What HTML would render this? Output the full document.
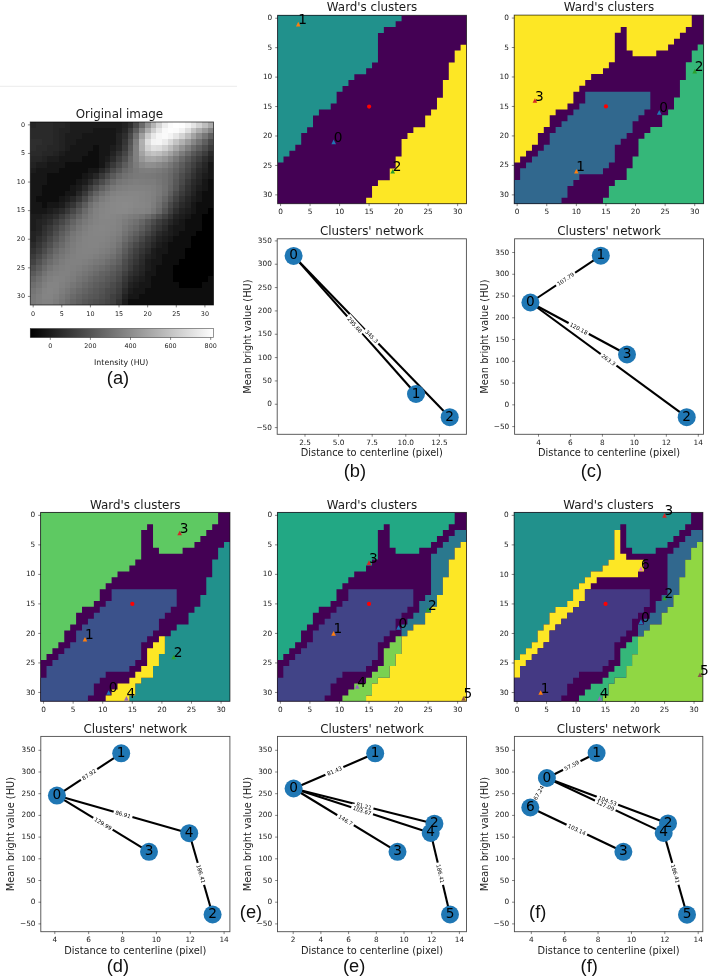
<!DOCTYPE html><html><head><meta charset="utf-8"><title>Figure</title><style>html,body{margin:0;padding:0;background:#fff}svg{display:block}</style></head><body>
<svg width="709" height="976" viewBox="0 0 709 976">
<rect width="709" height="976" fill="#fff"/>
<line x1="0" y1="86.3" x2="237" y2="86.3" stroke="#ececec" stroke-width="1"/>
<defs><clipPath id="ca"><rect x="30.30" y="122.00" width="183.20" height="183.00"/></clipPath><filter id="bl" x="-5%" y="-5%" width="110%" height="110%"><feGaussianBlur stdDeviation="0.55"/></filter></defs>
<g clip-path="url(#ca)"><g filter="url(#bl)" shape-rendering="crispEdges">
<rect x="24.3" y="116.0" width="195.20" height="195.00" fill="#222"/>
<rect x="24.58" y="116.28" width="6.32" height="6.32" fill="rgb(40,40,40)"/>
<rect x="30.30" y="116.28" width="6.32" height="6.32" fill="rgb(40,40,40)"/>
<rect x="36.02" y="116.28" width="6.32" height="6.32" fill="rgb(41,41,41)"/>
<rect x="41.75" y="116.28" width="6.32" height="6.32" fill="rgb(41,41,41)"/>
<rect x="47.47" y="116.28" width="6.32" height="6.32" fill="rgb(41,41,41)"/>
<rect x="53.20" y="116.28" width="6.32" height="6.32" fill="rgb(40,40,40)"/>
<rect x="58.92" y="116.28" width="6.32" height="6.32" fill="rgb(37,37,37)"/>
<rect x="64.65" y="116.28" width="6.32" height="6.32" fill="rgb(33,33,33)"/>
<rect x="70.38" y="116.28" width="6.32" height="6.32" fill="rgb(31,31,31)"/>
<rect x="76.10" y="116.28" width="6.32" height="6.32" fill="rgb(30,30,30)"/>
<rect x="81.83" y="116.28" width="6.32" height="6.32" fill="rgb(29,29,29)"/>
<rect x="87.55" y="116.28" width="6.32" height="6.32" fill="rgb(28,28,28)"/>
<rect x="93.27" y="116.28" width="6.32" height="6.32" fill="rgb(27,27,27)"/>
<rect x="99.00" y="116.28" width="6.32" height="6.32" fill="rgb(26,26,26)"/>
<rect x="104.72" y="116.28" width="6.32" height="6.32" fill="rgb(26,26,26)"/>
<rect x="110.45" y="116.28" width="6.32" height="6.32" fill="rgb(26,26,26)"/>
<rect x="116.17" y="116.28" width="6.32" height="6.32" fill="rgb(28,28,28)"/>
<rect x="121.90" y="116.28" width="6.32" height="6.32" fill="rgb(33,33,33)"/>
<rect x="127.62" y="116.28" width="6.32" height="6.32" fill="rgb(47,47,47)"/>
<rect x="133.35" y="116.28" width="6.32" height="6.32" fill="rgb(73,73,73)"/>
<rect x="139.07" y="116.28" width="6.32" height="6.32" fill="rgb(107,107,107)"/>
<rect x="144.80" y="116.28" width="6.32" height="6.32" fill="rgb(144,144,144)"/>
<rect x="150.53" y="116.28" width="6.32" height="6.32" fill="rgb(180,180,180)"/>
<rect x="156.25" y="116.28" width="6.32" height="6.32" fill="rgb(212,212,212)"/>
<rect x="161.97" y="116.28" width="6.32" height="6.32" fill="rgb(238,238,238)"/>
<rect x="167.70" y="116.28" width="6.32" height="6.32" fill="rgb(251,251,251)"/>
<rect x="173.43" y="116.28" width="6.32" height="6.32" fill="rgb(255,255,255)"/>
<rect x="179.15" y="116.28" width="6.32" height="6.32" fill="rgb(253,253,253)"/>
<rect x="184.88" y="116.28" width="6.32" height="6.32" fill="rgb(244,244,244)"/>
<rect x="190.60" y="116.28" width="6.32" height="6.32" fill="rgb(229,229,229)"/>
<rect x="196.32" y="116.28" width="6.32" height="6.32" fill="rgb(211,211,211)"/>
<rect x="202.05" y="116.28" width="6.32" height="6.32" fill="rgb(190,190,190)"/>
<rect x="207.78" y="116.28" width="6.32" height="6.32" fill="rgb(168,168,168)"/>
<rect x="213.50" y="116.28" width="6.32" height="6.32" fill="rgb(168,168,168)"/>
<rect x="24.58" y="122.00" width="6.32" height="6.32" fill="rgb(40,40,40)"/>
<rect x="30.30" y="122.00" width="6.32" height="6.32" fill="rgb(40,40,40)"/>
<rect x="36.02" y="122.00" width="6.32" height="6.32" fill="rgb(41,41,41)"/>
<rect x="41.75" y="122.00" width="6.32" height="6.32" fill="rgb(41,41,41)"/>
<rect x="47.47" y="122.00" width="6.32" height="6.32" fill="rgb(41,41,41)"/>
<rect x="53.20" y="122.00" width="6.32" height="6.32" fill="rgb(40,40,40)"/>
<rect x="58.92" y="122.00" width="6.32" height="6.32" fill="rgb(37,37,37)"/>
<rect x="64.65" y="122.00" width="6.32" height="6.32" fill="rgb(33,33,33)"/>
<rect x="70.38" y="122.00" width="6.32" height="6.32" fill="rgb(31,31,31)"/>
<rect x="76.10" y="122.00" width="6.32" height="6.32" fill="rgb(30,30,30)"/>
<rect x="81.83" y="122.00" width="6.32" height="6.32" fill="rgb(29,29,29)"/>
<rect x="87.55" y="122.00" width="6.32" height="6.32" fill="rgb(28,28,28)"/>
<rect x="93.27" y="122.00" width="6.32" height="6.32" fill="rgb(27,27,27)"/>
<rect x="99.00" y="122.00" width="6.32" height="6.32" fill="rgb(26,26,26)"/>
<rect x="104.72" y="122.00" width="6.32" height="6.32" fill="rgb(26,26,26)"/>
<rect x="110.45" y="122.00" width="6.32" height="6.32" fill="rgb(26,26,26)"/>
<rect x="116.17" y="122.00" width="6.32" height="6.32" fill="rgb(28,28,28)"/>
<rect x="121.90" y="122.00" width="6.32" height="6.32" fill="rgb(33,33,33)"/>
<rect x="127.62" y="122.00" width="6.32" height="6.32" fill="rgb(47,47,47)"/>
<rect x="133.35" y="122.00" width="6.32" height="6.32" fill="rgb(73,73,73)"/>
<rect x="139.07" y="122.00" width="6.32" height="6.32" fill="rgb(107,107,107)"/>
<rect x="144.80" y="122.00" width="6.32" height="6.32" fill="rgb(144,144,144)"/>
<rect x="150.53" y="122.00" width="6.32" height="6.32" fill="rgb(180,180,180)"/>
<rect x="156.25" y="122.00" width="6.32" height="6.32" fill="rgb(212,212,212)"/>
<rect x="161.97" y="122.00" width="6.32" height="6.32" fill="rgb(238,238,238)"/>
<rect x="167.70" y="122.00" width="6.32" height="6.32" fill="rgb(251,251,251)"/>
<rect x="173.43" y="122.00" width="6.32" height="6.32" fill="rgb(255,255,255)"/>
<rect x="179.15" y="122.00" width="6.32" height="6.32" fill="rgb(253,253,253)"/>
<rect x="184.88" y="122.00" width="6.32" height="6.32" fill="rgb(244,244,244)"/>
<rect x="190.60" y="122.00" width="6.32" height="6.32" fill="rgb(229,229,229)"/>
<rect x="196.32" y="122.00" width="6.32" height="6.32" fill="rgb(211,211,211)"/>
<rect x="202.05" y="122.00" width="6.32" height="6.32" fill="rgb(190,190,190)"/>
<rect x="207.78" y="122.00" width="6.32" height="6.32" fill="rgb(168,168,168)"/>
<rect x="213.50" y="122.00" width="6.32" height="6.32" fill="rgb(168,168,168)"/>
<rect x="24.58" y="127.72" width="6.32" height="6.32" fill="rgb(42,42,42)"/>
<rect x="30.30" y="127.72" width="6.32" height="6.32" fill="rgb(42,42,42)"/>
<rect x="36.02" y="127.72" width="6.32" height="6.32" fill="rgb(42,42,42)"/>
<rect x="41.75" y="127.72" width="6.32" height="6.32" fill="rgb(42,42,42)"/>
<rect x="47.47" y="127.72" width="6.32" height="6.32" fill="rgb(42,42,42)"/>
<rect x="53.20" y="127.72" width="6.32" height="6.32" fill="rgb(40,40,40)"/>
<rect x="58.92" y="127.72" width="6.32" height="6.32" fill="rgb(36,36,36)"/>
<rect x="64.65" y="127.72" width="6.32" height="6.32" fill="rgb(32,32,32)"/>
<rect x="70.38" y="127.72" width="6.32" height="6.32" fill="rgb(29,29,29)"/>
<rect x="76.10" y="127.72" width="6.32" height="6.32" fill="rgb(28,28,28)"/>
<rect x="81.83" y="127.72" width="6.32" height="6.32" fill="rgb(27,27,27)"/>
<rect x="87.55" y="127.72" width="6.32" height="6.32" fill="rgb(26,26,26)"/>
<rect x="93.27" y="127.72" width="6.32" height="6.32" fill="rgb(25,25,25)"/>
<rect x="99.00" y="127.72" width="6.32" height="6.32" fill="rgb(24,24,24)"/>
<rect x="104.72" y="127.72" width="6.32" height="6.32" fill="rgb(24,24,24)"/>
<rect x="110.45" y="127.72" width="6.32" height="6.32" fill="rgb(25,25,25)"/>
<rect x="116.17" y="127.72" width="6.32" height="6.32" fill="rgb(30,30,30)"/>
<rect x="121.90" y="127.72" width="6.32" height="6.32" fill="rgb(40,40,40)"/>
<rect x="127.62" y="127.72" width="6.32" height="6.32" fill="rgb(60,60,60)"/>
<rect x="133.35" y="127.72" width="6.32" height="6.32" fill="rgb(92,92,92)"/>
<rect x="139.07" y="127.72" width="6.32" height="6.32" fill="rgb(132,132,132)"/>
<rect x="144.80" y="127.72" width="6.32" height="6.32" fill="rgb(172,172,172)"/>
<rect x="150.53" y="127.72" width="6.32" height="6.32" fill="rgb(206,206,206)"/>
<rect x="156.25" y="127.72" width="6.32" height="6.32" fill="rgb(231,231,231)"/>
<rect x="161.97" y="127.72" width="6.32" height="6.32" fill="rgb(249,249,249)"/>
<rect x="167.70" y="127.72" width="6.32" height="6.32" fill="rgb(253,253,253)"/>
<rect x="173.43" y="127.72" width="6.32" height="6.32" fill="rgb(251,251,251)"/>
<rect x="179.15" y="127.72" width="6.32" height="6.32" fill="rgb(242,242,242)"/>
<rect x="184.88" y="127.72" width="6.32" height="6.32" fill="rgb(222,222,222)"/>
<rect x="190.60" y="127.72" width="6.32" height="6.32" fill="rgb(195,195,195)"/>
<rect x="196.32" y="127.72" width="6.32" height="6.32" fill="rgb(173,173,173)"/>
<rect x="202.05" y="127.72" width="6.32" height="6.32" fill="rgb(154,154,154)"/>
<rect x="207.78" y="127.72" width="6.32" height="6.32" fill="rgb(132,132,132)"/>
<rect x="213.50" y="127.72" width="6.32" height="6.32" fill="rgb(132,132,132)"/>
<rect x="24.58" y="133.44" width="6.32" height="6.32" fill="rgb(44,44,44)"/>
<rect x="30.30" y="133.44" width="6.32" height="6.32" fill="rgb(44,44,44)"/>
<rect x="36.02" y="133.44" width="6.32" height="6.32" fill="rgb(44,44,44)"/>
<rect x="41.75" y="133.44" width="6.32" height="6.32" fill="rgb(44,44,44)"/>
<rect x="47.47" y="133.44" width="6.32" height="6.32" fill="rgb(42,42,42)"/>
<rect x="53.20" y="133.44" width="6.32" height="6.32" fill="rgb(40,40,40)"/>
<rect x="58.92" y="133.44" width="6.32" height="6.32" fill="rgb(35,35,35)"/>
<rect x="64.65" y="133.44" width="6.32" height="6.32" fill="rgb(31,31,31)"/>
<rect x="70.38" y="133.44" width="6.32" height="6.32" fill="rgb(28,28,28)"/>
<rect x="76.10" y="133.44" width="6.32" height="6.32" fill="rgb(26,26,26)"/>
<rect x="81.83" y="133.44" width="6.32" height="6.32" fill="rgb(25,25,25)"/>
<rect x="87.55" y="133.44" width="6.32" height="6.32" fill="rgb(24,24,24)"/>
<rect x="93.27" y="133.44" width="6.32" height="6.32" fill="rgb(23,23,23)"/>
<rect x="99.00" y="133.44" width="6.32" height="6.32" fill="rgb(22,22,22)"/>
<rect x="104.72" y="133.44" width="6.32" height="6.32" fill="rgb(22,22,22)"/>
<rect x="110.45" y="133.44" width="6.32" height="6.32" fill="rgb(25,25,25)"/>
<rect x="116.17" y="133.44" width="6.32" height="6.32" fill="rgb(32,32,32)"/>
<rect x="121.90" y="133.44" width="6.32" height="6.32" fill="rgb(46,46,46)"/>
<rect x="127.62" y="133.44" width="6.32" height="6.32" fill="rgb(73,73,73)"/>
<rect x="133.35" y="133.44" width="6.32" height="6.32" fill="rgb(112,112,112)"/>
<rect x="139.07" y="133.44" width="6.32" height="6.32" fill="rgb(159,159,159)"/>
<rect x="144.80" y="133.44" width="6.32" height="6.32" fill="rgb(203,203,203)"/>
<rect x="150.53" y="133.44" width="6.32" height="6.32" fill="rgb(232,232,232)"/>
<rect x="156.25" y="133.44" width="6.32" height="6.32" fill="rgb(246,246,246)"/>
<rect x="161.97" y="133.44" width="6.32" height="6.32" fill="rgb(250,250,250)"/>
<rect x="167.70" y="133.44" width="6.32" height="6.32" fill="rgb(244,244,244)"/>
<rect x="173.43" y="133.44" width="6.32" height="6.32" fill="rgb(230,230,230)"/>
<rect x="179.15" y="133.44" width="6.32" height="6.32" fill="rgb(212,212,212)"/>
<rect x="184.88" y="133.44" width="6.32" height="6.32" fill="rgb(189,189,189)"/>
<rect x="190.60" y="133.44" width="6.32" height="6.32" fill="rgb(163,163,163)"/>
<rect x="196.32" y="133.44" width="6.32" height="6.32" fill="rgb(140,140,140)"/>
<rect x="202.05" y="133.44" width="6.32" height="6.32" fill="rgb(119,119,119)"/>
<rect x="207.78" y="133.44" width="6.32" height="6.32" fill="rgb(97,97,97)"/>
<rect x="213.50" y="133.44" width="6.32" height="6.32" fill="rgb(97,97,97)"/>
<rect x="24.58" y="139.16" width="6.32" height="6.32" fill="rgb(45,45,45)"/>
<rect x="30.30" y="139.16" width="6.32" height="6.32" fill="rgb(45,45,45)"/>
<rect x="36.02" y="139.16" width="6.32" height="6.32" fill="rgb(45,45,45)"/>
<rect x="41.75" y="139.16" width="6.32" height="6.32" fill="rgb(44,44,44)"/>
<rect x="47.47" y="139.16" width="6.32" height="6.32" fill="rgb(42,42,42)"/>
<rect x="53.20" y="139.16" width="6.32" height="6.32" fill="rgb(39,39,39)"/>
<rect x="58.92" y="139.16" width="6.32" height="6.32" fill="rgb(34,34,34)"/>
<rect x="64.65" y="139.16" width="6.32" height="6.32" fill="rgb(30,30,30)"/>
<rect x="70.38" y="139.16" width="6.32" height="6.32" fill="rgb(26,26,26)"/>
<rect x="76.10" y="139.16" width="6.32" height="6.32" fill="rgb(24,24,24)"/>
<rect x="81.83" y="139.16" width="6.32" height="6.32" fill="rgb(22,22,22)"/>
<rect x="87.55" y="139.16" width="6.32" height="6.32" fill="rgb(21,21,21)"/>
<rect x="93.27" y="139.16" width="6.32" height="6.32" fill="rgb(20,20,20)"/>
<rect x="99.00" y="139.16" width="6.32" height="6.32" fill="rgb(20,20,20)"/>
<rect x="104.72" y="139.16" width="6.32" height="6.32" fill="rgb(21,21,21)"/>
<rect x="110.45" y="139.16" width="6.32" height="6.32" fill="rgb(25,25,25)"/>
<rect x="116.17" y="139.16" width="6.32" height="6.32" fill="rgb(34,34,34)"/>
<rect x="121.90" y="139.16" width="6.32" height="6.32" fill="rgb(52,52,52)"/>
<rect x="127.62" y="139.16" width="6.32" height="6.32" fill="rgb(82,82,82)"/>
<rect x="133.35" y="139.16" width="6.32" height="6.32" fill="rgb(125,125,125)"/>
<rect x="139.07" y="139.16" width="6.32" height="6.32" fill="rgb(176,176,176)"/>
<rect x="144.80" y="139.16" width="6.32" height="6.32" fill="rgb(222,222,222)"/>
<rect x="150.53" y="139.16" width="6.32" height="6.32" fill="rgb(243,243,243)"/>
<rect x="156.25" y="139.16" width="6.32" height="6.32" fill="rgb(245,245,245)"/>
<rect x="161.97" y="139.16" width="6.32" height="6.32" fill="rgb(235,235,235)"/>
<rect x="167.70" y="139.16" width="6.32" height="6.32" fill="rgb(216,216,216)"/>
<rect x="173.43" y="139.16" width="6.32" height="6.32" fill="rgb(195,195,195)"/>
<rect x="179.15" y="139.16" width="6.32" height="6.32" fill="rgb(177,177,177)"/>
<rect x="184.88" y="139.16" width="6.32" height="6.32" fill="rgb(156,156,156)"/>
<rect x="190.60" y="139.16" width="6.32" height="6.32" fill="rgb(134,134,134)"/>
<rect x="196.32" y="139.16" width="6.32" height="6.32" fill="rgb(115,115,115)"/>
<rect x="202.05" y="139.16" width="6.32" height="6.32" fill="rgb(95,95,95)"/>
<rect x="207.78" y="139.16" width="6.32" height="6.32" fill="rgb(74,74,74)"/>
<rect x="213.50" y="139.16" width="6.32" height="6.32" fill="rgb(74,74,74)"/>
<rect x="24.58" y="144.88" width="6.32" height="6.32" fill="rgb(45,45,45)"/>
<rect x="30.30" y="144.88" width="6.32" height="6.32" fill="rgb(45,45,45)"/>
<rect x="36.02" y="144.88" width="6.32" height="6.32" fill="rgb(44,44,44)"/>
<rect x="41.75" y="144.88" width="6.32" height="6.32" fill="rgb(42,42,42)"/>
<rect x="47.47" y="144.88" width="6.32" height="6.32" fill="rgb(40,40,40)"/>
<rect x="53.20" y="144.88" width="6.32" height="6.32" fill="rgb(37,37,37)"/>
<rect x="58.92" y="144.88" width="6.32" height="6.32" fill="rgb(33,33,33)"/>
<rect x="64.65" y="144.88" width="6.32" height="6.32" fill="rgb(28,28,28)"/>
<rect x="70.38" y="144.88" width="6.32" height="6.32" fill="rgb(25,25,25)"/>
<rect x="76.10" y="144.88" width="6.32" height="6.32" fill="rgb(22,22,22)"/>
<rect x="81.83" y="144.88" width="6.32" height="6.32" fill="rgb(20,20,20)"/>
<rect x="87.55" y="144.88" width="6.32" height="6.32" fill="rgb(18,18,18)"/>
<rect x="93.27" y="144.88" width="6.32" height="6.32" fill="rgb(17,17,17)"/>
<rect x="99.00" y="144.88" width="6.32" height="6.32" fill="rgb(18,18,18)"/>
<rect x="104.72" y="144.88" width="6.32" height="6.32" fill="rgb(21,21,21)"/>
<rect x="110.45" y="144.88" width="6.32" height="6.32" fill="rgb(28,28,28)"/>
<rect x="116.17" y="144.88" width="6.32" height="6.32" fill="rgb(39,39,39)"/>
<rect x="121.90" y="144.88" width="6.32" height="6.32" fill="rgb(59,59,59)"/>
<rect x="127.62" y="144.88" width="6.32" height="6.32" fill="rgb(90,90,90)"/>
<rect x="133.35" y="144.88" width="6.32" height="6.32" fill="rgb(129,129,129)"/>
<rect x="139.07" y="144.88" width="6.32" height="6.32" fill="rgb(174,174,174)"/>
<rect x="144.80" y="144.88" width="6.32" height="6.32" fill="rgb(210,210,210)"/>
<rect x="150.53" y="144.88" width="6.32" height="6.32" fill="rgb(224,224,224)"/>
<rect x="156.25" y="144.88" width="6.32" height="6.32" fill="rgb(221,221,221)"/>
<rect x="161.97" y="144.88" width="6.32" height="6.32" fill="rgb(208,208,208)"/>
<rect x="167.70" y="144.88" width="6.32" height="6.32" fill="rgb(189,189,189)"/>
<rect x="173.43" y="144.88" width="6.32" height="6.32" fill="rgb(168,168,168)"/>
<rect x="179.15" y="144.88" width="6.32" height="6.32" fill="rgb(148,148,148)"/>
<rect x="184.88" y="144.88" width="6.32" height="6.32" fill="rgb(128,128,128)"/>
<rect x="190.60" y="144.88" width="6.32" height="6.32" fill="rgb(108,108,108)"/>
<rect x="196.32" y="144.88" width="6.32" height="6.32" fill="rgb(93,93,93)"/>
<rect x="202.05" y="144.88" width="6.32" height="6.32" fill="rgb(77,77,77)"/>
<rect x="207.78" y="144.88" width="6.32" height="6.32" fill="rgb(58,58,58)"/>
<rect x="213.50" y="144.88" width="6.32" height="6.32" fill="rgb(58,58,58)"/>
<rect x="24.58" y="150.59" width="6.32" height="6.32" fill="rgb(43,43,43)"/>
<rect x="30.30" y="150.59" width="6.32" height="6.32" fill="rgb(43,43,43)"/>
<rect x="36.02" y="150.59" width="6.32" height="6.32" fill="rgb(41,41,41)"/>
<rect x="41.75" y="150.59" width="6.32" height="6.32" fill="rgb(39,39,39)"/>
<rect x="47.47" y="150.59" width="6.32" height="6.32" fill="rgb(37,37,37)"/>
<rect x="53.20" y="150.59" width="6.32" height="6.32" fill="rgb(33,33,33)"/>
<rect x="58.92" y="150.59" width="6.32" height="6.32" fill="rgb(29,29,29)"/>
<rect x="64.65" y="150.59" width="6.32" height="6.32" fill="rgb(25,25,25)"/>
<rect x="70.38" y="150.59" width="6.32" height="6.32" fill="rgb(22,22,22)"/>
<rect x="76.10" y="150.59" width="6.32" height="6.32" fill="rgb(20,20,20)"/>
<rect x="81.83" y="150.59" width="6.32" height="6.32" fill="rgb(18,18,18)"/>
<rect x="87.55" y="150.59" width="6.32" height="6.32" fill="rgb(16,16,16)"/>
<rect x="93.27" y="150.59" width="6.32" height="6.32" fill="rgb(16,16,16)"/>
<rect x="99.00" y="150.59" width="6.32" height="6.32" fill="rgb(18,18,18)"/>
<rect x="104.72" y="150.59" width="6.32" height="6.32" fill="rgb(24,24,24)"/>
<rect x="110.45" y="150.59" width="6.32" height="6.32" fill="rgb(33,33,33)"/>
<rect x="116.17" y="150.59" width="6.32" height="6.32" fill="rgb(48,48,48)"/>
<rect x="121.90" y="150.59" width="6.32" height="6.32" fill="rgb(69,69,69)"/>
<rect x="127.62" y="150.59" width="6.32" height="6.32" fill="rgb(97,97,97)"/>
<rect x="133.35" y="150.59" width="6.32" height="6.32" fill="rgb(129,129,129)"/>
<rect x="139.07" y="150.59" width="6.32" height="6.32" fill="rgb(163,163,163)"/>
<rect x="144.80" y="150.59" width="6.32" height="6.32" fill="rgb(188,188,188)"/>
<rect x="150.53" y="150.59" width="6.32" height="6.32" fill="rgb(195,195,195)"/>
<rect x="156.25" y="150.59" width="6.32" height="6.32" fill="rgb(190,190,190)"/>
<rect x="161.97" y="150.59" width="6.32" height="6.32" fill="rgb(178,178,178)"/>
<rect x="167.70" y="150.59" width="6.32" height="6.32" fill="rgb(162,162,162)"/>
<rect x="173.43" y="150.59" width="6.32" height="6.32" fill="rgb(143,143,143)"/>
<rect x="179.15" y="150.59" width="6.32" height="6.32" fill="rgb(124,124,124)"/>
<rect x="184.88" y="150.59" width="6.32" height="6.32" fill="rgb(106,106,106)"/>
<rect x="190.60" y="150.59" width="6.32" height="6.32" fill="rgb(88,88,88)"/>
<rect x="196.32" y="150.59" width="6.32" height="6.32" fill="rgb(75,75,75)"/>
<rect x="202.05" y="150.59" width="6.32" height="6.32" fill="rgb(61,61,61)"/>
<rect x="207.78" y="150.59" width="6.32" height="6.32" fill="rgb(44,44,44)"/>
<rect x="213.50" y="150.59" width="6.32" height="6.32" fill="rgb(44,44,44)"/>
<rect x="24.58" y="156.31" width="6.32" height="6.32" fill="rgb(39,39,39)"/>
<rect x="30.30" y="156.31" width="6.32" height="6.32" fill="rgb(39,39,39)"/>
<rect x="36.02" y="156.31" width="6.32" height="6.32" fill="rgb(37,37,37)"/>
<rect x="41.75" y="156.31" width="6.32" height="6.32" fill="rgb(34,34,34)"/>
<rect x="47.47" y="156.31" width="6.32" height="6.32" fill="rgb(31,31,31)"/>
<rect x="53.20" y="156.31" width="6.32" height="6.32" fill="rgb(28,28,28)"/>
<rect x="58.92" y="156.31" width="6.32" height="6.32" fill="rgb(24,24,24)"/>
<rect x="64.65" y="156.31" width="6.32" height="6.32" fill="rgb(21,21,21)"/>
<rect x="70.38" y="156.31" width="6.32" height="6.32" fill="rgb(19,19,19)"/>
<rect x="76.10" y="156.31" width="6.32" height="6.32" fill="rgb(18,18,18)"/>
<rect x="81.83" y="156.31" width="6.32" height="6.32" fill="rgb(16,16,16)"/>
<rect x="87.55" y="156.31" width="6.32" height="6.32" fill="rgb(15,15,15)"/>
<rect x="93.27" y="156.31" width="6.32" height="6.32" fill="rgb(15,15,15)"/>
<rect x="99.00" y="156.31" width="6.32" height="6.32" fill="rgb(20,20,20)"/>
<rect x="104.72" y="156.31" width="6.32" height="6.32" fill="rgb(29,29,29)"/>
<rect x="110.45" y="156.31" width="6.32" height="6.32" fill="rgb(43,43,43)"/>
<rect x="116.17" y="156.31" width="6.32" height="6.32" fill="rgb(60,60,60)"/>
<rect x="121.90" y="156.31" width="6.32" height="6.32" fill="rgb(80,80,80)"/>
<rect x="127.62" y="156.31" width="6.32" height="6.32" fill="rgb(104,104,104)"/>
<rect x="133.35" y="156.31" width="6.32" height="6.32" fill="rgb(128,128,128)"/>
<rect x="139.07" y="156.31" width="6.32" height="6.32" fill="rgb(151,151,151)"/>
<rect x="144.80" y="156.31" width="6.32" height="6.32" fill="rgb(165,165,165)"/>
<rect x="150.53" y="156.31" width="6.32" height="6.32" fill="rgb(167,167,167)"/>
<rect x="156.25" y="156.31" width="6.32" height="6.32" fill="rgb(161,161,161)"/>
<rect x="161.97" y="156.31" width="6.32" height="6.32" fill="rgb(152,152,152)"/>
<rect x="167.70" y="156.31" width="6.32" height="6.32" fill="rgb(137,137,137)"/>
<rect x="173.43" y="156.31" width="6.32" height="6.32" fill="rgb(121,121,121)"/>
<rect x="179.15" y="156.31" width="6.32" height="6.32" fill="rgb(104,104,104)"/>
<rect x="184.88" y="156.31" width="6.32" height="6.32" fill="rgb(88,88,88)"/>
<rect x="190.60" y="156.31" width="6.32" height="6.32" fill="rgb(73,73,73)"/>
<rect x="196.32" y="156.31" width="6.32" height="6.32" fill="rgb(61,61,61)"/>
<rect x="202.05" y="156.31" width="6.32" height="6.32" fill="rgb(47,47,47)"/>
<rect x="207.78" y="156.31" width="6.32" height="6.32" fill="rgb(32,32,32)"/>
<rect x="213.50" y="156.31" width="6.32" height="6.32" fill="rgb(32,32,32)"/>
<rect x="24.58" y="162.03" width="6.32" height="6.32" fill="rgb(33,33,33)"/>
<rect x="30.30" y="162.03" width="6.32" height="6.32" fill="rgb(33,33,33)"/>
<rect x="36.02" y="162.03" width="6.32" height="6.32" fill="rgb(31,31,31)"/>
<rect x="41.75" y="162.03" width="6.32" height="6.32" fill="rgb(28,28,28)"/>
<rect x="47.47" y="162.03" width="6.32" height="6.32" fill="rgb(25,25,25)"/>
<rect x="53.20" y="162.03" width="6.32" height="6.32" fill="rgb(23,23,23)"/>
<rect x="58.92" y="162.03" width="6.32" height="6.32" fill="rgb(20,20,20)"/>
<rect x="64.65" y="162.03" width="6.32" height="6.32" fill="rgb(17,17,17)"/>
<rect x="70.38" y="162.03" width="6.32" height="6.32" fill="rgb(16,16,16)"/>
<rect x="76.10" y="162.03" width="6.32" height="6.32" fill="rgb(15,15,15)"/>
<rect x="81.83" y="162.03" width="6.32" height="6.32" fill="rgb(14,14,14)"/>
<rect x="87.55" y="162.03" width="6.32" height="6.32" fill="rgb(15,15,15)"/>
<rect x="93.27" y="162.03" width="6.32" height="6.32" fill="rgb(17,17,17)"/>
<rect x="99.00" y="162.03" width="6.32" height="6.32" fill="rgb(25,25,25)"/>
<rect x="104.72" y="162.03" width="6.32" height="6.32" fill="rgb(39,39,39)"/>
<rect x="110.45" y="162.03" width="6.32" height="6.32" fill="rgb(56,56,56)"/>
<rect x="116.17" y="162.03" width="6.32" height="6.32" fill="rgb(74,74,74)"/>
<rect x="121.90" y="162.03" width="6.32" height="6.32" fill="rgb(92,92,92)"/>
<rect x="127.62" y="162.03" width="6.32" height="6.32" fill="rgb(108,108,108)"/>
<rect x="133.35" y="162.03" width="6.32" height="6.32" fill="rgb(124,124,124)"/>
<rect x="139.07" y="162.03" width="6.32" height="6.32" fill="rgb(137,137,137)"/>
<rect x="144.80" y="162.03" width="6.32" height="6.32" fill="rgb(143,143,143)"/>
<rect x="150.53" y="162.03" width="6.32" height="6.32" fill="rgb(142,142,142)"/>
<rect x="156.25" y="162.03" width="6.32" height="6.32" fill="rgb(137,137,137)"/>
<rect x="161.97" y="162.03" width="6.32" height="6.32" fill="rgb(130,130,130)"/>
<rect x="167.70" y="162.03" width="6.32" height="6.32" fill="rgb(119,119,119)"/>
<rect x="173.43" y="162.03" width="6.32" height="6.32" fill="rgb(106,106,106)"/>
<rect x="179.15" y="162.03" width="6.32" height="6.32" fill="rgb(92,92,92)"/>
<rect x="184.88" y="162.03" width="6.32" height="6.32" fill="rgb(78,78,78)"/>
<rect x="190.60" y="162.03" width="6.32" height="6.32" fill="rgb(64,64,64)"/>
<rect x="196.32" y="162.03" width="6.32" height="6.32" fill="rgb(51,51,51)"/>
<rect x="202.05" y="162.03" width="6.32" height="6.32" fill="rgb(38,38,38)"/>
<rect x="207.78" y="162.03" width="6.32" height="6.32" fill="rgb(24,24,24)"/>
<rect x="213.50" y="162.03" width="6.32" height="6.32" fill="rgb(24,24,24)"/>
<rect x="24.58" y="167.75" width="6.32" height="6.32" fill="rgb(28,28,28)"/>
<rect x="30.30" y="167.75" width="6.32" height="6.32" fill="rgb(28,28,28)"/>
<rect x="36.02" y="167.75" width="6.32" height="6.32" fill="rgb(25,25,25)"/>
<rect x="41.75" y="167.75" width="6.32" height="6.32" fill="rgb(23,23,23)"/>
<rect x="47.47" y="167.75" width="6.32" height="6.32" fill="rgb(20,20,20)"/>
<rect x="53.20" y="167.75" width="6.32" height="6.32" fill="rgb(18,18,18)"/>
<rect x="58.92" y="167.75" width="6.32" height="6.32" fill="rgb(17,17,17)"/>
<rect x="64.65" y="167.75" width="6.32" height="6.32" fill="rgb(15,15,15)"/>
<rect x="70.38" y="167.75" width="6.32" height="6.32" fill="rgb(15,15,15)"/>
<rect x="76.10" y="167.75" width="6.32" height="6.32" fill="rgb(15,15,15)"/>
<rect x="81.83" y="167.75" width="6.32" height="6.32" fill="rgb(16,16,16)"/>
<rect x="87.55" y="167.75" width="6.32" height="6.32" fill="rgb(19,19,19)"/>
<rect x="93.27" y="167.75" width="6.32" height="6.32" fill="rgb(25,25,25)"/>
<rect x="99.00" y="167.75" width="6.32" height="6.32" fill="rgb(37,37,37)"/>
<rect x="104.72" y="167.75" width="6.32" height="6.32" fill="rgb(53,53,53)"/>
<rect x="110.45" y="167.75" width="6.32" height="6.32" fill="rgb(72,72,72)"/>
<rect x="116.17" y="167.75" width="6.32" height="6.32" fill="rgb(89,89,89)"/>
<rect x="121.90" y="167.75" width="6.32" height="6.32" fill="rgb(103,103,103)"/>
<rect x="127.62" y="167.75" width="6.32" height="6.32" fill="rgb(112,112,112)"/>
<rect x="133.35" y="167.75" width="6.32" height="6.32" fill="rgb(120,120,120)"/>
<rect x="139.07" y="167.75" width="6.32" height="6.32" fill="rgb(125,125,125)"/>
<rect x="144.80" y="167.75" width="6.32" height="6.32" fill="rgb(126,126,126)"/>
<rect x="150.53" y="167.75" width="6.32" height="6.32" fill="rgb(125,125,125)"/>
<rect x="156.25" y="167.75" width="6.32" height="6.32" fill="rgb(122,122,122)"/>
<rect x="161.97" y="167.75" width="6.32" height="6.32" fill="rgb(117,117,117)"/>
<rect x="167.70" y="167.75" width="6.32" height="6.32" fill="rgb(109,109,109)"/>
<rect x="173.43" y="167.75" width="6.32" height="6.32" fill="rgb(98,98,98)"/>
<rect x="179.15" y="167.75" width="6.32" height="6.32" fill="rgb(85,85,85)"/>
<rect x="184.88" y="167.75" width="6.32" height="6.32" fill="rgb(70,70,70)"/>
<rect x="190.60" y="167.75" width="6.32" height="6.32" fill="rgb(56,56,56)"/>
<rect x="196.32" y="167.75" width="6.32" height="6.32" fill="rgb(44,44,44)"/>
<rect x="202.05" y="167.75" width="6.32" height="6.32" fill="rgb(32,32,32)"/>
<rect x="207.78" y="167.75" width="6.32" height="6.32" fill="rgb(20,20,20)"/>
<rect x="213.50" y="167.75" width="6.32" height="6.32" fill="rgb(20,20,20)"/>
<rect x="24.58" y="173.47" width="6.32" height="6.32" fill="rgb(25,25,25)"/>
<rect x="30.30" y="173.47" width="6.32" height="6.32" fill="rgb(25,25,25)"/>
<rect x="36.02" y="173.47" width="6.32" height="6.32" fill="rgb(22,22,22)"/>
<rect x="41.75" y="173.47" width="6.32" height="6.32" fill="rgb(20,20,20)"/>
<rect x="47.47" y="173.47" width="6.32" height="6.32" fill="rgb(17,17,17)"/>
<rect x="53.20" y="173.47" width="6.32" height="6.32" fill="rgb(16,16,16)"/>
<rect x="58.92" y="173.47" width="6.32" height="6.32" fill="rgb(15,15,15)"/>
<rect x="64.65" y="173.47" width="6.32" height="6.32" fill="rgb(14,14,14)"/>
<rect x="70.38" y="173.47" width="6.32" height="6.32" fill="rgb(15,15,15)"/>
<rect x="76.10" y="173.47" width="6.32" height="6.32" fill="rgb(17,17,17)"/>
<rect x="81.83" y="173.47" width="6.32" height="6.32" fill="rgb(21,21,21)"/>
<rect x="87.55" y="173.47" width="6.32" height="6.32" fill="rgb(29,29,29)"/>
<rect x="93.27" y="173.47" width="6.32" height="6.32" fill="rgb(40,40,40)"/>
<rect x="99.00" y="173.47" width="6.32" height="6.32" fill="rgb(55,55,55)"/>
<rect x="104.72" y="173.47" width="6.32" height="6.32" fill="rgb(72,72,72)"/>
<rect x="110.45" y="173.47" width="6.32" height="6.32" fill="rgb(90,90,90)"/>
<rect x="116.17" y="173.47" width="6.32" height="6.32" fill="rgb(104,104,104)"/>
<rect x="121.90" y="173.47" width="6.32" height="6.32" fill="rgb(113,113,113)"/>
<rect x="127.62" y="173.47" width="6.32" height="6.32" fill="rgb(118,118,118)"/>
<rect x="133.35" y="173.47" width="6.32" height="6.32" fill="rgb(121,121,121)"/>
<rect x="139.07" y="173.47" width="6.32" height="6.32" fill="rgb(122,122,122)"/>
<rect x="144.80" y="173.47" width="6.32" height="6.32" fill="rgb(121,121,121)"/>
<rect x="150.53" y="173.47" width="6.32" height="6.32" fill="rgb(120,120,120)"/>
<rect x="156.25" y="173.47" width="6.32" height="6.32" fill="rgb(117,117,117)"/>
<rect x="161.97" y="173.47" width="6.32" height="6.32" fill="rgb(113,113,113)"/>
<rect x="167.70" y="173.47" width="6.32" height="6.32" fill="rgb(105,105,105)"/>
<rect x="173.43" y="173.47" width="6.32" height="6.32" fill="rgb(92,92,92)"/>
<rect x="179.15" y="173.47" width="6.32" height="6.32" fill="rgb(78,78,78)"/>
<rect x="184.88" y="173.47" width="6.32" height="6.32" fill="rgb(63,63,63)"/>
<rect x="190.60" y="173.47" width="6.32" height="6.32" fill="rgb(49,49,49)"/>
<rect x="196.32" y="173.47" width="6.32" height="6.32" fill="rgb(38,38,38)"/>
<rect x="202.05" y="173.47" width="6.32" height="6.32" fill="rgb(28,28,28)"/>
<rect x="207.78" y="173.47" width="6.32" height="6.32" fill="rgb(19,19,19)"/>
<rect x="213.50" y="173.47" width="6.32" height="6.32" fill="rgb(19,19,19)"/>
<rect x="24.58" y="179.19" width="6.32" height="6.32" fill="rgb(24,24,24)"/>
<rect x="30.30" y="179.19" width="6.32" height="6.32" fill="rgb(24,24,24)"/>
<rect x="36.02" y="179.19" width="6.32" height="6.32" fill="rgb(21,21,21)"/>
<rect x="41.75" y="179.19" width="6.32" height="6.32" fill="rgb(18,18,18)"/>
<rect x="47.47" y="179.19" width="6.32" height="6.32" fill="rgb(16,16,16)"/>
<rect x="53.20" y="179.19" width="6.32" height="6.32" fill="rgb(14,14,14)"/>
<rect x="58.92" y="179.19" width="6.32" height="6.32" fill="rgb(14,14,14)"/>
<rect x="64.65" y="179.19" width="6.32" height="6.32" fill="rgb(14,14,14)"/>
<rect x="70.38" y="179.19" width="6.32" height="6.32" fill="rgb(16,16,16)"/>
<rect x="76.10" y="179.19" width="6.32" height="6.32" fill="rgb(21,21,21)"/>
<rect x="81.83" y="179.19" width="6.32" height="6.32" fill="rgb(30,30,30)"/>
<rect x="87.55" y="179.19" width="6.32" height="6.32" fill="rgb(43,43,43)"/>
<rect x="93.27" y="179.19" width="6.32" height="6.32" fill="rgb(59,59,59)"/>
<rect x="99.00" y="179.19" width="6.32" height="6.32" fill="rgb(76,76,76)"/>
<rect x="104.72" y="179.19" width="6.32" height="6.32" fill="rgb(92,92,92)"/>
<rect x="110.45" y="179.19" width="6.32" height="6.32" fill="rgb(106,106,106)"/>
<rect x="116.17" y="179.19" width="6.32" height="6.32" fill="rgb(116,116,116)"/>
<rect x="121.90" y="179.19" width="6.32" height="6.32" fill="rgb(121,121,121)"/>
<rect x="127.62" y="179.19" width="6.32" height="6.32" fill="rgb(124,124,124)"/>
<rect x="133.35" y="179.19" width="6.32" height="6.32" fill="rgb(126,126,126)"/>
<rect x="139.07" y="179.19" width="6.32" height="6.32" fill="rgb(125,125,125)"/>
<rect x="144.80" y="179.19" width="6.32" height="6.32" fill="rgb(124,124,124)"/>
<rect x="150.53" y="179.19" width="6.32" height="6.32" fill="rgb(123,123,123)"/>
<rect x="156.25" y="179.19" width="6.32" height="6.32" fill="rgb(119,119,119)"/>
<rect x="161.97" y="179.19" width="6.32" height="6.32" fill="rgb(113,113,113)"/>
<rect x="167.70" y="179.19" width="6.32" height="6.32" fill="rgb(104,104,104)"/>
<rect x="173.43" y="179.19" width="6.32" height="6.32" fill="rgb(89,89,89)"/>
<rect x="179.15" y="179.19" width="6.32" height="6.32" fill="rgb(72,72,72)"/>
<rect x="184.88" y="179.19" width="6.32" height="6.32" fill="rgb(56,56,56)"/>
<rect x="190.60" y="179.19" width="6.32" height="6.32" fill="rgb(43,43,43)"/>
<rect x="196.32" y="179.19" width="6.32" height="6.32" fill="rgb(33,33,33)"/>
<rect x="202.05" y="179.19" width="6.32" height="6.32" fill="rgb(24,24,24)"/>
<rect x="207.78" y="179.19" width="6.32" height="6.32" fill="rgb(17,17,17)"/>
<rect x="213.50" y="179.19" width="6.32" height="6.32" fill="rgb(17,17,17)"/>
<rect x="24.58" y="184.91" width="6.32" height="6.32" fill="rgb(23,23,23)"/>
<rect x="30.30" y="184.91" width="6.32" height="6.32" fill="rgb(23,23,23)"/>
<rect x="36.02" y="184.91" width="6.32" height="6.32" fill="rgb(20,20,20)"/>
<rect x="41.75" y="184.91" width="6.32" height="6.32" fill="rgb(17,17,17)"/>
<rect x="47.47" y="184.91" width="6.32" height="6.32" fill="rgb(15,15,15)"/>
<rect x="53.20" y="184.91" width="6.32" height="6.32" fill="rgb(14,14,14)"/>
<rect x="58.92" y="184.91" width="6.32" height="6.32" fill="rgb(14,14,14)"/>
<rect x="64.65" y="184.91" width="6.32" height="6.32" fill="rgb(15,15,15)"/>
<rect x="70.38" y="184.91" width="6.32" height="6.32" fill="rgb(18,18,18)"/>
<rect x="76.10" y="184.91" width="6.32" height="6.32" fill="rgb(27,27,27)"/>
<rect x="81.83" y="184.91" width="6.32" height="6.32" fill="rgb(41,41,41)"/>
<rect x="87.55" y="184.91" width="6.32" height="6.32" fill="rgb(60,60,60)"/>
<rect x="93.27" y="184.91" width="6.32" height="6.32" fill="rgb(79,79,79)"/>
<rect x="99.00" y="184.91" width="6.32" height="6.32" fill="rgb(96,96,96)"/>
<rect x="104.72" y="184.91" width="6.32" height="6.32" fill="rgb(109,109,109)"/>
<rect x="110.45" y="184.91" width="6.32" height="6.32" fill="rgb(120,120,120)"/>
<rect x="116.17" y="184.91" width="6.32" height="6.32" fill="rgb(126,126,126)"/>
<rect x="121.90" y="184.91" width="6.32" height="6.32" fill="rgb(128,128,128)"/>
<rect x="127.62" y="184.91" width="6.32" height="6.32" fill="rgb(130,130,130)"/>
<rect x="133.35" y="184.91" width="6.32" height="6.32" fill="rgb(130,130,130)"/>
<rect x="139.07" y="184.91" width="6.32" height="6.32" fill="rgb(130,130,130)"/>
<rect x="144.80" y="184.91" width="6.32" height="6.32" fill="rgb(129,129,129)"/>
<rect x="150.53" y="184.91" width="6.32" height="6.32" fill="rgb(127,127,127)"/>
<rect x="156.25" y="184.91" width="6.32" height="6.32" fill="rgb(122,122,122)"/>
<rect x="161.97" y="184.91" width="6.32" height="6.32" fill="rgb(114,114,114)"/>
<rect x="167.70" y="184.91" width="6.32" height="6.32" fill="rgb(101,101,101)"/>
<rect x="173.43" y="184.91" width="6.32" height="6.32" fill="rgb(84,84,84)"/>
<rect x="179.15" y="184.91" width="6.32" height="6.32" fill="rgb(66,66,66)"/>
<rect x="184.88" y="184.91" width="6.32" height="6.32" fill="rgb(51,51,51)"/>
<rect x="190.60" y="184.91" width="6.32" height="6.32" fill="rgb(39,39,39)"/>
<rect x="196.32" y="184.91" width="6.32" height="6.32" fill="rgb(29,29,29)"/>
<rect x="202.05" y="184.91" width="6.32" height="6.32" fill="rgb(21,21,21)"/>
<rect x="207.78" y="184.91" width="6.32" height="6.32" fill="rgb(14,14,14)"/>
<rect x="213.50" y="184.91" width="6.32" height="6.32" fill="rgb(14,14,14)"/>
<rect x="24.58" y="190.62" width="6.32" height="6.32" fill="rgb(21,21,21)"/>
<rect x="30.30" y="190.62" width="6.32" height="6.32" fill="rgb(21,21,21)"/>
<rect x="36.02" y="190.62" width="6.32" height="6.32" fill="rgb(19,19,19)"/>
<rect x="41.75" y="190.62" width="6.32" height="6.32" fill="rgb(16,16,16)"/>
<rect x="47.47" y="190.62" width="6.32" height="6.32" fill="rgb(15,15,15)"/>
<rect x="53.20" y="190.62" width="6.32" height="6.32" fill="rgb(15,15,15)"/>
<rect x="58.92" y="190.62" width="6.32" height="6.32" fill="rgb(16,16,16)"/>
<rect x="64.65" y="190.62" width="6.32" height="6.32" fill="rgb(19,19,19)"/>
<rect x="70.38" y="190.62" width="6.32" height="6.32" fill="rgb(25,25,25)"/>
<rect x="76.10" y="190.62" width="6.32" height="6.32" fill="rgb(37,37,37)"/>
<rect x="81.83" y="190.62" width="6.32" height="6.32" fill="rgb(57,57,57)"/>
<rect x="87.55" y="190.62" width="6.32" height="6.32" fill="rgb(79,79,79)"/>
<rect x="93.27" y="190.62" width="6.32" height="6.32" fill="rgb(98,98,98)"/>
<rect x="99.00" y="190.62" width="6.32" height="6.32" fill="rgb(112,112,112)"/>
<rect x="104.72" y="190.62" width="6.32" height="6.32" fill="rgb(122,122,122)"/>
<rect x="110.45" y="190.62" width="6.32" height="6.32" fill="rgb(129,129,129)"/>
<rect x="116.17" y="190.62" width="6.32" height="6.32" fill="rgb(132,132,132)"/>
<rect x="121.90" y="190.62" width="6.32" height="6.32" fill="rgb(133,133,133)"/>
<rect x="127.62" y="190.62" width="6.32" height="6.32" fill="rgb(134,134,134)"/>
<rect x="133.35" y="190.62" width="6.32" height="6.32" fill="rgb(134,134,134)"/>
<rect x="139.07" y="190.62" width="6.32" height="6.32" fill="rgb(133,133,133)"/>
<rect x="144.80" y="190.62" width="6.32" height="6.32" fill="rgb(131,131,131)"/>
<rect x="150.53" y="190.62" width="6.32" height="6.32" fill="rgb(128,128,128)"/>
<rect x="156.25" y="190.62" width="6.32" height="6.32" fill="rgb(122,122,122)"/>
<rect x="161.97" y="190.62" width="6.32" height="6.32" fill="rgb(111,111,111)"/>
<rect x="167.70" y="190.62" width="6.32" height="6.32" fill="rgb(95,95,95)"/>
<rect x="173.43" y="190.62" width="6.32" height="6.32" fill="rgb(76,76,76)"/>
<rect x="179.15" y="190.62" width="6.32" height="6.32" fill="rgb(59,59,59)"/>
<rect x="184.88" y="190.62" width="6.32" height="6.32" fill="rgb(45,45,45)"/>
<rect x="190.60" y="190.62" width="6.32" height="6.32" fill="rgb(34,34,34)"/>
<rect x="196.32" y="190.62" width="6.32" height="6.32" fill="rgb(25,25,25)"/>
<rect x="202.05" y="190.62" width="6.32" height="6.32" fill="rgb(17,17,17)"/>
<rect x="207.78" y="190.62" width="6.32" height="6.32" fill="rgb(11,11,11)"/>
<rect x="213.50" y="190.62" width="6.32" height="6.32" fill="rgb(11,11,11)"/>
<rect x="24.58" y="196.34" width="6.32" height="6.32" fill="rgb(19,19,19)"/>
<rect x="30.30" y="196.34" width="6.32" height="6.32" fill="rgb(19,19,19)"/>
<rect x="36.02" y="196.34" width="6.32" height="6.32" fill="rgb(17,17,17)"/>
<rect x="41.75" y="196.34" width="6.32" height="6.32" fill="rgb(16,16,16)"/>
<rect x="47.47" y="196.34" width="6.32" height="6.32" fill="rgb(15,15,15)"/>
<rect x="53.20" y="196.34" width="6.32" height="6.32" fill="rgb(17,17,17)"/>
<rect x="58.92" y="196.34" width="6.32" height="6.32" fill="rgb(22,22,22)"/>
<rect x="64.65" y="196.34" width="6.32" height="6.32" fill="rgb(28,28,28)"/>
<rect x="70.38" y="196.34" width="6.32" height="6.32" fill="rgb(38,38,38)"/>
<rect x="76.10" y="196.34" width="6.32" height="6.32" fill="rgb(53,53,53)"/>
<rect x="81.83" y="196.34" width="6.32" height="6.32" fill="rgb(74,74,74)"/>
<rect x="87.55" y="196.34" width="6.32" height="6.32" fill="rgb(96,96,96)"/>
<rect x="93.27" y="196.34" width="6.32" height="6.32" fill="rgb(112,112,112)"/>
<rect x="99.00" y="196.34" width="6.32" height="6.32" fill="rgb(124,124,124)"/>
<rect x="104.72" y="196.34" width="6.32" height="6.32" fill="rgb(130,130,130)"/>
<rect x="110.45" y="196.34" width="6.32" height="6.32" fill="rgb(134,134,134)"/>
<rect x="116.17" y="196.34" width="6.32" height="6.32" fill="rgb(136,136,136)"/>
<rect x="121.90" y="196.34" width="6.32" height="6.32" fill="rgb(136,136,136)"/>
<rect x="127.62" y="196.34" width="6.32" height="6.32" fill="rgb(136,136,136)"/>
<rect x="133.35" y="196.34" width="6.32" height="6.32" fill="rgb(135,135,135)"/>
<rect x="139.07" y="196.34" width="6.32" height="6.32" fill="rgb(133,133,133)"/>
<rect x="144.80" y="196.34" width="6.32" height="6.32" fill="rgb(131,131,131)"/>
<rect x="150.53" y="196.34" width="6.32" height="6.32" fill="rgb(127,127,127)"/>
<rect x="156.25" y="196.34" width="6.32" height="6.32" fill="rgb(118,118,118)"/>
<rect x="161.97" y="196.34" width="6.32" height="6.32" fill="rgb(104,104,104)"/>
<rect x="167.70" y="196.34" width="6.32" height="6.32" fill="rgb(85,85,85)"/>
<rect x="173.43" y="196.34" width="6.32" height="6.32" fill="rgb(67,67,67)"/>
<rect x="179.15" y="196.34" width="6.32" height="6.32" fill="rgb(51,51,51)"/>
<rect x="184.88" y="196.34" width="6.32" height="6.32" fill="rgb(38,38,38)"/>
<rect x="190.60" y="196.34" width="6.32" height="6.32" fill="rgb(28,28,28)"/>
<rect x="196.32" y="196.34" width="6.32" height="6.32" fill="rgb(20,20,20)"/>
<rect x="202.05" y="196.34" width="6.32" height="6.32" fill="rgb(14,14,14)"/>
<rect x="207.78" y="196.34" width="6.32" height="6.32" fill="rgb(9,9,9)"/>
<rect x="213.50" y="196.34" width="6.32" height="6.32" fill="rgb(9,9,9)"/>
<rect x="24.58" y="202.06" width="6.32" height="6.32" fill="rgb(18,18,18)"/>
<rect x="30.30" y="202.06" width="6.32" height="6.32" fill="rgb(18,18,18)"/>
<rect x="36.02" y="202.06" width="6.32" height="6.32" fill="rgb(18,18,18)"/>
<rect x="41.75" y="202.06" width="6.32" height="6.32" fill="rgb(17,17,17)"/>
<rect x="47.47" y="202.06" width="6.32" height="6.32" fill="rgb(19,19,19)"/>
<rect x="53.20" y="202.06" width="6.32" height="6.32" fill="rgb(24,24,24)"/>
<rect x="58.92" y="202.06" width="6.32" height="6.32" fill="rgb(31,31,31)"/>
<rect x="64.65" y="202.06" width="6.32" height="6.32" fill="rgb(41,41,41)"/>
<rect x="70.38" y="202.06" width="6.32" height="6.32" fill="rgb(54,54,54)"/>
<rect x="76.10" y="202.06" width="6.32" height="6.32" fill="rgb(72,72,72)"/>
<rect x="81.83" y="202.06" width="6.32" height="6.32" fill="rgb(92,92,92)"/>
<rect x="87.55" y="202.06" width="6.32" height="6.32" fill="rgb(111,111,111)"/>
<rect x="93.27" y="202.06" width="6.32" height="6.32" fill="rgb(124,124,124)"/>
<rect x="99.00" y="202.06" width="6.32" height="6.32" fill="rgb(131,131,131)"/>
<rect x="104.72" y="202.06" width="6.32" height="6.32" fill="rgb(134,134,134)"/>
<rect x="110.45" y="202.06" width="6.32" height="6.32" fill="rgb(136,136,136)"/>
<rect x="116.17" y="202.06" width="6.32" height="6.32" fill="rgb(137,137,137)"/>
<rect x="121.90" y="202.06" width="6.32" height="6.32" fill="rgb(138,138,138)"/>
<rect x="127.62" y="202.06" width="6.32" height="6.32" fill="rgb(137,137,137)"/>
<rect x="133.35" y="202.06" width="6.32" height="6.32" fill="rgb(135,135,135)"/>
<rect x="139.07" y="202.06" width="6.32" height="6.32" fill="rgb(134,134,134)"/>
<rect x="144.80" y="202.06" width="6.32" height="6.32" fill="rgb(132,132,132)"/>
<rect x="150.53" y="202.06" width="6.32" height="6.32" fill="rgb(125,125,125)"/>
<rect x="156.25" y="202.06" width="6.32" height="6.32" fill="rgb(113,113,113)"/>
<rect x="161.97" y="202.06" width="6.32" height="6.32" fill="rgb(95,95,95)"/>
<rect x="167.70" y="202.06" width="6.32" height="6.32" fill="rgb(74,74,74)"/>
<rect x="173.43" y="202.06" width="6.32" height="6.32" fill="rgb(56,56,56)"/>
<rect x="179.15" y="202.06" width="6.32" height="6.32" fill="rgb(43,43,43)"/>
<rect x="184.88" y="202.06" width="6.32" height="6.32" fill="rgb(32,32,32)"/>
<rect x="190.60" y="202.06" width="6.32" height="6.32" fill="rgb(23,23,23)"/>
<rect x="196.32" y="202.06" width="6.32" height="6.32" fill="rgb(16,16,16)"/>
<rect x="202.05" y="202.06" width="6.32" height="6.32" fill="rgb(10,10,10)"/>
<rect x="207.78" y="202.06" width="6.32" height="6.32" fill="rgb(7,7,7)"/>
<rect x="213.50" y="202.06" width="6.32" height="6.32" fill="rgb(7,7,7)"/>
<rect x="24.58" y="207.78" width="6.32" height="6.32" fill="rgb(20,20,20)"/>
<rect x="30.30" y="207.78" width="6.32" height="6.32" fill="rgb(20,20,20)"/>
<rect x="36.02" y="207.78" width="6.32" height="6.32" fill="rgb(22,22,22)"/>
<rect x="41.75" y="207.78" width="6.32" height="6.32" fill="rgb(24,24,24)"/>
<rect x="47.47" y="207.78" width="6.32" height="6.32" fill="rgb(28,28,28)"/>
<rect x="53.20" y="207.78" width="6.32" height="6.32" fill="rgb(34,34,34)"/>
<rect x="58.92" y="207.78" width="6.32" height="6.32" fill="rgb(44,44,44)"/>
<rect x="64.65" y="207.78" width="6.32" height="6.32" fill="rgb(56,56,56)"/>
<rect x="70.38" y="207.78" width="6.32" height="6.32" fill="rgb(71,71,71)"/>
<rect x="76.10" y="207.78" width="6.32" height="6.32" fill="rgb(88,88,88)"/>
<rect x="81.83" y="207.78" width="6.32" height="6.32" fill="rgb(106,106,106)"/>
<rect x="87.55" y="207.78" width="6.32" height="6.32" fill="rgb(120,120,120)"/>
<rect x="93.27" y="207.78" width="6.32" height="6.32" fill="rgb(129,129,129)"/>
<rect x="99.00" y="207.78" width="6.32" height="6.32" fill="rgb(133,133,133)"/>
<rect x="104.72" y="207.78" width="6.32" height="6.32" fill="rgb(135,135,135)"/>
<rect x="110.45" y="207.78" width="6.32" height="6.32" fill="rgb(136,136,136)"/>
<rect x="116.17" y="207.78" width="6.32" height="6.32" fill="rgb(137,137,137)"/>
<rect x="121.90" y="207.78" width="6.32" height="6.32" fill="rgb(137,137,137)"/>
<rect x="127.62" y="207.78" width="6.32" height="6.32" fill="rgb(135,135,135)"/>
<rect x="133.35" y="207.78" width="6.32" height="6.32" fill="rgb(132,132,132)"/>
<rect x="139.07" y="207.78" width="6.32" height="6.32" fill="rgb(132,132,132)"/>
<rect x="144.80" y="207.78" width="6.32" height="6.32" fill="rgb(129,129,129)"/>
<rect x="150.53" y="207.78" width="6.32" height="6.32" fill="rgb(120,120,120)"/>
<rect x="156.25" y="207.78" width="6.32" height="6.32" fill="rgb(106,106,106)"/>
<rect x="161.97" y="207.78" width="6.32" height="6.32" fill="rgb(85,85,85)"/>
<rect x="167.70" y="207.78" width="6.32" height="6.32" fill="rgb(63,63,63)"/>
<rect x="173.43" y="207.78" width="6.32" height="6.32" fill="rgb(47,47,47)"/>
<rect x="179.15" y="207.78" width="6.32" height="6.32" fill="rgb(36,36,36)"/>
<rect x="184.88" y="207.78" width="6.32" height="6.32" fill="rgb(26,26,26)"/>
<rect x="190.60" y="207.78" width="6.32" height="6.32" fill="rgb(18,18,18)"/>
<rect x="196.32" y="207.78" width="6.32" height="6.32" fill="rgb(12,12,12)"/>
<rect x="202.05" y="207.78" width="6.32" height="6.32" fill="rgb(8,8,8)"/>
<rect x="207.78" y="207.78" width="6.32" height="6.32" fill="rgb(5,5,5)"/>
<rect x="213.50" y="207.78" width="6.32" height="6.32" fill="rgb(5,5,5)"/>
<rect x="24.58" y="213.50" width="6.32" height="6.32" fill="rgb(26,26,26)"/>
<rect x="30.30" y="213.50" width="6.32" height="6.32" fill="rgb(26,26,26)"/>
<rect x="36.02" y="213.50" width="6.32" height="6.32" fill="rgb(29,29,29)"/>
<rect x="41.75" y="213.50" width="6.32" height="6.32" fill="rgb(33,33,33)"/>
<rect x="47.47" y="213.50" width="6.32" height="6.32" fill="rgb(39,39,39)"/>
<rect x="53.20" y="213.50" width="6.32" height="6.32" fill="rgb(46,46,46)"/>
<rect x="58.92" y="213.50" width="6.32" height="6.32" fill="rgb(58,58,58)"/>
<rect x="64.65" y="213.50" width="6.32" height="6.32" fill="rgb(72,72,72)"/>
<rect x="70.38" y="213.50" width="6.32" height="6.32" fill="rgb(86,86,86)"/>
<rect x="76.10" y="213.50" width="6.32" height="6.32" fill="rgb(101,101,101)"/>
<rect x="81.83" y="213.50" width="6.32" height="6.32" fill="rgb(114,114,114)"/>
<rect x="87.55" y="213.50" width="6.32" height="6.32" fill="rgb(124,124,124)"/>
<rect x="93.27" y="213.50" width="6.32" height="6.32" fill="rgb(130,130,130)"/>
<rect x="99.00" y="213.50" width="6.32" height="6.32" fill="rgb(134,134,134)"/>
<rect x="104.72" y="213.50" width="6.32" height="6.32" fill="rgb(135,135,135)"/>
<rect x="110.45" y="213.50" width="6.32" height="6.32" fill="rgb(134,134,134)"/>
<rect x="116.17" y="213.50" width="6.32" height="6.32" fill="rgb(132,132,132)"/>
<rect x="121.90" y="213.50" width="6.32" height="6.32" fill="rgb(129,129,129)"/>
<rect x="127.62" y="213.50" width="6.32" height="6.32" fill="rgb(125,125,125)"/>
<rect x="133.35" y="213.50" width="6.32" height="6.32" fill="rgb(122,122,122)"/>
<rect x="139.07" y="213.50" width="6.32" height="6.32" fill="rgb(117,117,117)"/>
<rect x="144.80" y="213.50" width="6.32" height="6.32" fill="rgb(108,108,108)"/>
<rect x="150.53" y="213.50" width="6.32" height="6.32" fill="rgb(96,96,96)"/>
<rect x="156.25" y="213.50" width="6.32" height="6.32" fill="rgb(81,81,81)"/>
<rect x="161.97" y="213.50" width="6.32" height="6.32" fill="rgb(66,66,66)"/>
<rect x="167.70" y="213.50" width="6.32" height="6.32" fill="rgb(49,49,49)"/>
<rect x="173.43" y="213.50" width="6.32" height="6.32" fill="rgb(36,36,36)"/>
<rect x="179.15" y="213.50" width="6.32" height="6.32" fill="rgb(27,27,27)"/>
<rect x="184.88" y="213.50" width="6.32" height="6.32" fill="rgb(20,20,20)"/>
<rect x="190.60" y="213.50" width="6.32" height="6.32" fill="rgb(14,14,14)"/>
<rect x="196.32" y="213.50" width="6.32" height="6.32" fill="rgb(10,10,10)"/>
<rect x="202.05" y="213.50" width="6.32" height="6.32" fill="rgb(6,6,6)"/>
<rect x="207.78" y="213.50" width="6.32" height="6.32" fill="rgb(4,4,4)"/>
<rect x="213.50" y="213.50" width="6.32" height="6.32" fill="rgb(4,4,4)"/>
<rect x="24.58" y="219.22" width="6.32" height="6.32" fill="rgb(29,29,29)"/>
<rect x="30.30" y="219.22" width="6.32" height="6.32" fill="rgb(29,29,29)"/>
<rect x="36.02" y="219.22" width="6.32" height="6.32" fill="rgb(34,34,34)"/>
<rect x="41.75" y="219.22" width="6.32" height="6.32" fill="rgb(40,40,40)"/>
<rect x="47.47" y="219.22" width="6.32" height="6.32" fill="rgb(47,47,47)"/>
<rect x="53.20" y="219.22" width="6.32" height="6.32" fill="rgb(58,58,58)"/>
<rect x="58.92" y="219.22" width="6.32" height="6.32" fill="rgb(70,70,70)"/>
<rect x="64.65" y="219.22" width="6.32" height="6.32" fill="rgb(85,85,85)"/>
<rect x="70.38" y="219.22" width="6.32" height="6.32" fill="rgb(99,99,99)"/>
<rect x="76.10" y="219.22" width="6.32" height="6.32" fill="rgb(111,111,111)"/>
<rect x="81.83" y="219.22" width="6.32" height="6.32" fill="rgb(121,121,121)"/>
<rect x="87.55" y="219.22" width="6.32" height="6.32" fill="rgb(127,127,127)"/>
<rect x="93.27" y="219.22" width="6.32" height="6.32" fill="rgb(131,131,131)"/>
<rect x="99.00" y="219.22" width="6.32" height="6.32" fill="rgb(133,133,133)"/>
<rect x="104.72" y="219.22" width="6.32" height="6.32" fill="rgb(133,133,133)"/>
<rect x="110.45" y="219.22" width="6.32" height="6.32" fill="rgb(133,133,133)"/>
<rect x="116.17" y="219.22" width="6.32" height="6.32" fill="rgb(130,130,130)"/>
<rect x="121.90" y="219.22" width="6.32" height="6.32" fill="rgb(123,123,123)"/>
<rect x="127.62" y="219.22" width="6.32" height="6.32" fill="rgb(118,118,118)"/>
<rect x="133.35" y="219.22" width="6.32" height="6.32" fill="rgb(112,112,112)"/>
<rect x="139.07" y="219.22" width="6.32" height="6.32" fill="rgb(102,102,102)"/>
<rect x="144.80" y="219.22" width="6.32" height="6.32" fill="rgb(89,89,89)"/>
<rect x="150.53" y="219.22" width="6.32" height="6.32" fill="rgb(75,75,75)"/>
<rect x="156.25" y="219.22" width="6.32" height="6.32" fill="rgb(61,61,61)"/>
<rect x="161.97" y="219.22" width="6.32" height="6.32" fill="rgb(50,50,50)"/>
<rect x="167.70" y="219.22" width="6.32" height="6.32" fill="rgb(38,38,38)"/>
<rect x="173.43" y="219.22" width="6.32" height="6.32" fill="rgb(28,28,28)"/>
<rect x="179.15" y="219.22" width="6.32" height="6.32" fill="rgb(21,21,21)"/>
<rect x="184.88" y="219.22" width="6.32" height="6.32" fill="rgb(16,16,16)"/>
<rect x="190.60" y="219.22" width="6.32" height="6.32" fill="rgb(12,12,12)"/>
<rect x="196.32" y="219.22" width="6.32" height="6.32" fill="rgb(8,8,8)"/>
<rect x="202.05" y="219.22" width="6.32" height="6.32" fill="rgb(5,5,5)"/>
<rect x="207.78" y="219.22" width="6.32" height="6.32" fill="rgb(4,4,4)"/>
<rect x="213.50" y="219.22" width="6.32" height="6.32" fill="rgb(4,4,4)"/>
<rect x="24.58" y="224.94" width="6.32" height="6.32" fill="rgb(30,30,30)"/>
<rect x="30.30" y="224.94" width="6.32" height="6.32" fill="rgb(30,30,30)"/>
<rect x="36.02" y="224.94" width="6.32" height="6.32" fill="rgb(36,36,36)"/>
<rect x="41.75" y="224.94" width="6.32" height="6.32" fill="rgb(45,45,45)"/>
<rect x="47.47" y="224.94" width="6.32" height="6.32" fill="rgb(55,55,55)"/>
<rect x="53.20" y="224.94" width="6.32" height="6.32" fill="rgb(68,68,68)"/>
<rect x="58.92" y="224.94" width="6.32" height="6.32" fill="rgb(82,82,82)"/>
<rect x="64.65" y="224.94" width="6.32" height="6.32" fill="rgb(96,96,96)"/>
<rect x="70.38" y="224.94" width="6.32" height="6.32" fill="rgb(108,108,108)"/>
<rect x="76.10" y="224.94" width="6.32" height="6.32" fill="rgb(119,119,119)"/>
<rect x="81.83" y="224.94" width="6.32" height="6.32" fill="rgb(126,126,126)"/>
<rect x="87.55" y="224.94" width="6.32" height="6.32" fill="rgb(131,131,131)"/>
<rect x="93.27" y="224.94" width="6.32" height="6.32" fill="rgb(133,133,133)"/>
<rect x="99.00" y="224.94" width="6.32" height="6.32" fill="rgb(134,134,134)"/>
<rect x="104.72" y="224.94" width="6.32" height="6.32" fill="rgb(133,133,133)"/>
<rect x="110.45" y="224.94" width="6.32" height="6.32" fill="rgb(132,132,132)"/>
<rect x="116.17" y="224.94" width="6.32" height="6.32" fill="rgb(129,129,129)"/>
<rect x="121.90" y="224.94" width="6.32" height="6.32" fill="rgb(120,120,120)"/>
<rect x="127.62" y="224.94" width="6.32" height="6.32" fill="rgb(112,112,112)"/>
<rect x="133.35" y="224.94" width="6.32" height="6.32" fill="rgb(105,105,105)"/>
<rect x="139.07" y="224.94" width="6.32" height="6.32" fill="rgb(93,93,93)"/>
<rect x="144.80" y="224.94" width="6.32" height="6.32" fill="rgb(79,79,79)"/>
<rect x="150.53" y="224.94" width="6.32" height="6.32" fill="rgb(65,65,65)"/>
<rect x="156.25" y="224.94" width="6.32" height="6.32" fill="rgb(52,52,52)"/>
<rect x="161.97" y="224.94" width="6.32" height="6.32" fill="rgb(41,41,41)"/>
<rect x="167.70" y="224.94" width="6.32" height="6.32" fill="rgb(31,31,31)"/>
<rect x="173.43" y="224.94" width="6.32" height="6.32" fill="rgb(23,23,23)"/>
<rect x="179.15" y="224.94" width="6.32" height="6.32" fill="rgb(18,18,18)"/>
<rect x="184.88" y="224.94" width="6.32" height="6.32" fill="rgb(14,14,14)"/>
<rect x="190.60" y="224.94" width="6.32" height="6.32" fill="rgb(10,10,10)"/>
<rect x="196.32" y="224.94" width="6.32" height="6.32" fill="rgb(7,7,7)"/>
<rect x="202.05" y="224.94" width="6.32" height="6.32" fill="rgb(4,4,4)"/>
<rect x="207.78" y="224.94" width="6.32" height="6.32" fill="rgb(3,3,3)"/>
<rect x="213.50" y="224.94" width="6.32" height="6.32" fill="rgb(3,3,3)"/>
<rect x="24.58" y="230.66" width="6.32" height="6.32" fill="rgb(32,32,32)"/>
<rect x="30.30" y="230.66" width="6.32" height="6.32" fill="rgb(32,32,32)"/>
<rect x="36.02" y="230.66" width="6.32" height="6.32" fill="rgb(39,39,39)"/>
<rect x="41.75" y="230.66" width="6.32" height="6.32" fill="rgb(50,50,50)"/>
<rect x="47.47" y="230.66" width="6.32" height="6.32" fill="rgb(62,62,62)"/>
<rect x="53.20" y="230.66" width="6.32" height="6.32" fill="rgb(77,77,77)"/>
<rect x="58.92" y="230.66" width="6.32" height="6.32" fill="rgb(91,91,91)"/>
<rect x="64.65" y="230.66" width="6.32" height="6.32" fill="rgb(104,104,104)"/>
<rect x="70.38" y="230.66" width="6.32" height="6.32" fill="rgb(116,116,116)"/>
<rect x="76.10" y="230.66" width="6.32" height="6.32" fill="rgb(124,124,124)"/>
<rect x="81.83" y="230.66" width="6.32" height="6.32" fill="rgb(129,129,129)"/>
<rect x="87.55" y="230.66" width="6.32" height="6.32" fill="rgb(132,132,132)"/>
<rect x="93.27" y="230.66" width="6.32" height="6.32" fill="rgb(133,133,133)"/>
<rect x="99.00" y="230.66" width="6.32" height="6.32" fill="rgb(133,133,133)"/>
<rect x="104.72" y="230.66" width="6.32" height="6.32" fill="rgb(132,132,132)"/>
<rect x="110.45" y="230.66" width="6.32" height="6.32" fill="rgb(130,130,130)"/>
<rect x="116.17" y="230.66" width="6.32" height="6.32" fill="rgb(126,126,126)"/>
<rect x="121.90" y="230.66" width="6.32" height="6.32" fill="rgb(115,115,115)"/>
<rect x="127.62" y="230.66" width="6.32" height="6.32" fill="rgb(105,105,105)"/>
<rect x="133.35" y="230.66" width="6.32" height="6.32" fill="rgb(95,95,95)"/>
<rect x="139.07" y="230.66" width="6.32" height="6.32" fill="rgb(82,82,82)"/>
<rect x="144.80" y="230.66" width="6.32" height="6.32" fill="rgb(69,69,69)"/>
<rect x="150.53" y="230.66" width="6.32" height="6.32" fill="rgb(55,55,55)"/>
<rect x="156.25" y="230.66" width="6.32" height="6.32" fill="rgb(44,44,44)"/>
<rect x="161.97" y="230.66" width="6.32" height="6.32" fill="rgb(34,34,34)"/>
<rect x="167.70" y="230.66" width="6.32" height="6.32" fill="rgb(26,26,26)"/>
<rect x="173.43" y="230.66" width="6.32" height="6.32" fill="rgb(19,19,19)"/>
<rect x="179.15" y="230.66" width="6.32" height="6.32" fill="rgb(15,15,15)"/>
<rect x="184.88" y="230.66" width="6.32" height="6.32" fill="rgb(11,11,11)"/>
<rect x="190.60" y="230.66" width="6.32" height="6.32" fill="rgb(8,8,8)"/>
<rect x="196.32" y="230.66" width="6.32" height="6.32" fill="rgb(6,6,6)"/>
<rect x="202.05" y="230.66" width="6.32" height="6.32" fill="rgb(4,4,4)"/>
<rect x="207.78" y="230.66" width="6.32" height="6.32" fill="rgb(3,3,3)"/>
<rect x="213.50" y="230.66" width="6.32" height="6.32" fill="rgb(3,3,3)"/>
<rect x="24.58" y="236.38" width="6.32" height="6.32" fill="rgb(36,36,36)"/>
<rect x="30.30" y="236.38" width="6.32" height="6.32" fill="rgb(36,36,36)"/>
<rect x="36.02" y="236.38" width="6.32" height="6.32" fill="rgb(45,45,45)"/>
<rect x="41.75" y="236.38" width="6.32" height="6.32" fill="rgb(57,57,57)"/>
<rect x="47.47" y="236.38" width="6.32" height="6.32" fill="rgb(70,70,70)"/>
<rect x="53.20" y="236.38" width="6.32" height="6.32" fill="rgb(85,85,85)"/>
<rect x="58.92" y="236.38" width="6.32" height="6.32" fill="rgb(99,99,99)"/>
<rect x="64.65" y="236.38" width="6.32" height="6.32" fill="rgb(111,111,111)"/>
<rect x="70.38" y="236.38" width="6.32" height="6.32" fill="rgb(121,121,121)"/>
<rect x="76.10" y="236.38" width="6.32" height="6.32" fill="rgb(127,127,127)"/>
<rect x="81.83" y="236.38" width="6.32" height="6.32" fill="rgb(131,131,131)"/>
<rect x="87.55" y="236.38" width="6.32" height="6.32" fill="rgb(132,132,132)"/>
<rect x="93.27" y="236.38" width="6.32" height="6.32" fill="rgb(132,132,132)"/>
<rect x="99.00" y="236.38" width="6.32" height="6.32" fill="rgb(132,132,132)"/>
<rect x="104.72" y="236.38" width="6.32" height="6.32" fill="rgb(130,130,130)"/>
<rect x="110.45" y="236.38" width="6.32" height="6.32" fill="rgb(127,127,127)"/>
<rect x="116.17" y="236.38" width="6.32" height="6.32" fill="rgb(121,121,121)"/>
<rect x="121.90" y="236.38" width="6.32" height="6.32" fill="rgb(108,108,108)"/>
<rect x="127.62" y="236.38" width="6.32" height="6.32" fill="rgb(96,96,96)"/>
<rect x="133.35" y="236.38" width="6.32" height="6.32" fill="rgb(84,84,84)"/>
<rect x="139.07" y="236.38" width="6.32" height="6.32" fill="rgb(70,70,70)"/>
<rect x="144.80" y="236.38" width="6.32" height="6.32" fill="rgb(57,57,57)"/>
<rect x="150.53" y="236.38" width="6.32" height="6.32" fill="rgb(45,45,45)"/>
<rect x="156.25" y="236.38" width="6.32" height="6.32" fill="rgb(35,35,35)"/>
<rect x="161.97" y="236.38" width="6.32" height="6.32" fill="rgb(27,27,27)"/>
<rect x="167.70" y="236.38" width="6.32" height="6.32" fill="rgb(21,21,21)"/>
<rect x="173.43" y="236.38" width="6.32" height="6.32" fill="rgb(16,16,16)"/>
<rect x="179.15" y="236.38" width="6.32" height="6.32" fill="rgb(12,12,12)"/>
<rect x="184.88" y="236.38" width="6.32" height="6.32" fill="rgb(9,9,9)"/>
<rect x="190.60" y="236.38" width="6.32" height="6.32" fill="rgb(6,6,6)"/>
<rect x="196.32" y="236.38" width="6.32" height="6.32" fill="rgb(4,4,4)"/>
<rect x="202.05" y="236.38" width="6.32" height="6.32" fill="rgb(3,3,3)"/>
<rect x="207.78" y="236.38" width="6.32" height="6.32" fill="rgb(3,3,3)"/>
<rect x="213.50" y="236.38" width="6.32" height="6.32" fill="rgb(3,3,3)"/>
<rect x="24.58" y="242.09" width="6.32" height="6.32" fill="rgb(43,43,43)"/>
<rect x="30.30" y="242.09" width="6.32" height="6.32" fill="rgb(43,43,43)"/>
<rect x="36.02" y="242.09" width="6.32" height="6.32" fill="rgb(53,53,53)"/>
<rect x="41.75" y="242.09" width="6.32" height="6.32" fill="rgb(66,66,66)"/>
<rect x="47.47" y="242.09" width="6.32" height="6.32" fill="rgb(80,80,80)"/>
<rect x="53.20" y="242.09" width="6.32" height="6.32" fill="rgb(94,94,94)"/>
<rect x="58.92" y="242.09" width="6.32" height="6.32" fill="rgb(107,107,107)"/>
<rect x="64.65" y="242.09" width="6.32" height="6.32" fill="rgb(117,117,117)"/>
<rect x="70.38" y="242.09" width="6.32" height="6.32" fill="rgb(124,124,124)"/>
<rect x="76.10" y="242.09" width="6.32" height="6.32" fill="rgb(129,129,129)"/>
<rect x="81.83" y="242.09" width="6.32" height="6.32" fill="rgb(131,131,131)"/>
<rect x="87.55" y="242.09" width="6.32" height="6.32" fill="rgb(132,132,132)"/>
<rect x="93.27" y="242.09" width="6.32" height="6.32" fill="rgb(132,132,132)"/>
<rect x="99.00" y="242.09" width="6.32" height="6.32" fill="rgb(130,130,130)"/>
<rect x="104.72" y="242.09" width="6.32" height="6.32" fill="rgb(128,128,128)"/>
<rect x="110.45" y="242.09" width="6.32" height="6.32" fill="rgb(123,123,123)"/>
<rect x="116.17" y="242.09" width="6.32" height="6.32" fill="rgb(115,115,115)"/>
<rect x="121.90" y="242.09" width="6.32" height="6.32" fill="rgb(100,100,100)"/>
<rect x="127.62" y="242.09" width="6.32" height="6.32" fill="rgb(86,86,86)"/>
<rect x="133.35" y="242.09" width="6.32" height="6.32" fill="rgb(73,73,73)"/>
<rect x="139.07" y="242.09" width="6.32" height="6.32" fill="rgb(60,60,60)"/>
<rect x="144.80" y="242.09" width="6.32" height="6.32" fill="rgb(48,48,48)"/>
<rect x="150.53" y="242.09" width="6.32" height="6.32" fill="rgb(37,37,37)"/>
<rect x="156.25" y="242.09" width="6.32" height="6.32" fill="rgb(29,29,29)"/>
<rect x="161.97" y="242.09" width="6.32" height="6.32" fill="rgb(22,22,22)"/>
<rect x="167.70" y="242.09" width="6.32" height="6.32" fill="rgb(17,17,17)"/>
<rect x="173.43" y="242.09" width="6.32" height="6.32" fill="rgb(13,13,13)"/>
<rect x="179.15" y="242.09" width="6.32" height="6.32" fill="rgb(10,10,10)"/>
<rect x="184.88" y="242.09" width="6.32" height="6.32" fill="rgb(7,7,7)"/>
<rect x="190.60" y="242.09" width="6.32" height="6.32" fill="rgb(5,5,5)"/>
<rect x="196.32" y="242.09" width="6.32" height="6.32" fill="rgb(3,3,3)"/>
<rect x="202.05" y="242.09" width="6.32" height="6.32" fill="rgb(3,3,3)"/>
<rect x="207.78" y="242.09" width="6.32" height="6.32" fill="rgb(3,3,3)"/>
<rect x="213.50" y="242.09" width="6.32" height="6.32" fill="rgb(3,3,3)"/>
<rect x="24.58" y="247.81" width="6.32" height="6.32" fill="rgb(50,50,50)"/>
<rect x="30.30" y="247.81" width="6.32" height="6.32" fill="rgb(50,50,50)"/>
<rect x="36.02" y="247.81" width="6.32" height="6.32" fill="rgb(62,62,62)"/>
<rect x="41.75" y="247.81" width="6.32" height="6.32" fill="rgb(76,76,76)"/>
<rect x="47.47" y="247.81" width="6.32" height="6.32" fill="rgb(90,90,90)"/>
<rect x="53.20" y="247.81" width="6.32" height="6.32" fill="rgb(103,103,103)"/>
<rect x="58.92" y="247.81" width="6.32" height="6.32" fill="rgb(114,114,114)"/>
<rect x="64.65" y="247.81" width="6.32" height="6.32" fill="rgb(121,121,121)"/>
<rect x="70.38" y="247.81" width="6.32" height="6.32" fill="rgb(126,126,126)"/>
<rect x="76.10" y="247.81" width="6.32" height="6.32" fill="rgb(130,130,130)"/>
<rect x="81.83" y="247.81" width="6.32" height="6.32" fill="rgb(131,131,131)"/>
<rect x="87.55" y="247.81" width="6.32" height="6.32" fill="rgb(131,131,131)"/>
<rect x="93.27" y="247.81" width="6.32" height="6.32" fill="rgb(130,130,130)"/>
<rect x="99.00" y="247.81" width="6.32" height="6.32" fill="rgb(127,127,127)"/>
<rect x="104.72" y="247.81" width="6.32" height="6.32" fill="rgb(124,124,124)"/>
<rect x="110.45" y="247.81" width="6.32" height="6.32" fill="rgb(119,119,119)"/>
<rect x="116.17" y="247.81" width="6.32" height="6.32" fill="rgb(108,108,108)"/>
<rect x="121.90" y="247.81" width="6.32" height="6.32" fill="rgb(92,92,92)"/>
<rect x="127.62" y="247.81" width="6.32" height="6.32" fill="rgb(77,77,77)"/>
<rect x="133.35" y="247.81" width="6.32" height="6.32" fill="rgb(64,64,64)"/>
<rect x="139.07" y="247.81" width="6.32" height="6.32" fill="rgb(52,52,52)"/>
<rect x="144.80" y="247.81" width="6.32" height="6.32" fill="rgb(41,41,41)"/>
<rect x="150.53" y="247.81" width="6.32" height="6.32" fill="rgb(31,31,31)"/>
<rect x="156.25" y="247.81" width="6.32" height="6.32" fill="rgb(24,24,24)"/>
<rect x="161.97" y="247.81" width="6.32" height="6.32" fill="rgb(19,19,19)"/>
<rect x="167.70" y="247.81" width="6.32" height="6.32" fill="rgb(14,14,14)"/>
<rect x="173.43" y="247.81" width="6.32" height="6.32" fill="rgb(11,11,11)"/>
<rect x="179.15" y="247.81" width="6.32" height="6.32" fill="rgb(8,8,8)"/>
<rect x="184.88" y="247.81" width="6.32" height="6.32" fill="rgb(6,6,6)"/>
<rect x="190.60" y="247.81" width="6.32" height="6.32" fill="rgb(4,4,4)"/>
<rect x="196.32" y="247.81" width="6.32" height="6.32" fill="rgb(3,3,3)"/>
<rect x="202.05" y="247.81" width="6.32" height="6.32" fill="rgb(2,2,2)"/>
<rect x="207.78" y="247.81" width="6.32" height="6.32" fill="rgb(3,3,3)"/>
<rect x="213.50" y="247.81" width="6.32" height="6.32" fill="rgb(3,3,3)"/>
<rect x="24.58" y="253.53" width="6.32" height="6.32" fill="rgb(58,58,58)"/>
<rect x="30.30" y="253.53" width="6.32" height="6.32" fill="rgb(58,58,58)"/>
<rect x="36.02" y="253.53" width="6.32" height="6.32" fill="rgb(71,71,71)"/>
<rect x="41.75" y="253.53" width="6.32" height="6.32" fill="rgb(86,86,86)"/>
<rect x="47.47" y="253.53" width="6.32" height="6.32" fill="rgb(99,99,99)"/>
<rect x="53.20" y="253.53" width="6.32" height="6.32" fill="rgb(111,111,111)"/>
<rect x="58.92" y="253.53" width="6.32" height="6.32" fill="rgb(119,119,119)"/>
<rect x="64.65" y="253.53" width="6.32" height="6.32" fill="rgb(125,125,125)"/>
<rect x="70.38" y="253.53" width="6.32" height="6.32" fill="rgb(128,128,128)"/>
<rect x="76.10" y="253.53" width="6.32" height="6.32" fill="rgb(130,130,130)"/>
<rect x="81.83" y="253.53" width="6.32" height="6.32" fill="rgb(130,130,130)"/>
<rect x="87.55" y="253.53" width="6.32" height="6.32" fill="rgb(129,129,129)"/>
<rect x="93.27" y="253.53" width="6.32" height="6.32" fill="rgb(126,126,126)"/>
<rect x="99.00" y="253.53" width="6.32" height="6.32" fill="rgb(122,122,122)"/>
<rect x="104.72" y="253.53" width="6.32" height="6.32" fill="rgb(118,118,118)"/>
<rect x="110.45" y="253.53" width="6.32" height="6.32" fill="rgb(112,112,112)"/>
<rect x="116.17" y="253.53" width="6.32" height="6.32" fill="rgb(101,101,101)"/>
<rect x="121.90" y="253.53" width="6.32" height="6.32" fill="rgb(85,85,85)"/>
<rect x="127.62" y="253.53" width="6.32" height="6.32" fill="rgb(70,70,70)"/>
<rect x="133.35" y="253.53" width="6.32" height="6.32" fill="rgb(58,58,58)"/>
<rect x="139.07" y="253.53" width="6.32" height="6.32" fill="rgb(46,46,46)"/>
<rect x="144.80" y="253.53" width="6.32" height="6.32" fill="rgb(35,35,35)"/>
<rect x="150.53" y="253.53" width="6.32" height="6.32" fill="rgb(27,27,27)"/>
<rect x="156.25" y="253.53" width="6.32" height="6.32" fill="rgb(21,21,21)"/>
<rect x="161.97" y="253.53" width="6.32" height="6.32" fill="rgb(16,16,16)"/>
<rect x="167.70" y="253.53" width="6.32" height="6.32" fill="rgb(12,12,12)"/>
<rect x="173.43" y="253.53" width="6.32" height="6.32" fill="rgb(9,9,9)"/>
<rect x="179.15" y="253.53" width="6.32" height="6.32" fill="rgb(7,7,7)"/>
<rect x="184.88" y="253.53" width="6.32" height="6.32" fill="rgb(4,4,4)"/>
<rect x="190.60" y="253.53" width="6.32" height="6.32" fill="rgb(3,3,3)"/>
<rect x="196.32" y="253.53" width="6.32" height="6.32" fill="rgb(2,2,2)"/>
<rect x="202.05" y="253.53" width="6.32" height="6.32" fill="rgb(2,2,2)"/>
<rect x="207.78" y="253.53" width="6.32" height="6.32" fill="rgb(4,4,4)"/>
<rect x="213.50" y="253.53" width="6.32" height="6.32" fill="rgb(4,4,4)"/>
<rect x="24.58" y="259.25" width="6.32" height="6.32" fill="rgb(67,67,67)"/>
<rect x="30.30" y="259.25" width="6.32" height="6.32" fill="rgb(67,67,67)"/>
<rect x="36.02" y="259.25" width="6.32" height="6.32" fill="rgb(81,81,81)"/>
<rect x="41.75" y="259.25" width="6.32" height="6.32" fill="rgb(96,96,96)"/>
<rect x="47.47" y="259.25" width="6.32" height="6.32" fill="rgb(108,108,108)"/>
<rect x="53.20" y="259.25" width="6.32" height="6.32" fill="rgb(117,117,117)"/>
<rect x="58.92" y="259.25" width="6.32" height="6.32" fill="rgb(124,124,124)"/>
<rect x="64.65" y="259.25" width="6.32" height="6.32" fill="rgb(128,128,128)"/>
<rect x="70.38" y="259.25" width="6.32" height="6.32" fill="rgb(129,129,129)"/>
<rect x="76.10" y="259.25" width="6.32" height="6.32" fill="rgb(129,129,129)"/>
<rect x="81.83" y="259.25" width="6.32" height="6.32" fill="rgb(127,127,127)"/>
<rect x="87.55" y="259.25" width="6.32" height="6.32" fill="rgb(124,124,124)"/>
<rect x="93.27" y="259.25" width="6.32" height="6.32" fill="rgb(120,120,120)"/>
<rect x="99.00" y="259.25" width="6.32" height="6.32" fill="rgb(116,116,116)"/>
<rect x="104.72" y="259.25" width="6.32" height="6.32" fill="rgb(110,110,110)"/>
<rect x="110.45" y="259.25" width="6.32" height="6.32" fill="rgb(104,104,104)"/>
<rect x="116.17" y="259.25" width="6.32" height="6.32" fill="rgb(94,94,94)"/>
<rect x="121.90" y="259.25" width="6.32" height="6.32" fill="rgb(78,78,78)"/>
<rect x="127.62" y="259.25" width="6.32" height="6.32" fill="rgb(64,64,64)"/>
<rect x="133.35" y="259.25" width="6.32" height="6.32" fill="rgb(52,52,52)"/>
<rect x="139.07" y="259.25" width="6.32" height="6.32" fill="rgb(41,41,41)"/>
<rect x="144.80" y="259.25" width="6.32" height="6.32" fill="rgb(31,31,31)"/>
<rect x="150.53" y="259.25" width="6.32" height="6.32" fill="rgb(23,23,23)"/>
<rect x="156.25" y="259.25" width="6.32" height="6.32" fill="rgb(18,18,18)"/>
<rect x="161.97" y="259.25" width="6.32" height="6.32" fill="rgb(14,14,14)"/>
<rect x="167.70" y="259.25" width="6.32" height="6.32" fill="rgb(10,10,10)"/>
<rect x="173.43" y="259.25" width="6.32" height="6.32" fill="rgb(7,7,7)"/>
<rect x="179.15" y="259.25" width="6.32" height="6.32" fill="rgb(5,5,5)"/>
<rect x="184.88" y="259.25" width="6.32" height="6.32" fill="rgb(3,3,3)"/>
<rect x="190.60" y="259.25" width="6.32" height="6.32" fill="rgb(1,1,1)"/>
<rect x="196.32" y="259.25" width="6.32" height="6.32" fill="rgb(1,1,1)"/>
<rect x="202.05" y="259.25" width="6.32" height="6.32" fill="rgb(2,2,2)"/>
<rect x="207.78" y="259.25" width="6.32" height="6.32" fill="rgb(4,4,4)"/>
<rect x="213.50" y="259.25" width="6.32" height="6.32" fill="rgb(4,4,4)"/>
<rect x="24.58" y="264.97" width="6.32" height="6.32" fill="rgb(79,79,79)"/>
<rect x="30.30" y="264.97" width="6.32" height="6.32" fill="rgb(79,79,79)"/>
<rect x="36.02" y="264.97" width="6.32" height="6.32" fill="rgb(92,92,92)"/>
<rect x="41.75" y="264.97" width="6.32" height="6.32" fill="rgb(106,106,106)"/>
<rect x="47.47" y="264.97" width="6.32" height="6.32" fill="rgb(116,116,116)"/>
<rect x="53.20" y="264.97" width="6.32" height="6.32" fill="rgb(123,123,123)"/>
<rect x="58.92" y="264.97" width="6.32" height="6.32" fill="rgb(127,127,127)"/>
<rect x="64.65" y="264.97" width="6.32" height="6.32" fill="rgb(129,129,129)"/>
<rect x="70.38" y="264.97" width="6.32" height="6.32" fill="rgb(128,128,128)"/>
<rect x="76.10" y="264.97" width="6.32" height="6.32" fill="rgb(126,126,126)"/>
<rect x="81.83" y="264.97" width="6.32" height="6.32" fill="rgb(122,122,122)"/>
<rect x="87.55" y="264.97" width="6.32" height="6.32" fill="rgb(118,118,118)"/>
<rect x="93.27" y="264.97" width="6.32" height="6.32" fill="rgb(113,113,113)"/>
<rect x="99.00" y="264.97" width="6.32" height="6.32" fill="rgb(108,108,108)"/>
<rect x="104.72" y="264.97" width="6.32" height="6.32" fill="rgb(102,102,102)"/>
<rect x="110.45" y="264.97" width="6.32" height="6.32" fill="rgb(95,95,95)"/>
<rect x="116.17" y="264.97" width="6.32" height="6.32" fill="rgb(86,86,86)"/>
<rect x="121.90" y="264.97" width="6.32" height="6.32" fill="rgb(72,72,72)"/>
<rect x="127.62" y="264.97" width="6.32" height="6.32" fill="rgb(58,58,58)"/>
<rect x="133.35" y="264.97" width="6.32" height="6.32" fill="rgb(47,47,47)"/>
<rect x="139.07" y="264.97" width="6.32" height="6.32" fill="rgb(37,37,37)"/>
<rect x="144.80" y="264.97" width="6.32" height="6.32" fill="rgb(27,27,27)"/>
<rect x="150.53" y="264.97" width="6.32" height="6.32" fill="rgb(21,21,21)"/>
<rect x="156.25" y="264.97" width="6.32" height="6.32" fill="rgb(16,16,16)"/>
<rect x="161.97" y="264.97" width="6.32" height="6.32" fill="rgb(12,12,12)"/>
<rect x="167.70" y="264.97" width="6.32" height="6.32" fill="rgb(9,9,9)"/>
<rect x="173.43" y="264.97" width="6.32" height="6.32" fill="rgb(6,6,6)"/>
<rect x="179.15" y="264.97" width="6.32" height="6.32" fill="rgb(4,4,4)"/>
<rect x="184.88" y="264.97" width="6.32" height="6.32" fill="rgb(2,2,2)"/>
<rect x="190.60" y="264.97" width="6.32" height="6.32" fill="rgb(0,0,0)"/>
<rect x="196.32" y="264.97" width="6.32" height="6.32" fill="rgb(0,0,0)"/>
<rect x="202.05" y="264.97" width="6.32" height="6.32" fill="rgb(1,1,1)"/>
<rect x="207.78" y="264.97" width="6.32" height="6.32" fill="rgb(5,5,5)"/>
<rect x="213.50" y="264.97" width="6.32" height="6.32" fill="rgb(5,5,5)"/>
<rect x="24.58" y="270.69" width="6.32" height="6.32" fill="rgb(90,90,90)"/>
<rect x="30.30" y="270.69" width="6.32" height="6.32" fill="rgb(90,90,90)"/>
<rect x="36.02" y="270.69" width="6.32" height="6.32" fill="rgb(102,102,102)"/>
<rect x="41.75" y="270.69" width="6.32" height="6.32" fill="rgb(115,115,115)"/>
<rect x="47.47" y="270.69" width="6.32" height="6.32" fill="rgb(123,123,123)"/>
<rect x="53.20" y="270.69" width="6.32" height="6.32" fill="rgb(127,127,127)"/>
<rect x="58.92" y="270.69" width="6.32" height="6.32" fill="rgb(129,129,129)"/>
<rect x="64.65" y="270.69" width="6.32" height="6.32" fill="rgb(129,129,129)"/>
<rect x="70.38" y="270.69" width="6.32" height="6.32" fill="rgb(126,126,126)"/>
<rect x="76.10" y="270.69" width="6.32" height="6.32" fill="rgb(122,122,122)"/>
<rect x="81.83" y="270.69" width="6.32" height="6.32" fill="rgb(117,117,117)"/>
<rect x="87.55" y="270.69" width="6.32" height="6.32" fill="rgb(112,112,112)"/>
<rect x="93.27" y="270.69" width="6.32" height="6.32" fill="rgb(106,106,106)"/>
<rect x="99.00" y="270.69" width="6.32" height="6.32" fill="rgb(100,100,100)"/>
<rect x="104.72" y="270.69" width="6.32" height="6.32" fill="rgb(94,94,94)"/>
<rect x="110.45" y="270.69" width="6.32" height="6.32" fill="rgb(88,88,88)"/>
<rect x="116.17" y="270.69" width="6.32" height="6.32" fill="rgb(79,79,79)"/>
<rect x="121.90" y="270.69" width="6.32" height="6.32" fill="rgb(65,65,65)"/>
<rect x="127.62" y="270.69" width="6.32" height="6.32" fill="rgb(51,51,51)"/>
<rect x="133.35" y="270.69" width="6.32" height="6.32" fill="rgb(42,42,42)"/>
<rect x="139.07" y="270.69" width="6.32" height="6.32" fill="rgb(33,33,33)"/>
<rect x="144.80" y="270.69" width="6.32" height="6.32" fill="rgb(24,24,24)"/>
<rect x="150.53" y="270.69" width="6.32" height="6.32" fill="rgb(19,19,19)"/>
<rect x="156.25" y="270.69" width="6.32" height="6.32" fill="rgb(14,14,14)"/>
<rect x="161.97" y="270.69" width="6.32" height="6.32" fill="rgb(11,11,11)"/>
<rect x="167.70" y="270.69" width="6.32" height="6.32" fill="rgb(8,8,8)"/>
<rect x="173.43" y="270.69" width="6.32" height="6.32" fill="rgb(6,6,6)"/>
<rect x="179.15" y="270.69" width="6.32" height="6.32" fill="rgb(3,3,3)"/>
<rect x="184.88" y="270.69" width="6.32" height="6.32" fill="rgb(2,2,2)"/>
<rect x="190.60" y="270.69" width="6.32" height="6.32" fill="rgb(1,1,1)"/>
<rect x="196.32" y="270.69" width="6.32" height="6.32" fill="rgb(1,1,1)"/>
<rect x="202.05" y="270.69" width="6.32" height="6.32" fill="rgb(2,2,2)"/>
<rect x="207.78" y="270.69" width="6.32" height="6.32" fill="rgb(6,6,6)"/>
<rect x="213.50" y="270.69" width="6.32" height="6.32" fill="rgb(6,6,6)"/>
<rect x="24.58" y="276.41" width="6.32" height="6.32" fill="rgb(101,101,101)"/>
<rect x="30.30" y="276.41" width="6.32" height="6.32" fill="rgb(101,101,101)"/>
<rect x="36.02" y="276.41" width="6.32" height="6.32" fill="rgb(111,111,111)"/>
<rect x="41.75" y="276.41" width="6.32" height="6.32" fill="rgb(122,122,122)"/>
<rect x="47.47" y="276.41" width="6.32" height="6.32" fill="rgb(128,128,128)"/>
<rect x="53.20" y="276.41" width="6.32" height="6.32" fill="rgb(131,131,131)"/>
<rect x="58.92" y="276.41" width="6.32" height="6.32" fill="rgb(130,130,130)"/>
<rect x="64.65" y="276.41" width="6.32" height="6.32" fill="rgb(127,127,127)"/>
<rect x="70.38" y="276.41" width="6.32" height="6.32" fill="rgb(123,123,123)"/>
<rect x="76.10" y="276.41" width="6.32" height="6.32" fill="rgb(117,117,117)"/>
<rect x="81.83" y="276.41" width="6.32" height="6.32" fill="rgb(111,111,111)"/>
<rect x="87.55" y="276.41" width="6.32" height="6.32" fill="rgb(105,105,105)"/>
<rect x="93.27" y="276.41" width="6.32" height="6.32" fill="rgb(99,99,99)"/>
<rect x="99.00" y="276.41" width="6.32" height="6.32" fill="rgb(94,94,94)"/>
<rect x="104.72" y="276.41" width="6.32" height="6.32" fill="rgb(88,88,88)"/>
<rect x="110.45" y="276.41" width="6.32" height="6.32" fill="rgb(82,82,82)"/>
<rect x="116.17" y="276.41" width="6.32" height="6.32" fill="rgb(73,73,73)"/>
<rect x="121.90" y="276.41" width="6.32" height="6.32" fill="rgb(57,57,57)"/>
<rect x="127.62" y="276.41" width="6.32" height="6.32" fill="rgb(44,44,44)"/>
<rect x="133.35" y="276.41" width="6.32" height="6.32" fill="rgb(36,36,36)"/>
<rect x="139.07" y="276.41" width="6.32" height="6.32" fill="rgb(29,29,29)"/>
<rect x="144.80" y="276.41" width="6.32" height="6.32" fill="rgb(22,22,22)"/>
<rect x="150.53" y="276.41" width="6.32" height="6.32" fill="rgb(17,17,17)"/>
<rect x="156.25" y="276.41" width="6.32" height="6.32" fill="rgb(13,13,13)"/>
<rect x="161.97" y="276.41" width="6.32" height="6.32" fill="rgb(10,10,10)"/>
<rect x="167.70" y="276.41" width="6.32" height="6.32" fill="rgb(8,8,8)"/>
<rect x="173.43" y="276.41" width="6.32" height="6.32" fill="rgb(6,6,6)"/>
<rect x="179.15" y="276.41" width="6.32" height="6.32" fill="rgb(4,4,4)"/>
<rect x="184.88" y="276.41" width="6.32" height="6.32" fill="rgb(3,3,3)"/>
<rect x="190.60" y="276.41" width="6.32" height="6.32" fill="rgb(3,3,3)"/>
<rect x="196.32" y="276.41" width="6.32" height="6.32" fill="rgb(3,3,3)"/>
<rect x="202.05" y="276.41" width="6.32" height="6.32" fill="rgb(4,4,4)"/>
<rect x="207.78" y="276.41" width="6.32" height="6.32" fill="rgb(7,7,7)"/>
<rect x="213.50" y="276.41" width="6.32" height="6.32" fill="rgb(7,7,7)"/>
<rect x="24.58" y="282.12" width="6.32" height="6.32" fill="rgb(110,110,110)"/>
<rect x="30.30" y="282.12" width="6.32" height="6.32" fill="rgb(110,110,110)"/>
<rect x="36.02" y="282.12" width="6.32" height="6.32" fill="rgb(118,118,118)"/>
<rect x="41.75" y="282.12" width="6.32" height="6.32" fill="rgb(127,127,127)"/>
<rect x="47.47" y="282.12" width="6.32" height="6.32" fill="rgb(132,132,132)"/>
<rect x="53.20" y="282.12" width="6.32" height="6.32" fill="rgb(132,132,132)"/>
<rect x="58.92" y="282.12" width="6.32" height="6.32" fill="rgb(128,128,128)"/>
<rect x="64.65" y="282.12" width="6.32" height="6.32" fill="rgb(124,124,124)"/>
<rect x="70.38" y="282.12" width="6.32" height="6.32" fill="rgb(118,118,118)"/>
<rect x="76.10" y="282.12" width="6.32" height="6.32" fill="rgb(112,112,112)"/>
<rect x="81.83" y="282.12" width="6.32" height="6.32" fill="rgb(105,105,105)"/>
<rect x="87.55" y="282.12" width="6.32" height="6.32" fill="rgb(99,99,99)"/>
<rect x="93.27" y="282.12" width="6.32" height="6.32" fill="rgb(93,93,93)"/>
<rect x="99.00" y="282.12" width="6.32" height="6.32" fill="rgb(88,88,88)"/>
<rect x="104.72" y="282.12" width="6.32" height="6.32" fill="rgb(82,82,82)"/>
<rect x="110.45" y="282.12" width="6.32" height="6.32" fill="rgb(76,76,76)"/>
<rect x="116.17" y="282.12" width="6.32" height="6.32" fill="rgb(66,66,66)"/>
<rect x="121.90" y="282.12" width="6.32" height="6.32" fill="rgb(49,49,49)"/>
<rect x="127.62" y="282.12" width="6.32" height="6.32" fill="rgb(36,36,36)"/>
<rect x="133.35" y="282.12" width="6.32" height="6.32" fill="rgb(30,30,30)"/>
<rect x="139.07" y="282.12" width="6.32" height="6.32" fill="rgb(24,24,24)"/>
<rect x="144.80" y="282.12" width="6.32" height="6.32" fill="rgb(18,18,18)"/>
<rect x="150.53" y="282.12" width="6.32" height="6.32" fill="rgb(14,14,14)"/>
<rect x="156.25" y="282.12" width="6.32" height="6.32" fill="rgb(12,12,12)"/>
<rect x="161.97" y="282.12" width="6.32" height="6.32" fill="rgb(10,10,10)"/>
<rect x="167.70" y="282.12" width="6.32" height="6.32" fill="rgb(8,8,8)"/>
<rect x="173.43" y="282.12" width="6.32" height="6.32" fill="rgb(7,7,7)"/>
<rect x="179.15" y="282.12" width="6.32" height="6.32" fill="rgb(6,6,6)"/>
<rect x="184.88" y="282.12" width="6.32" height="6.32" fill="rgb(6,6,6)"/>
<rect x="190.60" y="282.12" width="6.32" height="6.32" fill="rgb(6,6,6)"/>
<rect x="196.32" y="282.12" width="6.32" height="6.32" fill="rgb(6,6,6)"/>
<rect x="202.05" y="282.12" width="6.32" height="6.32" fill="rgb(7,7,7)"/>
<rect x="207.78" y="282.12" width="6.32" height="6.32" fill="rgb(9,9,9)"/>
<rect x="213.50" y="282.12" width="6.32" height="6.32" fill="rgb(9,9,9)"/>
<rect x="24.58" y="287.84" width="6.32" height="6.32" fill="rgb(117,117,117)"/>
<rect x="30.30" y="287.84" width="6.32" height="6.32" fill="rgb(117,117,117)"/>
<rect x="36.02" y="287.84" width="6.32" height="6.32" fill="rgb(124,124,124)"/>
<rect x="41.75" y="287.84" width="6.32" height="6.32" fill="rgb(131,131,131)"/>
<rect x="47.47" y="287.84" width="6.32" height="6.32" fill="rgb(133,133,133)"/>
<rect x="53.20" y="287.84" width="6.32" height="6.32" fill="rgb(131,131,131)"/>
<rect x="58.92" y="287.84" width="6.32" height="6.32" fill="rgb(125,125,125)"/>
<rect x="64.65" y="287.84" width="6.32" height="6.32" fill="rgb(119,119,119)"/>
<rect x="70.38" y="287.84" width="6.32" height="6.32" fill="rgb(112,112,112)"/>
<rect x="76.10" y="287.84" width="6.32" height="6.32" fill="rgb(105,105,105)"/>
<rect x="81.83" y="287.84" width="6.32" height="6.32" fill="rgb(99,99,99)"/>
<rect x="87.55" y="287.84" width="6.32" height="6.32" fill="rgb(93,93,93)"/>
<rect x="93.27" y="287.84" width="6.32" height="6.32" fill="rgb(89,89,89)"/>
<rect x="99.00" y="287.84" width="6.32" height="6.32" fill="rgb(83,83,83)"/>
<rect x="104.72" y="287.84" width="6.32" height="6.32" fill="rgb(76,76,76)"/>
<rect x="110.45" y="287.84" width="6.32" height="6.32" fill="rgb(70,70,70)"/>
<rect x="116.17" y="287.84" width="6.32" height="6.32" fill="rgb(60,60,60)"/>
<rect x="121.90" y="287.84" width="6.32" height="6.32" fill="rgb(41,41,41)"/>
<rect x="127.62" y="287.84" width="6.32" height="6.32" fill="rgb(28,28,28)"/>
<rect x="133.35" y="287.84" width="6.32" height="6.32" fill="rgb(24,24,24)"/>
<rect x="139.07" y="287.84" width="6.32" height="6.32" fill="rgb(20,20,20)"/>
<rect x="144.80" y="287.84" width="6.32" height="6.32" fill="rgb(15,15,15)"/>
<rect x="150.53" y="287.84" width="6.32" height="6.32" fill="rgb(12,12,12)"/>
<rect x="156.25" y="287.84" width="6.32" height="6.32" fill="rgb(11,11,11)"/>
<rect x="161.97" y="287.84" width="6.32" height="6.32" fill="rgb(10,10,10)"/>
<rect x="167.70" y="287.84" width="6.32" height="6.32" fill="rgb(9,9,9)"/>
<rect x="173.43" y="287.84" width="6.32" height="6.32" fill="rgb(9,9,9)"/>
<rect x="179.15" y="287.84" width="6.32" height="6.32" fill="rgb(9,9,9)"/>
<rect x="184.88" y="287.84" width="6.32" height="6.32" fill="rgb(10,10,10)"/>
<rect x="190.60" y="287.84" width="6.32" height="6.32" fill="rgb(10,10,10)"/>
<rect x="196.32" y="287.84" width="6.32" height="6.32" fill="rgb(10,10,10)"/>
<rect x="202.05" y="287.84" width="6.32" height="6.32" fill="rgb(10,10,10)"/>
<rect x="207.78" y="287.84" width="6.32" height="6.32" fill="rgb(11,11,11)"/>
<rect x="213.50" y="287.84" width="6.32" height="6.32" fill="rgb(11,11,11)"/>
<rect x="24.58" y="293.56" width="6.32" height="6.32" fill="rgb(121,121,121)"/>
<rect x="30.30" y="293.56" width="6.32" height="6.32" fill="rgb(121,121,121)"/>
<rect x="36.02" y="293.56" width="6.32" height="6.32" fill="rgb(127,127,127)"/>
<rect x="41.75" y="293.56" width="6.32" height="6.32" fill="rgb(132,132,132)"/>
<rect x="47.47" y="293.56" width="6.32" height="6.32" fill="rgb(132,132,132)"/>
<rect x="53.20" y="293.56" width="6.32" height="6.32" fill="rgb(128,128,128)"/>
<rect x="58.92" y="293.56" width="6.32" height="6.32" fill="rgb(121,121,121)"/>
<rect x="64.65" y="293.56" width="6.32" height="6.32" fill="rgb(114,114,114)"/>
<rect x="70.38" y="293.56" width="6.32" height="6.32" fill="rgb(106,106,106)"/>
<rect x="76.10" y="293.56" width="6.32" height="6.32" fill="rgb(99,99,99)"/>
<rect x="81.83" y="293.56" width="6.32" height="6.32" fill="rgb(93,93,93)"/>
<rect x="87.55" y="293.56" width="6.32" height="6.32" fill="rgb(88,88,88)"/>
<rect x="93.27" y="293.56" width="6.32" height="6.32" fill="rgb(84,84,84)"/>
<rect x="99.00" y="293.56" width="6.32" height="6.32" fill="rgb(79,79,79)"/>
<rect x="104.72" y="293.56" width="6.32" height="6.32" fill="rgb(72,72,72)"/>
<rect x="110.45" y="293.56" width="6.32" height="6.32" fill="rgb(65,65,65)"/>
<rect x="116.17" y="293.56" width="6.32" height="6.32" fill="rgb(55,55,55)"/>
<rect x="121.90" y="293.56" width="6.32" height="6.32" fill="rgb(34,34,34)"/>
<rect x="127.62" y="293.56" width="6.32" height="6.32" fill="rgb(21,21,21)"/>
<rect x="133.35" y="293.56" width="6.32" height="6.32" fill="rgb(19,19,19)"/>
<rect x="139.07" y="293.56" width="6.32" height="6.32" fill="rgb(16,16,16)"/>
<rect x="144.80" y="293.56" width="6.32" height="6.32" fill="rgb(13,13,13)"/>
<rect x="150.53" y="293.56" width="6.32" height="6.32" fill="rgb(11,11,11)"/>
<rect x="156.25" y="293.56" width="6.32" height="6.32" fill="rgb(10,10,10)"/>
<rect x="161.97" y="293.56" width="6.32" height="6.32" fill="rgb(10,10,10)"/>
<rect x="167.70" y="293.56" width="6.32" height="6.32" fill="rgb(10,10,10)"/>
<rect x="173.43" y="293.56" width="6.32" height="6.32" fill="rgb(11,11,11)"/>
<rect x="179.15" y="293.56" width="6.32" height="6.32" fill="rgb(12,12,12)"/>
<rect x="184.88" y="293.56" width="6.32" height="6.32" fill="rgb(13,13,13)"/>
<rect x="190.60" y="293.56" width="6.32" height="6.32" fill="rgb(14,14,14)"/>
<rect x="196.32" y="293.56" width="6.32" height="6.32" fill="rgb(14,14,14)"/>
<rect x="202.05" y="293.56" width="6.32" height="6.32" fill="rgb(14,14,14)"/>
<rect x="207.78" y="293.56" width="6.32" height="6.32" fill="rgb(13,13,13)"/>
<rect x="213.50" y="293.56" width="6.32" height="6.32" fill="rgb(13,13,13)"/>
<rect x="24.58" y="299.28" width="6.32" height="6.32" fill="rgb(122,122,122)"/>
<rect x="30.30" y="299.28" width="6.32" height="6.32" fill="rgb(122,122,122)"/>
<rect x="36.02" y="299.28" width="6.32" height="6.32" fill="rgb(127,127,127)"/>
<rect x="41.75" y="299.28" width="6.32" height="6.32" fill="rgb(130,130,130)"/>
<rect x="47.47" y="299.28" width="6.32" height="6.32" fill="rgb(130,130,130)"/>
<rect x="53.20" y="299.28" width="6.32" height="6.32" fill="rgb(125,125,125)"/>
<rect x="58.92" y="299.28" width="6.32" height="6.32" fill="rgb(118,118,118)"/>
<rect x="64.65" y="299.28" width="6.32" height="6.32" fill="rgb(110,110,110)"/>
<rect x="70.38" y="299.28" width="6.32" height="6.32" fill="rgb(101,101,101)"/>
<rect x="76.10" y="299.28" width="6.32" height="6.32" fill="rgb(94,94,94)"/>
<rect x="81.83" y="299.28" width="6.32" height="6.32" fill="rgb(88,88,88)"/>
<rect x="87.55" y="299.28" width="6.32" height="6.32" fill="rgb(83,83,83)"/>
<rect x="93.27" y="299.28" width="6.32" height="6.32" fill="rgb(79,79,79)"/>
<rect x="99.00" y="299.28" width="6.32" height="6.32" fill="rgb(75,75,75)"/>
<rect x="104.72" y="299.28" width="6.32" height="6.32" fill="rgb(69,69,69)"/>
<rect x="110.45" y="299.28" width="6.32" height="6.32" fill="rgb(63,63,63)"/>
<rect x="116.17" y="299.28" width="6.32" height="6.32" fill="rgb(51,51,51)"/>
<rect x="121.90" y="299.28" width="6.32" height="6.32" fill="rgb(30,30,30)"/>
<rect x="127.62" y="299.28" width="6.32" height="6.32" fill="rgb(15,15,15)"/>
<rect x="133.35" y="299.28" width="6.32" height="6.32" fill="rgb(11,11,11)"/>
<rect x="139.07" y="299.28" width="6.32" height="6.32" fill="rgb(12,12,12)"/>
<rect x="144.80" y="299.28" width="6.32" height="6.32" fill="rgb(11,11,11)"/>
<rect x="150.53" y="299.28" width="6.32" height="6.32" fill="rgb(11,11,11)"/>
<rect x="156.25" y="299.28" width="6.32" height="6.32" fill="rgb(11,11,11)"/>
<rect x="161.97" y="299.28" width="6.32" height="6.32" fill="rgb(11,11,11)"/>
<rect x="167.70" y="299.28" width="6.32" height="6.32" fill="rgb(11,11,11)"/>
<rect x="173.43" y="299.28" width="6.32" height="6.32" fill="rgb(12,12,12)"/>
<rect x="179.15" y="299.28" width="6.32" height="6.32" fill="rgb(13,13,13)"/>
<rect x="184.88" y="299.28" width="6.32" height="6.32" fill="rgb(14,14,14)"/>
<rect x="190.60" y="299.28" width="6.32" height="6.32" fill="rgb(15,15,15)"/>
<rect x="196.32" y="299.28" width="6.32" height="6.32" fill="rgb(16,16,16)"/>
<rect x="202.05" y="299.28" width="6.32" height="6.32" fill="rgb(15,15,15)"/>
<rect x="207.78" y="299.28" width="6.32" height="6.32" fill="rgb(15,15,15)"/>
<rect x="213.50" y="299.28" width="6.32" height="6.32" fill="rgb(15,15,15)"/>
<rect x="24.58" y="305.00" width="6.32" height="6.32" fill="rgb(122,122,122)"/>
<rect x="30.30" y="305.00" width="6.32" height="6.32" fill="rgb(122,122,122)"/>
<rect x="36.02" y="305.00" width="6.32" height="6.32" fill="rgb(127,127,127)"/>
<rect x="41.75" y="305.00" width="6.32" height="6.32" fill="rgb(130,130,130)"/>
<rect x="47.47" y="305.00" width="6.32" height="6.32" fill="rgb(130,130,130)"/>
<rect x="53.20" y="305.00" width="6.32" height="6.32" fill="rgb(125,125,125)"/>
<rect x="58.92" y="305.00" width="6.32" height="6.32" fill="rgb(118,118,118)"/>
<rect x="64.65" y="305.00" width="6.32" height="6.32" fill="rgb(110,110,110)"/>
<rect x="70.38" y="305.00" width="6.32" height="6.32" fill="rgb(101,101,101)"/>
<rect x="76.10" y="305.00" width="6.32" height="6.32" fill="rgb(94,94,94)"/>
<rect x="81.83" y="305.00" width="6.32" height="6.32" fill="rgb(88,88,88)"/>
<rect x="87.55" y="305.00" width="6.32" height="6.32" fill="rgb(83,83,83)"/>
<rect x="93.27" y="305.00" width="6.32" height="6.32" fill="rgb(79,79,79)"/>
<rect x="99.00" y="305.00" width="6.32" height="6.32" fill="rgb(75,75,75)"/>
<rect x="104.72" y="305.00" width="6.32" height="6.32" fill="rgb(69,69,69)"/>
<rect x="110.45" y="305.00" width="6.32" height="6.32" fill="rgb(63,63,63)"/>
<rect x="116.17" y="305.00" width="6.32" height="6.32" fill="rgb(51,51,51)"/>
<rect x="121.90" y="305.00" width="6.32" height="6.32" fill="rgb(30,30,30)"/>
<rect x="127.62" y="305.00" width="6.32" height="6.32" fill="rgb(15,15,15)"/>
<rect x="133.35" y="305.00" width="6.32" height="6.32" fill="rgb(11,11,11)"/>
<rect x="139.07" y="305.00" width="6.32" height="6.32" fill="rgb(12,12,12)"/>
<rect x="144.80" y="305.00" width="6.32" height="6.32" fill="rgb(11,11,11)"/>
<rect x="150.53" y="305.00" width="6.32" height="6.32" fill="rgb(11,11,11)"/>
<rect x="156.25" y="305.00" width="6.32" height="6.32" fill="rgb(11,11,11)"/>
<rect x="161.97" y="305.00" width="6.32" height="6.32" fill="rgb(11,11,11)"/>
<rect x="167.70" y="305.00" width="6.32" height="6.32" fill="rgb(11,11,11)"/>
<rect x="173.43" y="305.00" width="6.32" height="6.32" fill="rgb(12,12,12)"/>
<rect x="179.15" y="305.00" width="6.32" height="6.32" fill="rgb(13,13,13)"/>
<rect x="184.88" y="305.00" width="6.32" height="6.32" fill="rgb(14,14,14)"/>
<rect x="190.60" y="305.00" width="6.32" height="6.32" fill="rgb(15,15,15)"/>
<rect x="196.32" y="305.00" width="6.32" height="6.32" fill="rgb(16,16,16)"/>
<rect x="202.05" y="305.00" width="6.32" height="6.32" fill="rgb(15,15,15)"/>
<rect x="207.78" y="305.00" width="6.32" height="6.32" fill="rgb(15,15,15)"/>
<rect x="213.50" y="305.00" width="6.32" height="6.32" fill="rgb(15,15,15)"/>
</g></g>
<rect x="30.30" y="122.00" width="183.20" height="183.00" fill="none" stroke="#000" stroke-opacity="0.7" stroke-width="0.9"/>
<line x1="33.16" y1="305.00" x2="33.16" y2="307.40" stroke="#000" stroke-opacity="0.6" stroke-width="0.8"/>
<text x="33.16" y="315.50" font-size="6.4" text-anchor="middle" style="font-family:'DejaVu Sans','Liberation Sans',sans-serif" fill="#1a1a1a" >0</text>
<line x1="61.79" y1="305.00" x2="61.79" y2="307.40" stroke="#000" stroke-opacity="0.6" stroke-width="0.8"/>
<text x="61.79" y="315.50" font-size="6.4" text-anchor="middle" style="font-family:'DejaVu Sans','Liberation Sans',sans-serif" fill="#1a1a1a" >5</text>
<line x1="90.41" y1="305.00" x2="90.41" y2="307.40" stroke="#000" stroke-opacity="0.6" stroke-width="0.8"/>
<text x="90.41" y="315.50" font-size="6.4" text-anchor="middle" style="font-family:'DejaVu Sans','Liberation Sans',sans-serif" fill="#1a1a1a" >10</text>
<line x1="119.04" y1="305.00" x2="119.04" y2="307.40" stroke="#000" stroke-opacity="0.6" stroke-width="0.8"/>
<text x="119.04" y="315.50" font-size="6.4" text-anchor="middle" style="font-family:'DejaVu Sans','Liberation Sans',sans-serif" fill="#1a1a1a" >15</text>
<line x1="147.66" y1="305.00" x2="147.66" y2="307.40" stroke="#000" stroke-opacity="0.6" stroke-width="0.8"/>
<text x="147.66" y="315.50" font-size="6.4" text-anchor="middle" style="font-family:'DejaVu Sans','Liberation Sans',sans-serif" fill="#1a1a1a" >20</text>
<line x1="176.29" y1="305.00" x2="176.29" y2="307.40" stroke="#000" stroke-opacity="0.6" stroke-width="0.8"/>
<text x="176.29" y="315.50" font-size="6.4" text-anchor="middle" style="font-family:'DejaVu Sans','Liberation Sans',sans-serif" fill="#1a1a1a" >25</text>
<line x1="204.91" y1="305.00" x2="204.91" y2="307.40" stroke="#000" stroke-opacity="0.6" stroke-width="0.8"/>
<text x="204.91" y="315.50" font-size="6.4" text-anchor="middle" style="font-family:'DejaVu Sans','Liberation Sans',sans-serif" fill="#1a1a1a" >30</text>
<line x1="27.90" y1="124.86" x2="30.30" y2="124.86" stroke="#000" stroke-opacity="0.6" stroke-width="0.8"/>
<text x="25.00" y="126.59" font-size="6.4" text-anchor="end" style="font-family:'DejaVu Sans','Liberation Sans',sans-serif" fill="#1a1a1a" >0</text>
<line x1="27.90" y1="153.45" x2="30.30" y2="153.45" stroke="#000" stroke-opacity="0.6" stroke-width="0.8"/>
<text x="25.00" y="155.19" font-size="6.4" text-anchor="end" style="font-family:'DejaVu Sans','Liberation Sans',sans-serif" fill="#1a1a1a" >5</text>
<line x1="27.90" y1="182.05" x2="30.30" y2="182.05" stroke="#000" stroke-opacity="0.6" stroke-width="0.8"/>
<text x="25.00" y="183.78" font-size="6.4" text-anchor="end" style="font-family:'DejaVu Sans','Liberation Sans',sans-serif" fill="#1a1a1a" >10</text>
<line x1="27.90" y1="210.64" x2="30.30" y2="210.64" stroke="#000" stroke-opacity="0.6" stroke-width="0.8"/>
<text x="25.00" y="212.37" font-size="6.4" text-anchor="end" style="font-family:'DejaVu Sans','Liberation Sans',sans-serif" fill="#1a1a1a" >15</text>
<line x1="27.90" y1="239.23" x2="30.30" y2="239.23" stroke="#000" stroke-opacity="0.6" stroke-width="0.8"/>
<text x="25.00" y="240.97" font-size="6.4" text-anchor="end" style="font-family:'DejaVu Sans','Liberation Sans',sans-serif" fill="#1a1a1a" >20</text>
<line x1="27.90" y1="267.83" x2="30.30" y2="267.83" stroke="#000" stroke-opacity="0.6" stroke-width="0.8"/>
<text x="25.00" y="269.56" font-size="6.4" text-anchor="end" style="font-family:'DejaVu Sans','Liberation Sans',sans-serif" fill="#1a1a1a" >25</text>
<line x1="27.90" y1="296.42" x2="30.30" y2="296.42" stroke="#000" stroke-opacity="0.6" stroke-width="0.8"/>
<text x="25.00" y="298.15" font-size="6.4" text-anchor="end" style="font-family:'DejaVu Sans','Liberation Sans',sans-serif" fill="#1a1a1a" >30</text>
<text x="119.40" y="117.90" font-size="11.9" text-anchor="middle" style="font-family:'DejaVu Sans','Liberation Sans',sans-serif" fill="#1a1a1a" >Original image</text>
<defs><linearGradient id="cb" x1="0" x2="1" y1="0" y2="0"><stop offset="0" stop-color="#000"/><stop offset="1" stop-color="#fff"/></linearGradient></defs>
<rect x="30.3" y="328.6" width="183.20" height="8.9" fill="url(#cb)" stroke="#000" stroke-opacity="0.6" stroke-width="0.7"/>
<line x1="50.30" y1="337.50" x2="50.30" y2="339.90" stroke="#000" stroke-opacity="0.6" stroke-width="0.8"/>
<text x="50.30" y="348.00" font-size="6.4" text-anchor="middle" style="font-family:'DejaVu Sans','Liberation Sans',sans-serif" fill="#1a1a1a" >0</text>
<line x1="90.40" y1="337.50" x2="90.40" y2="339.90" stroke="#000" stroke-opacity="0.6" stroke-width="0.8"/>
<text x="90.40" y="348.00" font-size="6.4" text-anchor="middle" style="font-family:'DejaVu Sans','Liberation Sans',sans-serif" fill="#1a1a1a" >200</text>
<line x1="130.50" y1="337.50" x2="130.50" y2="339.90" stroke="#000" stroke-opacity="0.6" stroke-width="0.8"/>
<text x="130.50" y="348.00" font-size="6.4" text-anchor="middle" style="font-family:'DejaVu Sans','Liberation Sans',sans-serif" fill="#1a1a1a" >400</text>
<line x1="170.60" y1="337.50" x2="170.60" y2="339.90" stroke="#000" stroke-opacity="0.6" stroke-width="0.8"/>
<text x="170.60" y="348.00" font-size="6.4" text-anchor="middle" style="font-family:'DejaVu Sans','Liberation Sans',sans-serif" fill="#1a1a1a" >600</text>
<line x1="210.70" y1="337.50" x2="210.70" y2="339.90" stroke="#000" stroke-opacity="0.6" stroke-width="0.8"/>
<text x="210.70" y="348.00" font-size="6.4" text-anchor="middle" style="font-family:'DejaVu Sans','Liberation Sans',sans-serif" fill="#1a1a1a" >800</text>
<text x="121.20" y="364.60" font-size="7.84" text-anchor="middle" style="font-family:'DejaVu Sans','Liberation Sans',sans-serif" fill="#1a1a1a" >Intensity (HU)</text>
<text x="118.00" y="384.00" font-size="18.3" text-anchor="middle" style="font-family:'Liberation Sans',sans-serif" fill="#111" >(a)</text>
<rect x="277.60" y="15.30" width="188.90" height="188.40" fill="#440154"/>
<path d="M277.60 15.30H401.57V21.19H277.60ZM277.60 21.19H395.66V27.07H277.60ZM277.60 27.07H383.86V32.96H277.60ZM277.60 32.96H377.95V38.85H277.60ZM277.60 38.85H377.95V44.74H277.60ZM277.60 44.74H377.95V50.62H277.60ZM277.60 50.62H377.95V56.51H277.60ZM277.60 56.51H377.95V62.40H277.60ZM277.60 62.40H372.05V68.29H277.60ZM277.60 68.29H366.15V74.17H277.60ZM277.60 74.17H354.34V80.06H277.60ZM277.60 80.06H348.44V85.95H277.60ZM277.60 85.95H342.53V91.84H277.60ZM277.60 91.84H336.63V97.72H277.60ZM277.60 97.72H336.63V103.61H277.60ZM277.60 103.61H330.73V109.50H277.60ZM277.60 109.50H318.92V115.39H277.60ZM277.60 115.39H313.02V121.27H277.60ZM277.60 121.27H313.02V127.16H277.60ZM277.60 127.16H307.12V133.05H277.60ZM277.60 133.05H301.21V138.94H277.60ZM277.60 138.94H301.21V144.82H277.60ZM277.60 144.82H295.31V150.71H277.60ZM277.60 150.71H289.41V156.60H277.60ZM277.60 156.60H283.50V162.49H277.60Z" fill="#21918c"/>
<path d="M460.60 44.74H466.50V50.62H460.60ZM454.69 50.62H466.50V56.51H454.69ZM454.69 56.51H466.50V62.40H454.69ZM448.79 62.40H466.50V68.29H448.79ZM448.79 68.29H466.50V74.17H448.79ZM448.79 74.17H466.50V80.06H448.79ZM442.89 80.06H466.50V85.95H442.89ZM442.89 85.95H466.50V91.84H442.89ZM442.89 91.84H466.50V97.72H442.89ZM436.98 97.72H466.50V103.61H436.98ZM436.98 103.61H466.50V109.50H436.98ZM431.08 109.50H466.50V115.39H431.08ZM425.18 115.39H466.50V121.27H425.18ZM425.18 121.27H466.50V127.16H425.18ZM413.37 127.16H466.50V133.05H413.37ZM407.47 133.05H466.50V138.94H407.47ZM401.57 138.94H466.50V144.82H401.57ZM401.57 144.82H466.50V150.71H401.57ZM401.57 150.71H466.50V156.60H401.57ZM395.66 156.60H466.50V162.49H395.66ZM395.66 162.49H466.50V168.38H395.66ZM389.76 168.38H466.50V174.26H389.76ZM389.76 174.26H466.50V180.15H389.76ZM377.95 180.15H466.50V186.04H377.95ZM372.05 186.04H466.50V191.92H372.05ZM372.05 191.92H466.50V197.81H372.05ZM366.15 197.81H466.50V203.70H366.15Z" fill="#fde725"/>
<rect x="277.60" y="15.30" width="188.90" height="188.40" fill="none" stroke="#000" stroke-opacity="0.7" stroke-width="0.9"/>
<line x1="280.55" y1="203.70" x2="280.55" y2="206.10" stroke="#000" stroke-opacity="0.6" stroke-width="0.8"/>
<text x="280.55" y="214.20" font-size="7.35" text-anchor="middle" style="font-family:'DejaVu Sans','Liberation Sans',sans-serif" fill="#1a1a1a" >0</text>
<line x1="310.07" y1="203.70" x2="310.07" y2="206.10" stroke="#000" stroke-opacity="0.6" stroke-width="0.8"/>
<text x="310.07" y="214.20" font-size="7.35" text-anchor="middle" style="font-family:'DejaVu Sans','Liberation Sans',sans-serif" fill="#1a1a1a" >5</text>
<line x1="339.58" y1="203.70" x2="339.58" y2="206.10" stroke="#000" stroke-opacity="0.6" stroke-width="0.8"/>
<text x="339.58" y="214.20" font-size="7.35" text-anchor="middle" style="font-family:'DejaVu Sans','Liberation Sans',sans-serif" fill="#1a1a1a" >10</text>
<line x1="369.10" y1="203.70" x2="369.10" y2="206.10" stroke="#000" stroke-opacity="0.6" stroke-width="0.8"/>
<text x="369.10" y="214.20" font-size="7.35" text-anchor="middle" style="font-family:'DejaVu Sans','Liberation Sans',sans-serif" fill="#1a1a1a" >15</text>
<line x1="398.61" y1="203.70" x2="398.61" y2="206.10" stroke="#000" stroke-opacity="0.6" stroke-width="0.8"/>
<text x="398.61" y="214.20" font-size="7.35" text-anchor="middle" style="font-family:'DejaVu Sans','Liberation Sans',sans-serif" fill="#1a1a1a" >20</text>
<line x1="428.13" y1="203.70" x2="428.13" y2="206.10" stroke="#000" stroke-opacity="0.6" stroke-width="0.8"/>
<text x="428.13" y="214.20" font-size="7.35" text-anchor="middle" style="font-family:'DejaVu Sans','Liberation Sans',sans-serif" fill="#1a1a1a" >25</text>
<line x1="457.65" y1="203.70" x2="457.65" y2="206.10" stroke="#000" stroke-opacity="0.6" stroke-width="0.8"/>
<text x="457.65" y="214.20" font-size="7.35" text-anchor="middle" style="font-family:'DejaVu Sans','Liberation Sans',sans-serif" fill="#1a1a1a" >30</text>
<line x1="275.20" y1="18.24" x2="277.60" y2="18.24" stroke="#000" stroke-opacity="0.6" stroke-width="0.8"/>
<text x="272.30" y="20.34" font-size="7.35" text-anchor="end" style="font-family:'DejaVu Sans','Liberation Sans',sans-serif" fill="#1a1a1a" >0</text>
<line x1="275.20" y1="47.68" x2="277.60" y2="47.68" stroke="#000" stroke-opacity="0.6" stroke-width="0.8"/>
<text x="272.30" y="49.77" font-size="7.35" text-anchor="end" style="font-family:'DejaVu Sans','Liberation Sans',sans-serif" fill="#1a1a1a" >5</text>
<line x1="275.20" y1="77.12" x2="277.60" y2="77.12" stroke="#000" stroke-opacity="0.6" stroke-width="0.8"/>
<text x="272.30" y="79.21" font-size="7.35" text-anchor="end" style="font-family:'DejaVu Sans','Liberation Sans',sans-serif" fill="#1a1a1a" >10</text>
<line x1="275.20" y1="106.56" x2="277.60" y2="106.56" stroke="#000" stroke-opacity="0.6" stroke-width="0.8"/>
<text x="272.30" y="108.65" font-size="7.35" text-anchor="end" style="font-family:'DejaVu Sans','Liberation Sans',sans-serif" fill="#1a1a1a" >15</text>
<line x1="275.20" y1="135.99" x2="277.60" y2="135.99" stroke="#000" stroke-opacity="0.6" stroke-width="0.8"/>
<text x="272.30" y="138.09" font-size="7.35" text-anchor="end" style="font-family:'DejaVu Sans','Liberation Sans',sans-serif" fill="#1a1a1a" >20</text>
<line x1="275.20" y1="165.43" x2="277.60" y2="165.43" stroke="#000" stroke-opacity="0.6" stroke-width="0.8"/>
<text x="272.30" y="167.52" font-size="7.35" text-anchor="end" style="font-family:'DejaVu Sans','Liberation Sans',sans-serif" fill="#1a1a1a" >25</text>
<line x1="275.20" y1="194.87" x2="277.60" y2="194.87" stroke="#000" stroke-opacity="0.6" stroke-width="0.8"/>
<text x="272.30" y="196.96" font-size="7.35" text-anchor="end" style="font-family:'DejaVu Sans','Liberation Sans',sans-serif" fill="#1a1a1a" >30</text>
<text x="372.05" y="10.60" font-size="11.9" text-anchor="middle" style="font-family:'DejaVu Sans','Liberation Sans',sans-serif" fill="#1a1a1a" >Ward's clusters</text>
<circle cx="369.10" cy="106.56" r="2.1" fill="#ff0000"/>
<path d="M333.68 139.58 L335.98 144.18 L331.38 144.18 Z" fill="#1f77b4"/>
<path d="M298.26 21.83 L300.56 26.43 L295.96 26.43 Z" fill="#ff7f0e"/>
<path d="M392.71 169.02 L395.01 173.62 L390.41 173.62 Z" fill="#2ca02c"/>
<text x="333.68" y="141.88" font-size="13.7" text-anchor="start" style="font-family:'DejaVu Sans','Liberation Sans',sans-serif" fill="#000" >0</text>
<text x="298.26" y="24.13" font-size="13.7" text-anchor="start" style="font-family:'DejaVu Sans','Liberation Sans',sans-serif" fill="#000" >1</text>
<text x="392.71" y="171.32" font-size="13.7" text-anchor="start" style="font-family:'DejaVu Sans','Liberation Sans',sans-serif" fill="#000" >2</text>
<rect x="514.20" y="15.10" width="189.40" height="188.60" fill="#440154"/>
<path d="M514.20 15.10H691.76V20.99H514.20ZM514.20 20.99H691.76V26.89H514.20ZM514.20 26.89H620.74V32.78H514.20ZM626.66 26.89H685.84V32.78H626.66ZM514.20 32.78H614.82V38.67H514.20ZM626.66 32.78H679.92V38.67H626.66ZM514.20 38.67H614.82V44.57H514.20ZM626.66 38.67H674.01V44.57H626.66ZM514.20 44.57H614.82V50.46H514.20ZM626.66 44.57H668.09V50.46H626.66ZM514.20 50.46H614.82V56.36H514.20ZM632.58 50.46H656.25V56.36H632.58ZM514.20 56.36H614.82V62.25H514.20ZM514.20 62.25H608.90V68.14H514.20ZM514.20 68.14H602.98V74.04H514.20ZM514.20 74.04H591.14V79.93H514.20ZM514.20 79.93H585.23V85.82H514.20ZM514.20 85.82H579.31V91.72H514.20ZM514.20 91.72H573.39V97.61H514.20ZM514.20 97.61H573.39V103.51H514.20ZM514.20 103.51H567.47V109.40H514.20ZM514.20 109.40H555.63V115.29H514.20ZM514.20 115.29H549.71V121.19H514.20ZM514.20 121.19H549.71V127.08H514.20ZM514.20 127.08H543.79V132.97H514.20ZM514.20 132.97H537.88V138.87H514.20ZM514.20 138.87H537.88V144.76H514.20ZM514.20 144.76H531.96V150.66H514.20ZM514.20 150.66H526.04V156.55H514.20ZM514.20 156.55H520.12V162.44H514.20Z" fill="#fde725"/>
<path d="M697.68 44.57H703.60V50.46H697.68ZM691.76 50.46H703.60V56.36H691.76ZM691.76 56.36H703.60V62.25H691.76ZM685.84 62.25H703.60V68.14H685.84ZM685.84 68.14H703.60V74.04H685.84ZM685.84 74.04H703.60V79.93H685.84ZM679.92 79.93H703.60V85.82H679.92ZM679.92 85.82H703.60V91.72H679.92ZM679.92 91.72H703.60V97.61H679.92ZM674.01 97.61H703.60V103.51H674.01ZM674.01 103.51H703.60V109.40H674.01ZM668.09 109.40H703.60V115.29H668.09ZM662.17 115.29H703.60V121.19H662.17ZM662.17 121.19H703.60V127.08H662.17ZM650.33 127.08H703.60V132.97H650.33ZM644.41 132.97H703.60V138.87H644.41ZM638.49 138.87H703.60V144.76H638.49ZM638.49 144.76H703.60V150.66H638.49ZM638.49 150.66H703.60V156.55H638.49ZM632.58 156.55H703.60V162.44H632.58ZM632.58 162.44H703.60V168.34H632.58ZM626.66 168.34H703.60V174.23H626.66ZM626.66 174.23H703.60V180.12H626.66ZM614.82 180.12H703.60V186.02H614.82ZM608.90 186.02H703.60V191.91H608.90ZM608.90 191.91H703.60V197.81H608.90ZM602.98 197.81H703.60V203.70H602.98Z" fill="#35b779"/>
<path d="M585.23 91.72H650.33V97.61H585.23ZM585.23 97.61H650.33V103.51H585.23ZM579.31 103.51H650.33V109.40H579.31ZM573.39 109.40H644.41V115.29H573.39ZM567.47 115.29H638.49V121.19H567.47ZM561.55 121.19H632.58V127.08H561.55ZM555.63 127.08H632.58V132.97H555.63ZM549.71 132.97H626.66V138.87H549.71ZM549.71 138.87H620.74V144.76H549.71ZM543.79 144.76H614.82V150.66H543.79ZM537.88 150.66H614.82V156.55H537.88ZM531.96 156.55H614.82V162.44H531.96ZM526.04 162.44H608.90V168.34H526.04ZM520.12 168.34H602.98V174.23H520.12ZM520.12 174.23H579.31V180.12H520.12ZM514.20 180.12H573.39V186.02H514.20ZM514.20 186.02H567.47V191.91H514.20ZM514.20 191.91H567.47V197.81H514.20ZM514.20 197.81H561.55V203.70H514.20Z" fill="#31688e"/>
<rect x="514.20" y="15.10" width="189.40" height="188.60" fill="none" stroke="#000" stroke-opacity="0.7" stroke-width="0.9"/>
<line x1="517.16" y1="203.70" x2="517.16" y2="206.10" stroke="#000" stroke-opacity="0.6" stroke-width="0.8"/>
<text x="517.16" y="214.20" font-size="7.35" text-anchor="middle" style="font-family:'DejaVu Sans','Liberation Sans',sans-serif" fill="#1a1a1a" >0</text>
<line x1="546.75" y1="203.70" x2="546.75" y2="206.10" stroke="#000" stroke-opacity="0.6" stroke-width="0.8"/>
<text x="546.75" y="214.20" font-size="7.35" text-anchor="middle" style="font-family:'DejaVu Sans','Liberation Sans',sans-serif" fill="#1a1a1a" >5</text>
<line x1="576.35" y1="203.70" x2="576.35" y2="206.10" stroke="#000" stroke-opacity="0.6" stroke-width="0.8"/>
<text x="576.35" y="214.20" font-size="7.35" text-anchor="middle" style="font-family:'DejaVu Sans','Liberation Sans',sans-serif" fill="#1a1a1a" >10</text>
<line x1="605.94" y1="203.70" x2="605.94" y2="206.10" stroke="#000" stroke-opacity="0.6" stroke-width="0.8"/>
<text x="605.94" y="214.20" font-size="7.35" text-anchor="middle" style="font-family:'DejaVu Sans','Liberation Sans',sans-serif" fill="#1a1a1a" >15</text>
<line x1="635.53" y1="203.70" x2="635.53" y2="206.10" stroke="#000" stroke-opacity="0.6" stroke-width="0.8"/>
<text x="635.53" y="214.20" font-size="7.35" text-anchor="middle" style="font-family:'DejaVu Sans','Liberation Sans',sans-serif" fill="#1a1a1a" >20</text>
<line x1="665.13" y1="203.70" x2="665.13" y2="206.10" stroke="#000" stroke-opacity="0.6" stroke-width="0.8"/>
<text x="665.13" y="214.20" font-size="7.35" text-anchor="middle" style="font-family:'DejaVu Sans','Liberation Sans',sans-serif" fill="#1a1a1a" >25</text>
<line x1="694.72" y1="203.70" x2="694.72" y2="206.10" stroke="#000" stroke-opacity="0.6" stroke-width="0.8"/>
<text x="694.72" y="214.20" font-size="7.35" text-anchor="middle" style="font-family:'DejaVu Sans','Liberation Sans',sans-serif" fill="#1a1a1a" >30</text>
<line x1="511.80" y1="18.05" x2="514.20" y2="18.05" stroke="#000" stroke-opacity="0.6" stroke-width="0.8"/>
<text x="508.90" y="20.14" font-size="7.35" text-anchor="end" style="font-family:'DejaVu Sans','Liberation Sans',sans-serif" fill="#1a1a1a" >0</text>
<line x1="511.80" y1="47.52" x2="514.20" y2="47.52" stroke="#000" stroke-opacity="0.6" stroke-width="0.8"/>
<text x="508.90" y="49.61" font-size="7.35" text-anchor="end" style="font-family:'DejaVu Sans','Liberation Sans',sans-serif" fill="#1a1a1a" >5</text>
<line x1="511.80" y1="76.98" x2="514.20" y2="76.98" stroke="#000" stroke-opacity="0.6" stroke-width="0.8"/>
<text x="508.90" y="79.08" font-size="7.35" text-anchor="end" style="font-family:'DejaVu Sans','Liberation Sans',sans-serif" fill="#1a1a1a" >10</text>
<line x1="511.80" y1="106.45" x2="514.20" y2="106.45" stroke="#000" stroke-opacity="0.6" stroke-width="0.8"/>
<text x="508.90" y="108.55" font-size="7.35" text-anchor="end" style="font-family:'DejaVu Sans','Liberation Sans',sans-serif" fill="#1a1a1a" >15</text>
<line x1="511.80" y1="135.92" x2="514.20" y2="135.92" stroke="#000" stroke-opacity="0.6" stroke-width="0.8"/>
<text x="508.90" y="138.01" font-size="7.35" text-anchor="end" style="font-family:'DejaVu Sans','Liberation Sans',sans-serif" fill="#1a1a1a" >20</text>
<line x1="511.80" y1="165.39" x2="514.20" y2="165.39" stroke="#000" stroke-opacity="0.6" stroke-width="0.8"/>
<text x="508.90" y="167.48" font-size="7.35" text-anchor="end" style="font-family:'DejaVu Sans','Liberation Sans',sans-serif" fill="#1a1a1a" >25</text>
<line x1="511.80" y1="194.86" x2="514.20" y2="194.86" stroke="#000" stroke-opacity="0.6" stroke-width="0.8"/>
<text x="508.90" y="196.95" font-size="7.35" text-anchor="end" style="font-family:'DejaVu Sans','Liberation Sans',sans-serif" fill="#1a1a1a" >30</text>
<text x="608.90" y="10.60" font-size="11.9" text-anchor="middle" style="font-family:'DejaVu Sans','Liberation Sans',sans-serif" fill="#1a1a1a" >Ward's clusters</text>
<circle cx="605.94" cy="106.45" r="2.1" fill="#ff0000"/>
<path d="M659.21 110.05 L661.51 114.65 L656.91 114.65 Z" fill="#1f77b4"/>
<path d="M576.35 168.98 L578.65 173.58 L574.05 173.58 Z" fill="#ff7f0e"/>
<path d="M694.72 68.79 L697.02 73.39 L692.42 73.39 Z" fill="#2ca02c"/>
<path d="M534.92 98.26 L537.22 102.86 L532.62 102.86 Z" fill="#d62728"/>
<text x="659.21" y="112.35" font-size="13.7" text-anchor="start" style="font-family:'DejaVu Sans','Liberation Sans',sans-serif" fill="#000" >0</text>
<text x="576.35" y="171.28" font-size="13.7" text-anchor="start" style="font-family:'DejaVu Sans','Liberation Sans',sans-serif" fill="#000" >1</text>
<text x="694.72" y="71.09" font-size="13.7" text-anchor="start" style="font-family:'DejaVu Sans','Liberation Sans',sans-serif" fill="#000" >2</text>
<text x="534.92" y="100.56" font-size="13.7" text-anchor="start" style="font-family:'DejaVu Sans','Liberation Sans',sans-serif" fill="#000" >3</text>
<rect x="40.60" y="512.40" width="189.35" height="188.90" fill="#440154"/>
<path d="M40.60 512.40H218.12V518.30H40.60ZM40.60 518.30H218.12V524.21H40.60ZM40.60 524.21H147.11V530.11H40.60ZM153.03 524.21H212.20V530.11H153.03ZM40.60 530.11H141.19V536.01H40.60ZM153.03 530.11H206.28V536.01H153.03ZM40.60 536.01H141.19V541.92H40.60ZM153.03 536.01H200.36V541.92H153.03ZM40.60 541.92H141.19V547.82H40.60ZM153.03 541.92H194.45V547.82H153.03ZM40.60 547.82H141.19V553.72H40.60ZM158.94 547.82H182.61V553.72H158.94ZM40.60 553.72H141.19V559.62H40.60ZM40.60 559.62H135.28V565.53H40.60ZM40.60 565.53H129.36V571.43H40.60ZM40.60 571.43H117.52V577.33H40.60ZM40.60 577.33H111.61V583.24H40.60ZM40.60 583.24H105.69V589.14H40.60ZM40.60 589.14H99.77V595.04H40.60ZM40.60 595.04H99.77V600.95H40.60ZM40.60 600.95H93.85V606.85H40.60ZM40.60 606.85H82.02V612.75H40.60ZM40.60 612.75H76.10V618.66H40.60ZM40.60 618.66H76.10V624.56H40.60ZM40.60 624.56H70.19V630.46H40.60ZM40.60 630.46H64.27V636.37H40.60ZM40.60 636.37H64.27V642.27H40.60ZM40.60 642.27H58.35V648.17H40.60ZM40.60 648.17H52.43V654.07H40.60ZM40.60 654.07H46.52V659.98H40.60Z" fill="#5ec962"/>
<path d="M224.03 541.92H229.95V547.82H224.03ZM218.12 547.82H229.95V553.72H218.12ZM218.12 553.72H229.95V559.62H218.12ZM212.20 559.62H229.95V565.53H212.20ZM212.20 565.53H229.95V571.43H212.20ZM212.20 571.43H229.95V577.33H212.20ZM206.28 577.33H229.95V583.24H206.28ZM206.28 583.24H229.95V589.14H206.28ZM206.28 589.14H229.95V595.04H206.28ZM200.36 595.04H229.95V600.95H200.36ZM200.36 600.95H229.95V606.85H200.36ZM194.45 606.85H229.95V612.75H194.45ZM188.53 612.75H229.95V618.66H188.53ZM188.53 618.66H229.95V624.56H188.53ZM176.70 624.56H229.95V630.46H176.70ZM170.78 630.46H229.95V636.37H170.78ZM164.86 636.37H229.95V642.27H164.86ZM164.86 642.27H229.95V648.17H164.86ZM164.86 648.17H229.95V654.07H164.86ZM158.94 654.07H229.95V659.98H158.94ZM158.94 659.98H229.95V665.88H158.94ZM153.03 665.88H229.95V671.78H153.03ZM153.03 671.78H229.95V677.69H153.03ZM141.19 677.69H229.95V683.59H141.19ZM135.28 683.59H229.95V689.49H135.28ZM135.28 689.49H229.95V695.40H135.28ZM129.36 695.40H229.95V701.30H129.36Z" fill="#21918c"/>
<path d="M111.61 589.14H176.70V595.04H111.61ZM111.61 595.04H176.70V600.95H111.61ZM105.69 600.95H176.70V606.85H105.69ZM99.77 606.85H170.78V612.75H99.77ZM93.85 612.75H164.86V618.66H93.85ZM87.94 618.66H158.94V624.56H87.94ZM82.02 624.56H158.94V630.46H82.02ZM76.10 630.46H153.03V636.37H76.10ZM76.10 636.37H147.11V642.27H76.10ZM70.19 642.27H141.19V648.17H70.19ZM64.27 648.17H141.19V654.07H64.27ZM58.35 654.07H141.19V659.98H58.35ZM52.43 659.98H135.28V665.88H52.43ZM46.52 665.88H129.36V671.78H46.52ZM46.52 671.78H105.69V677.69H46.52ZM40.60 677.69H99.77V683.59H40.60ZM40.60 683.59H93.85V689.49H40.60ZM40.60 689.49H93.85V695.40H40.60ZM40.60 695.40H87.94V701.30H40.60Z" fill="#3b528b"/>
<path d="M158.94 636.37H164.86V642.27H158.94ZM153.03 642.27H164.86V648.17H153.03ZM147.11 648.17H164.86V654.07H147.11ZM147.11 654.07H158.94V659.98H147.11ZM147.11 659.98H158.94V665.88H147.11ZM141.19 665.88H153.03V671.78H141.19ZM135.28 671.78H153.03V677.69H135.28ZM129.36 677.69H141.19V683.59H129.36ZM117.52 683.59H135.28V689.49H117.52ZM111.61 689.49H135.28V695.40H111.61ZM105.69 695.40H129.36V701.30H105.69Z" fill="#fde725"/>
<rect x="40.60" y="512.40" width="189.35" height="188.90" fill="none" stroke="#000" stroke-opacity="0.7" stroke-width="0.9"/>
<line x1="43.56" y1="701.30" x2="43.56" y2="703.70" stroke="#000" stroke-opacity="0.6" stroke-width="0.8"/>
<text x="43.56" y="711.80" font-size="7.35" text-anchor="middle" style="font-family:'DejaVu Sans','Liberation Sans',sans-serif" fill="#1a1a1a" >0</text>
<line x1="73.14" y1="701.30" x2="73.14" y2="703.70" stroke="#000" stroke-opacity="0.6" stroke-width="0.8"/>
<text x="73.14" y="711.80" font-size="7.35" text-anchor="middle" style="font-family:'DejaVu Sans','Liberation Sans',sans-serif" fill="#1a1a1a" >5</text>
<line x1="102.73" y1="701.30" x2="102.73" y2="703.70" stroke="#000" stroke-opacity="0.6" stroke-width="0.8"/>
<text x="102.73" y="711.80" font-size="7.35" text-anchor="middle" style="font-family:'DejaVu Sans','Liberation Sans',sans-serif" fill="#1a1a1a" >10</text>
<line x1="132.32" y1="701.30" x2="132.32" y2="703.70" stroke="#000" stroke-opacity="0.6" stroke-width="0.8"/>
<text x="132.32" y="711.80" font-size="7.35" text-anchor="middle" style="font-family:'DejaVu Sans','Liberation Sans',sans-serif" fill="#1a1a1a" >15</text>
<line x1="161.90" y1="701.30" x2="161.90" y2="703.70" stroke="#000" stroke-opacity="0.6" stroke-width="0.8"/>
<text x="161.90" y="711.80" font-size="7.35" text-anchor="middle" style="font-family:'DejaVu Sans','Liberation Sans',sans-serif" fill="#1a1a1a" >20</text>
<line x1="191.49" y1="701.30" x2="191.49" y2="703.70" stroke="#000" stroke-opacity="0.6" stroke-width="0.8"/>
<text x="191.49" y="711.80" font-size="7.35" text-anchor="middle" style="font-family:'DejaVu Sans','Liberation Sans',sans-serif" fill="#1a1a1a" >25</text>
<line x1="221.07" y1="701.30" x2="221.07" y2="703.70" stroke="#000" stroke-opacity="0.6" stroke-width="0.8"/>
<text x="221.07" y="711.80" font-size="7.35" text-anchor="middle" style="font-family:'DejaVu Sans','Liberation Sans',sans-serif" fill="#1a1a1a" >30</text>
<line x1="38.20" y1="515.35" x2="40.60" y2="515.35" stroke="#000" stroke-opacity="0.6" stroke-width="0.8"/>
<text x="35.30" y="517.44" font-size="7.35" text-anchor="end" style="font-family:'DejaVu Sans','Liberation Sans',sans-serif" fill="#1a1a1a" >0</text>
<line x1="38.20" y1="544.87" x2="40.60" y2="544.87" stroke="#000" stroke-opacity="0.6" stroke-width="0.8"/>
<text x="35.30" y="546.96" font-size="7.35" text-anchor="end" style="font-family:'DejaVu Sans','Liberation Sans',sans-serif" fill="#1a1a1a" >5</text>
<line x1="38.20" y1="574.38" x2="40.60" y2="574.38" stroke="#000" stroke-opacity="0.6" stroke-width="0.8"/>
<text x="35.30" y="576.48" font-size="7.35" text-anchor="end" style="font-family:'DejaVu Sans','Liberation Sans',sans-serif" fill="#1a1a1a" >10</text>
<line x1="38.20" y1="603.90" x2="40.60" y2="603.90" stroke="#000" stroke-opacity="0.6" stroke-width="0.8"/>
<text x="35.30" y="605.99" font-size="7.35" text-anchor="end" style="font-family:'DejaVu Sans','Liberation Sans',sans-serif" fill="#1a1a1a" >15</text>
<line x1="38.20" y1="633.41" x2="40.60" y2="633.41" stroke="#000" stroke-opacity="0.6" stroke-width="0.8"/>
<text x="35.30" y="635.51" font-size="7.35" text-anchor="end" style="font-family:'DejaVu Sans','Liberation Sans',sans-serif" fill="#1a1a1a" >20</text>
<line x1="38.20" y1="662.93" x2="40.60" y2="662.93" stroke="#000" stroke-opacity="0.6" stroke-width="0.8"/>
<text x="35.30" y="665.02" font-size="7.35" text-anchor="end" style="font-family:'DejaVu Sans','Liberation Sans',sans-serif" fill="#1a1a1a" >25</text>
<line x1="38.20" y1="692.45" x2="40.60" y2="692.45" stroke="#000" stroke-opacity="0.6" stroke-width="0.8"/>
<text x="35.30" y="694.54" font-size="7.35" text-anchor="end" style="font-family:'DejaVu Sans','Liberation Sans',sans-serif" fill="#1a1a1a" >30</text>
<text x="135.28" y="508.50" font-size="11.9" text-anchor="middle" style="font-family:'DejaVu Sans','Liberation Sans',sans-serif" fill="#1a1a1a" >Ward's clusters</text>
<circle cx="132.32" cy="603.90" r="2.1" fill="#ff0000"/>
<path d="M108.65 690.15 L110.95 694.75 L106.35 694.75 Z" fill="#1f77b4"/>
<path d="M84.98 637.02 L87.28 641.62 L82.68 641.62 Z" fill="#ff7f0e"/>
<path d="M173.74 654.73 L176.04 659.33 L171.44 659.33 Z" fill="#2ca02c"/>
<path d="M179.65 530.76 L181.95 535.36 L177.35 535.36 Z" fill="#d62728"/>
<path d="M126.40 696.05 L128.70 700.65 L124.10 700.65 Z" fill="#9467bd"/>
<text x="108.65" y="692.45" font-size="13.7" text-anchor="start" style="font-family:'DejaVu Sans','Liberation Sans',sans-serif" fill="#000" >0</text>
<text x="84.98" y="639.32" font-size="13.7" text-anchor="start" style="font-family:'DejaVu Sans','Liberation Sans',sans-serif" fill="#000" >1</text>
<text x="173.74" y="657.03" font-size="13.7" text-anchor="start" style="font-family:'DejaVu Sans','Liberation Sans',sans-serif" fill="#000" >2</text>
<text x="179.65" y="533.06" font-size="13.7" text-anchor="start" style="font-family:'DejaVu Sans','Liberation Sans',sans-serif" fill="#000" >3</text>
<text x="126.40" y="698.35" font-size="13.7" text-anchor="start" style="font-family:'DejaVu Sans','Liberation Sans',sans-serif" fill="#000" >4</text>
<rect x="277.40" y="512.40" width="189.10" height="188.90" fill="#440154"/>
<path d="M277.40 512.40H454.68V518.30H277.40ZM277.40 518.30H454.68V524.21H277.40ZM277.40 524.21H383.77V530.11H277.40ZM389.68 524.21H448.77V530.11H389.68ZM277.40 530.11H377.86V536.01H277.40ZM389.68 530.11H442.86V536.01H389.68ZM277.40 536.01H377.86V541.92H277.40ZM389.68 536.01H436.95V541.92H389.68ZM277.40 541.92H377.86V547.82H277.40ZM389.68 541.92H431.04V547.82H389.68ZM277.40 547.82H377.86V553.72H277.40ZM395.59 547.82H419.23V553.72H395.59ZM277.40 553.72H377.86V559.62H277.40ZM277.40 559.62H371.95V565.53H277.40ZM277.40 565.53H366.04V571.43H277.40ZM277.40 571.43H354.22V577.33H277.40ZM277.40 577.33H348.31V583.24H277.40ZM277.40 583.24H342.40V589.14H277.40ZM277.40 589.14H336.49V595.04H277.40ZM277.40 595.04H336.49V600.95H277.40ZM277.40 600.95H330.58V606.85H277.40ZM277.40 606.85H318.77V612.75H277.40ZM277.40 612.75H312.86V618.66H277.40ZM277.40 618.66H312.86V624.56H277.40ZM277.40 624.56H306.95V630.46H277.40ZM277.40 630.46H301.04V636.37H277.40ZM277.40 636.37H301.04V642.27H277.40ZM277.40 642.27H295.13V648.17H277.40ZM277.40 648.17H289.22V654.07H277.40ZM277.40 654.07H283.31V659.98H277.40Z" fill="#22a884"/>
<path d="M454.68 530.11H466.50V536.01H454.68ZM448.77 536.01H466.50V541.92H448.77ZM442.86 541.92H460.59V547.82H442.86ZM436.95 547.82H454.68V553.72H436.95ZM431.04 553.72H454.68V559.62H431.04ZM431.04 559.62H448.77V565.53H431.04ZM431.04 565.53H448.77V571.43H431.04ZM431.04 571.43H448.77V577.33H431.04ZM431.04 577.33H442.86V583.24H431.04ZM431.04 583.24H442.86V589.14H431.04ZM431.04 589.14H442.86V595.04H431.04ZM425.13 595.04H436.95V600.95H425.13ZM419.23 600.95H436.95V606.85H419.23ZM419.23 606.85H431.04V612.75H419.23ZM413.32 612.75H425.13V618.66H413.32ZM407.41 618.66H425.13V624.56H407.41ZM401.50 624.56H413.32V630.46H401.50ZM401.50 630.46H407.41V636.37H401.50Z" fill="#2a788e"/>
<path d="M460.59 541.92H466.50V547.82H460.59ZM454.68 547.82H466.50V553.72H454.68ZM454.68 553.72H466.50V559.62H454.68ZM448.77 559.62H466.50V565.53H448.77ZM448.77 565.53H466.50V571.43H448.77ZM448.77 571.43H466.50V577.33H448.77ZM442.86 577.33H466.50V583.24H442.86ZM442.86 583.24H466.50V589.14H442.86ZM442.86 589.14H466.50V595.04H442.86ZM436.95 595.04H466.50V600.95H436.95ZM436.95 600.95H466.50V606.85H436.95ZM431.04 606.85H466.50V612.75H431.04ZM425.13 612.75H466.50V618.66H425.13ZM425.13 618.66H466.50V624.56H425.13ZM413.32 624.56H466.50V630.46H413.32ZM407.41 630.46H466.50V636.37H407.41ZM401.50 636.37H466.50V642.27H401.50ZM401.50 642.27H466.50V648.17H401.50ZM401.50 648.17H466.50V654.07H401.50ZM395.59 654.07H466.50V659.98H395.59ZM395.59 659.98H466.50V665.88H395.59ZM389.68 665.88H466.50V671.78H389.68ZM389.68 671.78H466.50V677.69H389.68ZM377.86 677.69H466.50V683.59H377.86ZM371.95 683.59H466.50V689.49H371.95ZM371.95 689.49H466.50V695.40H371.95ZM366.04 695.40H466.50V701.30H366.04Z" fill="#fde725"/>
<path d="M348.31 589.14H413.32V595.04H348.31ZM348.31 595.04H413.32V600.95H348.31ZM342.40 600.95H413.32V606.85H342.40ZM336.49 606.85H407.41V612.75H336.49ZM330.58 612.75H401.50V618.66H330.58ZM324.67 618.66H395.59V624.56H324.67ZM318.77 624.56H395.59V630.46H318.77ZM312.86 630.46H389.68V636.37H312.86ZM312.86 636.37H383.77V642.27H312.86ZM306.95 642.27H377.86V648.17H306.95ZM301.04 648.17H377.86V654.07H301.04ZM295.13 654.07H377.86V659.98H295.13ZM289.22 659.98H371.95V665.88H289.22ZM283.31 665.88H366.04V671.78H283.31ZM283.31 671.78H342.40V677.69H283.31ZM277.40 677.69H336.49V683.59H277.40ZM277.40 683.59H330.58V689.49H277.40ZM277.40 689.49H330.58V695.40H277.40ZM277.40 695.40H324.67V701.30H277.40Z" fill="#414487"/>
<path d="M395.59 636.37H401.50V642.27H395.59ZM389.68 642.27H401.50V648.17H389.68ZM383.77 648.17H401.50V654.07H383.77ZM383.77 654.07H395.59V659.98H383.77ZM383.77 659.98H395.59V665.88H383.77ZM377.86 665.88H389.68V671.78H377.86ZM371.95 671.78H389.68V677.69H371.95ZM366.04 677.69H377.86V683.59H366.04ZM354.22 683.59H371.95V689.49H354.22ZM348.31 689.49H371.95V695.40H348.31ZM342.40 695.40H366.04V701.30H342.40Z" fill="#7ad151"/>
<rect x="277.40" y="512.40" width="189.10" height="188.90" fill="none" stroke="#000" stroke-opacity="0.7" stroke-width="0.9"/>
<line x1="280.35" y1="701.30" x2="280.35" y2="703.70" stroke="#000" stroke-opacity="0.6" stroke-width="0.8"/>
<text x="280.35" y="711.80" font-size="7.35" text-anchor="middle" style="font-family:'DejaVu Sans','Liberation Sans',sans-serif" fill="#1a1a1a" >0</text>
<line x1="309.90" y1="701.30" x2="309.90" y2="703.70" stroke="#000" stroke-opacity="0.6" stroke-width="0.8"/>
<text x="309.90" y="711.80" font-size="7.35" text-anchor="middle" style="font-family:'DejaVu Sans','Liberation Sans',sans-serif" fill="#1a1a1a" >5</text>
<line x1="339.45" y1="701.30" x2="339.45" y2="703.70" stroke="#000" stroke-opacity="0.6" stroke-width="0.8"/>
<text x="339.45" y="711.80" font-size="7.35" text-anchor="middle" style="font-family:'DejaVu Sans','Liberation Sans',sans-serif" fill="#1a1a1a" >10</text>
<line x1="369.00" y1="701.30" x2="369.00" y2="703.70" stroke="#000" stroke-opacity="0.6" stroke-width="0.8"/>
<text x="369.00" y="711.80" font-size="7.35" text-anchor="middle" style="font-family:'DejaVu Sans','Liberation Sans',sans-serif" fill="#1a1a1a" >15</text>
<line x1="398.54" y1="701.30" x2="398.54" y2="703.70" stroke="#000" stroke-opacity="0.6" stroke-width="0.8"/>
<text x="398.54" y="711.80" font-size="7.35" text-anchor="middle" style="font-family:'DejaVu Sans','Liberation Sans',sans-serif" fill="#1a1a1a" >20</text>
<line x1="428.09" y1="701.30" x2="428.09" y2="703.70" stroke="#000" stroke-opacity="0.6" stroke-width="0.8"/>
<text x="428.09" y="711.80" font-size="7.35" text-anchor="middle" style="font-family:'DejaVu Sans','Liberation Sans',sans-serif" fill="#1a1a1a" >25</text>
<line x1="457.64" y1="701.30" x2="457.64" y2="703.70" stroke="#000" stroke-opacity="0.6" stroke-width="0.8"/>
<text x="457.64" y="711.80" font-size="7.35" text-anchor="middle" style="font-family:'DejaVu Sans','Liberation Sans',sans-serif" fill="#1a1a1a" >30</text>
<line x1="275.00" y1="515.35" x2="277.40" y2="515.35" stroke="#000" stroke-opacity="0.6" stroke-width="0.8"/>
<text x="272.10" y="517.44" font-size="7.35" text-anchor="end" style="font-family:'DejaVu Sans','Liberation Sans',sans-serif" fill="#1a1a1a" >0</text>
<line x1="275.00" y1="544.87" x2="277.40" y2="544.87" stroke="#000" stroke-opacity="0.6" stroke-width="0.8"/>
<text x="272.10" y="546.96" font-size="7.35" text-anchor="end" style="font-family:'DejaVu Sans','Liberation Sans',sans-serif" fill="#1a1a1a" >5</text>
<line x1="275.00" y1="574.38" x2="277.40" y2="574.38" stroke="#000" stroke-opacity="0.6" stroke-width="0.8"/>
<text x="272.10" y="576.48" font-size="7.35" text-anchor="end" style="font-family:'DejaVu Sans','Liberation Sans',sans-serif" fill="#1a1a1a" >10</text>
<line x1="275.00" y1="603.90" x2="277.40" y2="603.90" stroke="#000" stroke-opacity="0.6" stroke-width="0.8"/>
<text x="272.10" y="605.99" font-size="7.35" text-anchor="end" style="font-family:'DejaVu Sans','Liberation Sans',sans-serif" fill="#1a1a1a" >15</text>
<line x1="275.00" y1="633.41" x2="277.40" y2="633.41" stroke="#000" stroke-opacity="0.6" stroke-width="0.8"/>
<text x="272.10" y="635.51" font-size="7.35" text-anchor="end" style="font-family:'DejaVu Sans','Liberation Sans',sans-serif" fill="#1a1a1a" >20</text>
<line x1="275.00" y1="662.93" x2="277.40" y2="662.93" stroke="#000" stroke-opacity="0.6" stroke-width="0.8"/>
<text x="272.10" y="665.02" font-size="7.35" text-anchor="end" style="font-family:'DejaVu Sans','Liberation Sans',sans-serif" fill="#1a1a1a" >25</text>
<line x1="275.00" y1="692.45" x2="277.40" y2="692.45" stroke="#000" stroke-opacity="0.6" stroke-width="0.8"/>
<text x="272.10" y="694.54" font-size="7.35" text-anchor="end" style="font-family:'DejaVu Sans','Liberation Sans',sans-serif" fill="#1a1a1a" >30</text>
<text x="371.95" y="508.50" font-size="11.9" text-anchor="middle" style="font-family:'DejaVu Sans','Liberation Sans',sans-serif" fill="#1a1a1a" >Ward's clusters</text>
<circle cx="369.00" cy="603.90" r="2.1" fill="#ff0000"/>
<path d="M398.54 625.21 L400.84 629.81 L396.24 629.81 Z" fill="#1f77b4"/>
<path d="M333.54 631.11 L335.84 635.71 L331.24 635.71 Z" fill="#ff7f0e"/>
<path d="M428.09 607.50 L430.39 612.10 L425.79 612.10 Z" fill="#2ca02c"/>
<path d="M369.00 560.28 L371.30 564.88 L366.70 564.88 Z" fill="#d62728"/>
<path d="M357.18 684.24 L359.48 688.84 L354.88 688.84 Z" fill="#9467bd"/>
<path d="M463.55 696.05 L465.85 700.65 L461.25 700.65 Z" fill="#8c564b"/>
<text x="398.54" y="627.51" font-size="13.7" text-anchor="start" style="font-family:'DejaVu Sans','Liberation Sans',sans-serif" fill="#000" >0</text>
<text x="333.54" y="633.41" font-size="13.7" text-anchor="start" style="font-family:'DejaVu Sans','Liberation Sans',sans-serif" fill="#000" >1</text>
<text x="428.09" y="609.80" font-size="13.7" text-anchor="start" style="font-family:'DejaVu Sans','Liberation Sans',sans-serif" fill="#000" >2</text>
<text x="369.00" y="562.58" font-size="13.7" text-anchor="start" style="font-family:'DejaVu Sans','Liberation Sans',sans-serif" fill="#000" >3</text>
<text x="357.18" y="686.54" font-size="13.7" text-anchor="start" style="font-family:'DejaVu Sans','Liberation Sans',sans-serif" fill="#000" >4</text>
<text x="463.55" y="698.35" font-size="13.7" text-anchor="start" style="font-family:'DejaVu Sans','Liberation Sans',sans-serif" fill="#000" >5</text>
<rect x="514.10" y="512.40" width="188.80" height="189.00" fill="#440154"/>
<path d="M514.10 512.40H691.10V518.31H514.10ZM514.10 518.31H691.10V524.21H514.10ZM514.10 524.21H620.30V530.12H514.10ZM626.20 524.21H685.20V530.12H626.20ZM514.10 530.12H614.40V536.02H514.10ZM626.20 530.12H679.30V536.02H626.20ZM514.10 536.02H614.40V541.93H514.10ZM626.20 536.02H673.40V541.93H626.20ZM514.10 541.93H614.40V547.84H514.10ZM626.20 541.93H667.50V547.84H626.20ZM514.10 547.84H614.40V553.74H514.10ZM632.10 547.84H655.70V553.74H632.10ZM514.10 553.74H614.40V559.65H514.10ZM514.10 559.65H608.50V565.56H514.10ZM514.10 565.56H602.60V571.46H514.10ZM514.10 571.46H590.80V577.37H514.10ZM514.10 577.37H584.90V583.27H514.10ZM514.10 583.27H579.00V589.18H514.10ZM514.10 589.18H573.10V595.09H514.10ZM514.10 595.09H573.10V600.99H514.10ZM514.10 600.99H567.20V606.90H514.10ZM514.10 606.90H555.40V612.81H514.10ZM514.10 612.81H549.50V618.71H514.10ZM514.10 618.71H549.50V624.62H514.10ZM514.10 624.62H543.60V630.52H514.10ZM514.10 630.52H537.70V636.43H514.10ZM514.10 636.43H537.70V642.34H514.10ZM514.10 642.34H531.80V648.24H514.10ZM514.10 648.24H525.90V654.15H514.10ZM514.10 654.15H520.00V660.06H514.10Z" fill="#21918c"/>
<path d="M614.40 530.12H620.30V536.02H614.40ZM614.40 536.02H620.30V541.93H614.40ZM614.40 541.93H620.30V547.84H614.40ZM614.40 547.84H620.30V553.74H614.40ZM614.40 553.74H626.20V559.65H614.40ZM608.50 559.65H643.90V565.56H608.50ZM602.60 565.56H643.90V571.46H602.60ZM590.80 571.46H638.00V577.37H590.80ZM584.90 577.37H596.70V583.27H584.90ZM579.00 583.27H590.80V589.18H579.00ZM573.10 589.18H584.90V595.09H573.10ZM573.10 595.09H584.90V600.99H573.10ZM567.20 600.99H579.00V606.90H567.20ZM555.40 606.90H573.10V612.81H555.40ZM549.50 612.81H567.20V618.71H549.50ZM549.50 618.71H561.30V624.62H549.50ZM543.60 624.62H555.40V630.52H543.60ZM537.70 630.52H549.50V636.43H537.70ZM537.70 636.43H549.50V642.34H537.70ZM531.80 642.34H543.60V648.24H531.80ZM525.90 648.24H537.70V654.15H525.90ZM520.00 654.15H531.80V660.06H520.00ZM514.10 660.06H525.90V665.96H514.10ZM514.10 665.96H520.00V671.87H514.10ZM514.10 671.87H520.00V677.77H514.10Z" fill="#fde725"/>
<path d="M691.10 530.12H702.90V536.02H691.10ZM685.20 536.02H702.90V541.93H685.20ZM679.30 541.93H697.00V547.84H679.30ZM673.40 547.84H691.10V553.74H673.40ZM667.50 553.74H691.10V559.65H667.50ZM667.50 559.65H685.20V565.56H667.50ZM667.50 565.56H685.20V571.46H667.50ZM667.50 571.46H685.20V577.37H667.50ZM667.50 577.37H679.30V583.27H667.50ZM667.50 583.27H679.30V589.18H667.50ZM667.50 589.18H679.30V595.09H667.50ZM661.60 595.09H673.40V600.99H661.60ZM655.70 600.99H673.40V606.90H655.70ZM655.70 606.90H667.50V612.81H655.70ZM649.80 612.81H661.60V618.71H649.80ZM643.90 618.71H661.60V624.62H643.90ZM638.00 624.62H649.80V630.52H638.00ZM638.00 630.52H643.90V636.43H638.00Z" fill="#31688e"/>
<path d="M697.00 541.93H702.90V547.84H697.00ZM691.10 547.84H702.90V553.74H691.10ZM691.10 553.74H702.90V559.65H691.10ZM685.20 559.65H702.90V565.56H685.20ZM685.20 565.56H702.90V571.46H685.20ZM685.20 571.46H702.90V577.37H685.20ZM679.30 577.37H702.90V583.27H679.30ZM679.30 583.27H702.90V589.18H679.30ZM679.30 589.18H702.90V595.09H679.30ZM673.40 595.09H702.90V600.99H673.40ZM673.40 600.99H702.90V606.90H673.40ZM667.50 606.90H702.90V612.81H667.50ZM661.60 612.81H702.90V618.71H661.60ZM661.60 618.71H702.90V624.62H661.60ZM649.80 624.62H702.90V630.52H649.80ZM643.90 630.52H702.90V636.43H643.90ZM638.00 636.43H702.90V642.34H638.00ZM638.00 642.34H702.90V648.24H638.00ZM638.00 648.24H702.90V654.15H638.00ZM632.10 654.15H702.90V660.06H632.10ZM632.10 660.06H702.90V665.96H632.10ZM626.20 665.96H702.90V671.87H626.20ZM626.20 671.87H702.90V677.77H626.20ZM614.40 677.77H702.90V683.68H614.40ZM608.50 683.68H702.90V689.59H608.50ZM608.50 689.59H702.90V695.49H608.50ZM602.60 695.49H702.90V701.40H602.60Z" fill="#90d743"/>
<path d="M584.90 589.18H649.80V595.09H584.90ZM584.90 595.09H649.80V600.99H584.90ZM579.00 600.99H649.80V606.90H579.00ZM573.10 606.90H643.90V612.81H573.10ZM567.20 612.81H638.00V618.71H567.20ZM561.30 618.71H632.10V624.62H561.30ZM555.40 624.62H632.10V630.52H555.40ZM549.50 630.52H626.20V636.43H549.50ZM549.50 636.43H620.30V642.34H549.50ZM543.60 642.34H614.40V648.24H543.60ZM537.70 648.24H614.40V654.15H537.70ZM531.80 654.15H614.40V660.06H531.80ZM525.90 660.06H608.50V665.96H525.90ZM520.00 665.96H602.60V671.87H520.00ZM520.00 671.87H579.00V677.77H520.00ZM514.10 677.77H573.10V683.68H514.10ZM514.10 683.68H567.20V689.59H514.10ZM514.10 689.59H567.20V695.49H514.10ZM514.10 695.49H561.30V701.40H514.10Z" fill="#443983"/>
<path d="M632.10 636.43H638.00V642.34H632.10ZM626.20 642.34H638.00V648.24H626.20ZM620.30 648.24H638.00V654.15H620.30ZM620.30 654.15H632.10V660.06H620.30ZM620.30 660.06H632.10V665.96H620.30ZM614.40 665.96H626.20V671.87H614.40ZM608.50 671.87H626.20V677.77H608.50ZM602.60 677.77H614.40V683.68H602.60ZM590.80 683.68H608.50V689.59H590.80ZM584.90 689.59H608.50V695.49H584.90ZM579.00 695.49H602.60V701.40H579.00Z" fill="#35b779"/>
<rect x="514.10" y="512.40" width="188.80" height="189.00" fill="none" stroke="#000" stroke-opacity="0.7" stroke-width="0.9"/>
<line x1="517.05" y1="701.40" x2="517.05" y2="703.80" stroke="#000" stroke-opacity="0.6" stroke-width="0.8"/>
<text x="517.05" y="711.90" font-size="7.35" text-anchor="middle" style="font-family:'DejaVu Sans','Liberation Sans',sans-serif" fill="#1a1a1a" >0</text>
<line x1="546.55" y1="701.40" x2="546.55" y2="703.80" stroke="#000" stroke-opacity="0.6" stroke-width="0.8"/>
<text x="546.55" y="711.90" font-size="7.35" text-anchor="middle" style="font-family:'DejaVu Sans','Liberation Sans',sans-serif" fill="#1a1a1a" >5</text>
<line x1="576.05" y1="701.40" x2="576.05" y2="703.80" stroke="#000" stroke-opacity="0.6" stroke-width="0.8"/>
<text x="576.05" y="711.90" font-size="7.35" text-anchor="middle" style="font-family:'DejaVu Sans','Liberation Sans',sans-serif" fill="#1a1a1a" >10</text>
<line x1="605.55" y1="701.40" x2="605.55" y2="703.80" stroke="#000" stroke-opacity="0.6" stroke-width="0.8"/>
<text x="605.55" y="711.90" font-size="7.35" text-anchor="middle" style="font-family:'DejaVu Sans','Liberation Sans',sans-serif" fill="#1a1a1a" >15</text>
<line x1="635.05" y1="701.40" x2="635.05" y2="703.80" stroke="#000" stroke-opacity="0.6" stroke-width="0.8"/>
<text x="635.05" y="711.90" font-size="7.35" text-anchor="middle" style="font-family:'DejaVu Sans','Liberation Sans',sans-serif" fill="#1a1a1a" >20</text>
<line x1="664.55" y1="701.40" x2="664.55" y2="703.80" stroke="#000" stroke-opacity="0.6" stroke-width="0.8"/>
<text x="664.55" y="711.90" font-size="7.35" text-anchor="middle" style="font-family:'DejaVu Sans','Liberation Sans',sans-serif" fill="#1a1a1a" >25</text>
<line x1="694.05" y1="701.40" x2="694.05" y2="703.80" stroke="#000" stroke-opacity="0.6" stroke-width="0.8"/>
<text x="694.05" y="711.90" font-size="7.35" text-anchor="middle" style="font-family:'DejaVu Sans','Liberation Sans',sans-serif" fill="#1a1a1a" >30</text>
<line x1="511.70" y1="515.35" x2="514.10" y2="515.35" stroke="#000" stroke-opacity="0.6" stroke-width="0.8"/>
<text x="508.80" y="517.45" font-size="7.35" text-anchor="end" style="font-family:'DejaVu Sans','Liberation Sans',sans-serif" fill="#1a1a1a" >0</text>
<line x1="511.70" y1="544.88" x2="514.10" y2="544.88" stroke="#000" stroke-opacity="0.6" stroke-width="0.8"/>
<text x="508.80" y="546.98" font-size="7.35" text-anchor="end" style="font-family:'DejaVu Sans','Liberation Sans',sans-serif" fill="#1a1a1a" >5</text>
<line x1="511.70" y1="574.42" x2="514.10" y2="574.42" stroke="#000" stroke-opacity="0.6" stroke-width="0.8"/>
<text x="508.80" y="576.51" font-size="7.35" text-anchor="end" style="font-family:'DejaVu Sans','Liberation Sans',sans-serif" fill="#1a1a1a" >10</text>
<line x1="511.70" y1="603.95" x2="514.10" y2="603.95" stroke="#000" stroke-opacity="0.6" stroke-width="0.8"/>
<text x="508.80" y="606.04" font-size="7.35" text-anchor="end" style="font-family:'DejaVu Sans','Liberation Sans',sans-serif" fill="#1a1a1a" >15</text>
<line x1="511.70" y1="633.48" x2="514.10" y2="633.48" stroke="#000" stroke-opacity="0.6" stroke-width="0.8"/>
<text x="508.80" y="635.57" font-size="7.35" text-anchor="end" style="font-family:'DejaVu Sans','Liberation Sans',sans-serif" fill="#1a1a1a" >20</text>
<line x1="511.70" y1="663.01" x2="514.10" y2="663.01" stroke="#000" stroke-opacity="0.6" stroke-width="0.8"/>
<text x="508.80" y="665.10" font-size="7.35" text-anchor="end" style="font-family:'DejaVu Sans','Liberation Sans',sans-serif" fill="#1a1a1a" >25</text>
<line x1="511.70" y1="692.54" x2="514.10" y2="692.54" stroke="#000" stroke-opacity="0.6" stroke-width="0.8"/>
<text x="508.80" y="694.63" font-size="7.35" text-anchor="end" style="font-family:'DejaVu Sans','Liberation Sans',sans-serif" fill="#1a1a1a" >30</text>
<text x="608.50" y="508.50" font-size="11.9" text-anchor="middle" style="font-family:'DejaVu Sans','Liberation Sans',sans-serif" fill="#1a1a1a" >Ward's clusters</text>
<circle cx="605.55" cy="603.95" r="2.1" fill="#ff0000"/>
<path d="M640.95 619.37 L643.25 623.97 L638.65 623.97 Z" fill="#1f77b4"/>
<path d="M540.65 690.24 L542.95 694.84 L538.35 694.84 Z" fill="#ff7f0e"/>
<path d="M664.55 595.74 L666.85 600.34 L662.25 600.34 Z" fill="#2ca02c"/>
<path d="M664.55 513.05 L666.85 517.65 L662.25 517.65 Z" fill="#d62728"/>
<path d="M599.65 696.15 L601.95 700.75 L597.35 700.75 Z" fill="#9467bd"/>
<path d="M699.95 672.52 L702.25 677.12 L697.65 677.12 Z" fill="#8c564b"/>
<path d="M640.95 566.21 L643.25 570.81 L638.65 570.81 Z" fill="#e377c2"/>
<text x="640.95" y="621.67" font-size="13.7" text-anchor="start" style="font-family:'DejaVu Sans','Liberation Sans',sans-serif" fill="#000" >0</text>
<text x="540.65" y="692.54" font-size="13.7" text-anchor="start" style="font-family:'DejaVu Sans','Liberation Sans',sans-serif" fill="#000" >1</text>
<text x="664.55" y="598.04" font-size="13.7" text-anchor="start" style="font-family:'DejaVu Sans','Liberation Sans',sans-serif" fill="#000" >2</text>
<text x="664.55" y="515.35" font-size="13.7" text-anchor="start" style="font-family:'DejaVu Sans','Liberation Sans',sans-serif" fill="#000" >3</text>
<text x="599.65" y="698.45" font-size="13.7" text-anchor="start" style="font-family:'DejaVu Sans','Liberation Sans',sans-serif" fill="#000" >4</text>
<text x="699.95" y="674.82" font-size="13.7" text-anchor="start" style="font-family:'DejaVu Sans','Liberation Sans',sans-serif" fill="#000" >5</text>
<text x="640.95" y="568.51" font-size="13.7" text-anchor="start" style="font-family:'DejaVu Sans','Liberation Sans',sans-serif" fill="#000" >6</text>
<rect x="277.20" y="238.80" width="189.20" height="195.50" fill="#fff"/>
<line x1="293.60" y1="255.90" x2="416.00" y2="394.00" stroke="#000" stroke-width="2.1"/>
<line x1="293.60" y1="255.90" x2="449.70" y2="417.20" stroke="#000" stroke-width="2.1"/>
<g transform="translate(354.80 324.95) rotate(48.45)">
<rect x="-11.40" y="-3.95" width="22.80" height="7.90" fill="#fff"/>
</g>
<g transform="translate(371.65 336.55) rotate(45.94)">
<rect x="-9.75" y="-3.95" width="19.50" height="7.90" fill="#fff"/>
</g>
<g transform="translate(354.80 324.95) rotate(48.45)">
<text x="0.00" y="1.98" font-size="5.5" text-anchor="middle" style="font-family:'DejaVu Sans','Liberation Sans',sans-serif" fill="#000" >295.68</text>
</g>
<g transform="translate(371.65 336.55) rotate(45.94)">
<text x="0.00" y="1.98" font-size="5.5" text-anchor="middle" style="font-family:'DejaVu Sans','Liberation Sans',sans-serif" fill="#000" >345.3</text>
</g>
<circle cx="293.60" cy="255.90" r="9.0" fill="#1f77b4"/>
<circle cx="416.00" cy="394.00" r="9.0" fill="#1f77b4"/>
<circle cx="449.70" cy="417.20" r="9.0" fill="#1f77b4"/>
<text x="293.60" y="259.40" font-size="13.7" text-anchor="middle" style="font-family:'DejaVu Sans','Liberation Sans',sans-serif" fill="#000" >0</text>
<text x="416.00" y="397.50" font-size="13.7" text-anchor="middle" style="font-family:'DejaVu Sans','Liberation Sans',sans-serif" fill="#000" >1</text>
<text x="449.70" y="420.70" font-size="13.7" text-anchor="middle" style="font-family:'DejaVu Sans','Liberation Sans',sans-serif" fill="#000" >2</text>
<rect x="277.20" y="238.80" width="189.20" height="195.50" fill="none" stroke="#000" stroke-opacity="0.7" stroke-width="0.9"/>
<line x1="305.00" y1="434.30" x2="305.00" y2="436.70" stroke="#000" stroke-opacity="0.6" stroke-width="0.8"/>
<text x="305.00" y="444.80" font-size="7.35" text-anchor="middle" style="font-family:'DejaVu Sans','Liberation Sans',sans-serif" fill="#1a1a1a" >2.5</text>
<line x1="338.60" y1="434.30" x2="338.60" y2="436.70" stroke="#000" stroke-opacity="0.6" stroke-width="0.8"/>
<text x="338.60" y="444.80" font-size="7.35" text-anchor="middle" style="font-family:'DejaVu Sans','Liberation Sans',sans-serif" fill="#1a1a1a" >5.0</text>
<line x1="372.20" y1="434.30" x2="372.20" y2="436.70" stroke="#000" stroke-opacity="0.6" stroke-width="0.8"/>
<text x="372.20" y="444.80" font-size="7.35" text-anchor="middle" style="font-family:'DejaVu Sans','Liberation Sans',sans-serif" fill="#1a1a1a" >7.5</text>
<line x1="405.80" y1="434.30" x2="405.80" y2="436.70" stroke="#000" stroke-opacity="0.6" stroke-width="0.8"/>
<text x="405.80" y="444.80" font-size="7.35" text-anchor="middle" style="font-family:'DejaVu Sans','Liberation Sans',sans-serif" fill="#1a1a1a" >10.0</text>
<line x1="439.40" y1="434.30" x2="439.40" y2="436.70" stroke="#000" stroke-opacity="0.6" stroke-width="0.8"/>
<text x="439.40" y="444.80" font-size="7.35" text-anchor="middle" style="font-family:'DejaVu Sans','Liberation Sans',sans-serif" fill="#1a1a1a" >12.5</text>
<line x1="274.80" y1="240.90" x2="277.20" y2="240.90" stroke="#000" stroke-opacity="0.6" stroke-width="0.8"/>
<text x="271.90" y="242.99" font-size="7.35" text-anchor="end" style="font-family:'DejaVu Sans','Liberation Sans',sans-serif" fill="#1a1a1a" >350</text>
<line x1="274.80" y1="264.24" x2="277.20" y2="264.24" stroke="#000" stroke-opacity="0.6" stroke-width="0.8"/>
<text x="271.90" y="266.33" font-size="7.35" text-anchor="end" style="font-family:'DejaVu Sans','Liberation Sans',sans-serif" fill="#1a1a1a" >300</text>
<line x1="274.80" y1="287.57" x2="277.20" y2="287.57" stroke="#000" stroke-opacity="0.6" stroke-width="0.8"/>
<text x="271.90" y="289.67" font-size="7.35" text-anchor="end" style="font-family:'DejaVu Sans','Liberation Sans',sans-serif" fill="#1a1a1a" >250</text>
<line x1="274.80" y1="310.91" x2="277.20" y2="310.91" stroke="#000" stroke-opacity="0.6" stroke-width="0.8"/>
<text x="271.90" y="313.01" font-size="7.35" text-anchor="end" style="font-family:'DejaVu Sans','Liberation Sans',sans-serif" fill="#1a1a1a" >200</text>
<line x1="274.80" y1="334.25" x2="277.20" y2="334.25" stroke="#000" stroke-opacity="0.6" stroke-width="0.8"/>
<text x="271.90" y="336.34" font-size="7.35" text-anchor="end" style="font-family:'DejaVu Sans','Liberation Sans',sans-serif" fill="#1a1a1a" >150</text>
<line x1="274.80" y1="357.59" x2="277.20" y2="357.59" stroke="#000" stroke-opacity="0.6" stroke-width="0.8"/>
<text x="271.90" y="359.68" font-size="7.35" text-anchor="end" style="font-family:'DejaVu Sans','Liberation Sans',sans-serif" fill="#1a1a1a" >100</text>
<line x1="274.80" y1="380.93" x2="277.20" y2="380.93" stroke="#000" stroke-opacity="0.6" stroke-width="0.8"/>
<text x="271.90" y="383.02" font-size="7.35" text-anchor="end" style="font-family:'DejaVu Sans','Liberation Sans',sans-serif" fill="#1a1a1a" >50</text>
<line x1="274.80" y1="404.26" x2="277.20" y2="404.26" stroke="#000" stroke-opacity="0.6" stroke-width="0.8"/>
<text x="271.90" y="406.36" font-size="7.35" text-anchor="end" style="font-family:'DejaVu Sans','Liberation Sans',sans-serif" fill="#1a1a1a" >0</text>
<line x1="274.80" y1="427.60" x2="277.20" y2="427.60" stroke="#000" stroke-opacity="0.6" stroke-width="0.8"/>
<text x="271.90" y="429.69" font-size="7.35" text-anchor="end" style="font-family:'DejaVu Sans','Liberation Sans',sans-serif" fill="#1a1a1a" >−50</text>
<text x="371.80" y="235.00" font-size="11.9" text-anchor="middle" style="font-family:'DejaVu Sans','Liberation Sans',sans-serif" fill="#1a1a1a" >Clusters' network</text>
<text x="371.80" y="456.10" font-size="9.8" text-anchor="middle" style="font-family:'DejaVu Sans','Liberation Sans',sans-serif" fill="#1a1a1a" >Distance to centerline (pixel)</text>
<text x="0" y="0" font-size="9.8" text-anchor="middle" style="font-family:'DejaVu Sans','Liberation Sans',sans-serif" fill="#1a1a1a" transform="translate(250.90 336.55) rotate(-90)">Mean bright value (HU)</text>
<text x="354.80" y="476.50" font-size="18.3" text-anchor="middle" style="font-family:'Liberation Sans',sans-serif" fill="#111" >(b)</text>
<rect x="514.60" y="238.80" width="188.90" height="195.50" fill="#fff"/>
<line x1="530.40" y1="302.50" x2="600.80" y2="255.70" stroke="#000" stroke-width="2.1"/>
<line x1="530.40" y1="302.50" x2="627.00" y2="354.50" stroke="#000" stroke-width="2.1"/>
<line x1="530.40" y1="302.50" x2="686.70" y2="417.20" stroke="#000" stroke-width="2.1"/>
<g transform="translate(565.60 279.10) rotate(-33.61)">
<rect x="-11.40" y="-3.95" width="22.80" height="7.90" fill="#fff"/>
</g>
<g transform="translate(578.70 328.50) rotate(28.29)">
<rect x="-11.40" y="-3.95" width="22.80" height="7.90" fill="#fff"/>
</g>
<g transform="translate(608.55 359.85) rotate(36.27)">
<rect x="-9.75" y="-3.95" width="19.50" height="7.90" fill="#fff"/>
</g>
<g transform="translate(565.60 279.10) rotate(-33.61)">
<text x="0.00" y="1.98" font-size="5.5" text-anchor="middle" style="font-family:'DejaVu Sans','Liberation Sans',sans-serif" fill="#000" >107.79</text>
</g>
<g transform="translate(578.70 328.50) rotate(28.29)">
<text x="0.00" y="1.98" font-size="5.5" text-anchor="middle" style="font-family:'DejaVu Sans','Liberation Sans',sans-serif" fill="#000" >120.18</text>
</g>
<g transform="translate(608.55 359.85) rotate(36.27)">
<text x="0.00" y="1.98" font-size="5.5" text-anchor="middle" style="font-family:'DejaVu Sans','Liberation Sans',sans-serif" fill="#000" >263.3</text>
</g>
<circle cx="600.80" cy="255.70" r="9.0" fill="#1f77b4"/>
<circle cx="530.40" cy="302.50" r="9.0" fill="#1f77b4"/>
<circle cx="627.00" cy="354.50" r="9.0" fill="#1f77b4"/>
<circle cx="686.70" cy="417.20" r="9.0" fill="#1f77b4"/>
<text x="600.80" y="259.20" font-size="13.7" text-anchor="middle" style="font-family:'DejaVu Sans','Liberation Sans',sans-serif" fill="#000" >1</text>
<text x="530.40" y="306.00" font-size="13.7" text-anchor="middle" style="font-family:'DejaVu Sans','Liberation Sans',sans-serif" fill="#000" >0</text>
<text x="627.00" y="358.00" font-size="13.7" text-anchor="middle" style="font-family:'DejaVu Sans','Liberation Sans',sans-serif" fill="#000" >3</text>
<text x="686.70" y="420.70" font-size="13.7" text-anchor="middle" style="font-family:'DejaVu Sans','Liberation Sans',sans-serif" fill="#000" >2</text>
<rect x="514.60" y="238.80" width="188.90" height="195.50" fill="none" stroke="#000" stroke-opacity="0.7" stroke-width="0.9"/>
<line x1="538.50" y1="434.30" x2="538.50" y2="436.70" stroke="#000" stroke-opacity="0.6" stroke-width="0.8"/>
<text x="538.50" y="444.80" font-size="7.35" text-anchor="middle" style="font-family:'DejaVu Sans','Liberation Sans',sans-serif" fill="#1a1a1a" >4</text>
<line x1="570.46" y1="434.30" x2="570.46" y2="436.70" stroke="#000" stroke-opacity="0.6" stroke-width="0.8"/>
<text x="570.46" y="444.80" font-size="7.35" text-anchor="middle" style="font-family:'DejaVu Sans','Liberation Sans',sans-serif" fill="#1a1a1a" >6</text>
<line x1="602.42" y1="434.30" x2="602.42" y2="436.70" stroke="#000" stroke-opacity="0.6" stroke-width="0.8"/>
<text x="602.42" y="444.80" font-size="7.35" text-anchor="middle" style="font-family:'DejaVu Sans','Liberation Sans',sans-serif" fill="#1a1a1a" >8</text>
<line x1="634.38" y1="434.30" x2="634.38" y2="436.70" stroke="#000" stroke-opacity="0.6" stroke-width="0.8"/>
<text x="634.38" y="444.80" font-size="7.35" text-anchor="middle" style="font-family:'DejaVu Sans','Liberation Sans',sans-serif" fill="#1a1a1a" >10</text>
<line x1="666.34" y1="434.30" x2="666.34" y2="436.70" stroke="#000" stroke-opacity="0.6" stroke-width="0.8"/>
<text x="666.34" y="444.80" font-size="7.35" text-anchor="middle" style="font-family:'DejaVu Sans','Liberation Sans',sans-serif" fill="#1a1a1a" >12</text>
<line x1="698.30" y1="434.30" x2="698.30" y2="436.70" stroke="#000" stroke-opacity="0.6" stroke-width="0.8"/>
<text x="698.30" y="444.80" font-size="7.35" text-anchor="middle" style="font-family:'DejaVu Sans','Liberation Sans',sans-serif" fill="#1a1a1a" >14</text>
<line x1="512.20" y1="252.50" x2="514.60" y2="252.50" stroke="#000" stroke-opacity="0.6" stroke-width="0.8"/>
<text x="509.30" y="254.59" font-size="7.35" text-anchor="end" style="font-family:'DejaVu Sans','Liberation Sans',sans-serif" fill="#1a1a1a" >350</text>
<line x1="512.20" y1="274.26" x2="514.60" y2="274.26" stroke="#000" stroke-opacity="0.6" stroke-width="0.8"/>
<text x="509.30" y="276.36" font-size="7.35" text-anchor="end" style="font-family:'DejaVu Sans','Liberation Sans',sans-serif" fill="#1a1a1a" >300</text>
<line x1="512.20" y1="296.02" x2="514.60" y2="296.02" stroke="#000" stroke-opacity="0.6" stroke-width="0.8"/>
<text x="509.30" y="298.12" font-size="7.35" text-anchor="end" style="font-family:'DejaVu Sans','Liberation Sans',sans-serif" fill="#1a1a1a" >250</text>
<line x1="512.20" y1="317.79" x2="514.60" y2="317.79" stroke="#000" stroke-opacity="0.6" stroke-width="0.8"/>
<text x="509.30" y="319.88" font-size="7.35" text-anchor="end" style="font-family:'DejaVu Sans','Liberation Sans',sans-serif" fill="#1a1a1a" >200</text>
<line x1="512.20" y1="339.55" x2="514.60" y2="339.55" stroke="#000" stroke-opacity="0.6" stroke-width="0.8"/>
<text x="509.30" y="341.64" font-size="7.35" text-anchor="end" style="font-family:'DejaVu Sans','Liberation Sans',sans-serif" fill="#1a1a1a" >150</text>
<line x1="512.20" y1="361.31" x2="514.60" y2="361.31" stroke="#000" stroke-opacity="0.6" stroke-width="0.8"/>
<text x="509.30" y="363.41" font-size="7.35" text-anchor="end" style="font-family:'DejaVu Sans','Liberation Sans',sans-serif" fill="#1a1a1a" >100</text>
<line x1="512.20" y1="383.08" x2="514.60" y2="383.08" stroke="#000" stroke-opacity="0.6" stroke-width="0.8"/>
<text x="509.30" y="385.17" font-size="7.35" text-anchor="end" style="font-family:'DejaVu Sans','Liberation Sans',sans-serif" fill="#1a1a1a" >50</text>
<line x1="512.20" y1="404.84" x2="514.60" y2="404.84" stroke="#000" stroke-opacity="0.6" stroke-width="0.8"/>
<text x="509.30" y="406.93" font-size="7.35" text-anchor="end" style="font-family:'DejaVu Sans','Liberation Sans',sans-serif" fill="#1a1a1a" >0</text>
<line x1="512.20" y1="426.60" x2="514.60" y2="426.60" stroke="#000" stroke-opacity="0.6" stroke-width="0.8"/>
<text x="509.30" y="428.69" font-size="7.35" text-anchor="end" style="font-family:'DejaVu Sans','Liberation Sans',sans-serif" fill="#1a1a1a" >−50</text>
<text x="609.05" y="235.00" font-size="11.9" text-anchor="middle" style="font-family:'DejaVu Sans','Liberation Sans',sans-serif" fill="#1a1a1a" >Clusters' network</text>
<text x="609.05" y="456.10" font-size="9.8" text-anchor="middle" style="font-family:'DejaVu Sans','Liberation Sans',sans-serif" fill="#1a1a1a" >Distance to centerline (pixel)</text>
<text x="0" y="0" font-size="9.8" text-anchor="middle" style="font-family:'DejaVu Sans','Liberation Sans',sans-serif" fill="#1a1a1a" transform="translate(487.90 336.55) rotate(-90)">Mean bright value (HU)</text>
<text x="591.40" y="476.50" font-size="18.3" text-anchor="middle" style="font-family:'Liberation Sans',sans-serif" fill="#111" >(c)</text>
<rect x="40.80" y="736.40" width="189.10" height="195.30" fill="#fff"/>
<line x1="56.90" y1="795.60" x2="121.20" y2="753.30" stroke="#000" stroke-width="2.1"/>
<line x1="56.90" y1="795.60" x2="189.20" y2="833.20" stroke="#000" stroke-width="2.1"/>
<line x1="56.90" y1="795.60" x2="149.00" y2="851.80" stroke="#000" stroke-width="2.1"/>
<line x1="189.20" y1="833.20" x2="212.60" y2="914.50" stroke="#000" stroke-width="2.1"/>
<g transform="translate(89.05 774.45) rotate(-33.34)">
<rect x="-9.75" y="-3.95" width="19.50" height="7.90" fill="#fff"/>
</g>
<g transform="translate(123.05 814.40) rotate(15.87)">
<rect x="-9.75" y="-3.95" width="19.50" height="7.90" fill="#fff"/>
</g>
<g transform="translate(102.95 823.70) rotate(31.39)">
<rect x="-11.40" y="-3.95" width="22.80" height="7.90" fill="#fff"/>
</g>
<g transform="translate(200.90 873.85) rotate(73.94)">
<rect x="-11.40" y="-3.95" width="22.80" height="7.90" fill="#fff"/>
</g>
<g transform="translate(89.05 774.45) rotate(-33.34)">
<text x="0.00" y="1.98" font-size="5.5" text-anchor="middle" style="font-family:'DejaVu Sans','Liberation Sans',sans-serif" fill="#000" >87.92</text>
</g>
<g transform="translate(123.05 814.40) rotate(15.87)">
<text x="0.00" y="1.98" font-size="5.5" text-anchor="middle" style="font-family:'DejaVu Sans','Liberation Sans',sans-serif" fill="#000" >86.91</text>
</g>
<g transform="translate(102.95 823.70) rotate(31.39)">
<text x="0.00" y="1.98" font-size="5.5" text-anchor="middle" style="font-family:'DejaVu Sans','Liberation Sans',sans-serif" fill="#000" >129.99</text>
</g>
<g transform="translate(200.90 873.85) rotate(73.94)">
<text x="0.00" y="1.98" font-size="5.5" text-anchor="middle" style="font-family:'DejaVu Sans','Liberation Sans',sans-serif" fill="#000" >186.41</text>
</g>
<circle cx="121.20" cy="753.30" r="9.0" fill="#1f77b4"/>
<circle cx="56.90" cy="795.60" r="9.0" fill="#1f77b4"/>
<circle cx="189.20" cy="833.20" r="9.0" fill="#1f77b4"/>
<circle cx="149.00" cy="851.80" r="9.0" fill="#1f77b4"/>
<circle cx="212.60" cy="914.50" r="9.0" fill="#1f77b4"/>
<text x="121.20" y="756.80" font-size="13.7" text-anchor="middle" style="font-family:'DejaVu Sans','Liberation Sans',sans-serif" fill="#000" >1</text>
<text x="56.90" y="799.10" font-size="13.7" text-anchor="middle" style="font-family:'DejaVu Sans','Liberation Sans',sans-serif" fill="#000" >0</text>
<text x="189.20" y="836.70" font-size="13.7" text-anchor="middle" style="font-family:'DejaVu Sans','Liberation Sans',sans-serif" fill="#000" >4</text>
<text x="149.00" y="855.30" font-size="13.7" text-anchor="middle" style="font-family:'DejaVu Sans','Liberation Sans',sans-serif" fill="#000" >3</text>
<text x="212.60" y="918.00" font-size="13.7" text-anchor="middle" style="font-family:'DejaVu Sans','Liberation Sans',sans-serif" fill="#000" >2</text>
<rect x="40.80" y="736.40" width="189.10" height="195.30" fill="none" stroke="#000" stroke-opacity="0.7" stroke-width="0.9"/>
<line x1="54.80" y1="931.70" x2="54.80" y2="934.10" stroke="#000" stroke-opacity="0.6" stroke-width="0.8"/>
<text x="54.80" y="942.20" font-size="7.35" text-anchor="middle" style="font-family:'DejaVu Sans','Liberation Sans',sans-serif" fill="#1a1a1a" >4</text>
<line x1="88.66" y1="931.70" x2="88.66" y2="934.10" stroke="#000" stroke-opacity="0.6" stroke-width="0.8"/>
<text x="88.66" y="942.20" font-size="7.35" text-anchor="middle" style="font-family:'DejaVu Sans','Liberation Sans',sans-serif" fill="#1a1a1a" >6</text>
<line x1="122.52" y1="931.70" x2="122.52" y2="934.10" stroke="#000" stroke-opacity="0.6" stroke-width="0.8"/>
<text x="122.52" y="942.20" font-size="7.35" text-anchor="middle" style="font-family:'DejaVu Sans','Liberation Sans',sans-serif" fill="#1a1a1a" >8</text>
<line x1="156.38" y1="931.70" x2="156.38" y2="934.10" stroke="#000" stroke-opacity="0.6" stroke-width="0.8"/>
<text x="156.38" y="942.20" font-size="7.35" text-anchor="middle" style="font-family:'DejaVu Sans','Liberation Sans',sans-serif" fill="#1a1a1a" >10</text>
<line x1="190.24" y1="931.70" x2="190.24" y2="934.10" stroke="#000" stroke-opacity="0.6" stroke-width="0.8"/>
<text x="190.24" y="942.20" font-size="7.35" text-anchor="middle" style="font-family:'DejaVu Sans','Liberation Sans',sans-serif" fill="#1a1a1a" >12</text>
<line x1="224.10" y1="931.70" x2="224.10" y2="934.10" stroke="#000" stroke-opacity="0.6" stroke-width="0.8"/>
<text x="224.10" y="942.20" font-size="7.35" text-anchor="middle" style="font-family:'DejaVu Sans','Liberation Sans',sans-serif" fill="#1a1a1a" >14</text>
<line x1="38.40" y1="750.30" x2="40.80" y2="750.30" stroke="#000" stroke-opacity="0.6" stroke-width="0.8"/>
<text x="35.50" y="752.39" font-size="7.35" text-anchor="end" style="font-family:'DejaVu Sans','Liberation Sans',sans-serif" fill="#1a1a1a" >350</text>
<line x1="38.40" y1="772.00" x2="40.80" y2="772.00" stroke="#000" stroke-opacity="0.6" stroke-width="0.8"/>
<text x="35.50" y="774.09" font-size="7.35" text-anchor="end" style="font-family:'DejaVu Sans','Liberation Sans',sans-serif" fill="#1a1a1a" >300</text>
<line x1="38.40" y1="793.70" x2="40.80" y2="793.70" stroke="#000" stroke-opacity="0.6" stroke-width="0.8"/>
<text x="35.50" y="795.79" font-size="7.35" text-anchor="end" style="font-family:'DejaVu Sans','Liberation Sans',sans-serif" fill="#1a1a1a" >250</text>
<line x1="38.40" y1="815.40" x2="40.80" y2="815.40" stroke="#000" stroke-opacity="0.6" stroke-width="0.8"/>
<text x="35.50" y="817.49" font-size="7.35" text-anchor="end" style="font-family:'DejaVu Sans','Liberation Sans',sans-serif" fill="#1a1a1a" >200</text>
<line x1="38.40" y1="837.10" x2="40.80" y2="837.10" stroke="#000" stroke-opacity="0.6" stroke-width="0.8"/>
<text x="35.50" y="839.19" font-size="7.35" text-anchor="end" style="font-family:'DejaVu Sans','Liberation Sans',sans-serif" fill="#1a1a1a" >150</text>
<line x1="38.40" y1="858.80" x2="40.80" y2="858.80" stroke="#000" stroke-opacity="0.6" stroke-width="0.8"/>
<text x="35.50" y="860.89" font-size="7.35" text-anchor="end" style="font-family:'DejaVu Sans','Liberation Sans',sans-serif" fill="#1a1a1a" >100</text>
<line x1="38.40" y1="880.50" x2="40.80" y2="880.50" stroke="#000" stroke-opacity="0.6" stroke-width="0.8"/>
<text x="35.50" y="882.59" font-size="7.35" text-anchor="end" style="font-family:'DejaVu Sans','Liberation Sans',sans-serif" fill="#1a1a1a" >50</text>
<line x1="38.40" y1="902.20" x2="40.80" y2="902.20" stroke="#000" stroke-opacity="0.6" stroke-width="0.8"/>
<text x="35.50" y="904.29" font-size="7.35" text-anchor="end" style="font-family:'DejaVu Sans','Liberation Sans',sans-serif" fill="#1a1a1a" >0</text>
<line x1="38.40" y1="923.90" x2="40.80" y2="923.90" stroke="#000" stroke-opacity="0.6" stroke-width="0.8"/>
<text x="35.50" y="925.99" font-size="7.35" text-anchor="end" style="font-family:'DejaVu Sans','Liberation Sans',sans-serif" fill="#1a1a1a" >−50</text>
<text x="135.35" y="732.50" font-size="11.9" text-anchor="middle" style="font-family:'DejaVu Sans','Liberation Sans',sans-serif" fill="#1a1a1a" >Clusters' network</text>
<text x="135.35" y="953.60" font-size="9.8" text-anchor="middle" style="font-family:'DejaVu Sans','Liberation Sans',sans-serif" fill="#1a1a1a" >Distance to centerline (pixel)</text>
<text x="0" y="0" font-size="9.8" text-anchor="middle" style="font-family:'DejaVu Sans','Liberation Sans',sans-serif" fill="#1a1a1a" transform="translate(14.40 834.05) rotate(-90)">Mean bright value (HU)</text>
<text x="117.80" y="972.00" font-size="18.3" text-anchor="middle" style="font-family:'Liberation Sans',sans-serif" fill="#111" >(d)</text>
<rect x="277.50" y="736.40" width="189.00" height="195.30" fill="#fff"/>
<line x1="293.60" y1="788.50" x2="375.20" y2="753.30" stroke="#000" stroke-width="2.1"/>
<line x1="293.60" y1="788.50" x2="434.40" y2="823.70" stroke="#000" stroke-width="2.1"/>
<line x1="293.60" y1="788.50" x2="430.70" y2="832.90" stroke="#000" stroke-width="2.1"/>
<line x1="293.60" y1="788.50" x2="397.50" y2="851.80" stroke="#000" stroke-width="2.1"/>
<line x1="430.70" y1="832.90" x2="450.00" y2="914.50" stroke="#000" stroke-width="2.1"/>
<g transform="translate(334.40 770.90) rotate(-23.33)">
<rect x="-9.75" y="-3.95" width="19.50" height="7.90" fill="#fff"/>
</g>
<g transform="translate(364.00 806.10) rotate(14.04)">
<rect x="-9.75" y="-3.95" width="19.50" height="7.90" fill="#fff"/>
</g>
<g transform="translate(362.15 810.70) rotate(17.94)">
<rect x="-11.40" y="-3.95" width="22.80" height="7.90" fill="#fff"/>
</g>
<g transform="translate(345.55 820.15) rotate(31.35)">
<rect x="-9.75" y="-3.95" width="19.50" height="7.90" fill="#fff"/>
</g>
<g transform="translate(440.35 873.70) rotate(76.69)">
<rect x="-11.40" y="-3.95" width="22.80" height="7.90" fill="#fff"/>
</g>
<g transform="translate(334.40 770.90) rotate(-23.33)">
<text x="0.00" y="1.98" font-size="5.5" text-anchor="middle" style="font-family:'DejaVu Sans','Liberation Sans',sans-serif" fill="#000" >81.43</text>
</g>
<g transform="translate(364.00 806.10) rotate(14.04)">
<text x="0.00" y="1.98" font-size="5.5" text-anchor="middle" style="font-family:'DejaVu Sans','Liberation Sans',sans-serif" fill="#000" >81.21</text>
</g>
<g transform="translate(362.15 810.70) rotate(17.94)">
<text x="0.00" y="1.98" font-size="5.5" text-anchor="middle" style="font-family:'DejaVu Sans','Liberation Sans',sans-serif" fill="#000" >103.67</text>
</g>
<g transform="translate(345.55 820.15) rotate(31.35)">
<text x="0.00" y="1.98" font-size="5.5" text-anchor="middle" style="font-family:'DejaVu Sans','Liberation Sans',sans-serif" fill="#000" >146.7</text>
</g>
<g transform="translate(440.35 873.70) rotate(76.69)">
<text x="0.00" y="1.98" font-size="5.5" text-anchor="middle" style="font-family:'DejaVu Sans','Liberation Sans',sans-serif" fill="#000" >186.41</text>
</g>
<circle cx="375.20" cy="753.30" r="9.0" fill="#1f77b4"/>
<circle cx="293.60" cy="788.50" r="9.0" fill="#1f77b4"/>
<circle cx="434.40" cy="823.70" r="9.0" fill="#1f77b4"/>
<circle cx="430.70" cy="832.90" r="9.0" fill="#1f77b4"/>
<circle cx="397.50" cy="851.80" r="9.0" fill="#1f77b4"/>
<circle cx="450.00" cy="914.50" r="9.0" fill="#1f77b4"/>
<text x="375.20" y="756.80" font-size="13.7" text-anchor="middle" style="font-family:'DejaVu Sans','Liberation Sans',sans-serif" fill="#000" >1</text>
<text x="293.60" y="792.00" font-size="13.7" text-anchor="middle" style="font-family:'DejaVu Sans','Liberation Sans',sans-serif" fill="#000" >0</text>
<text x="434.40" y="827.20" font-size="13.7" text-anchor="middle" style="font-family:'DejaVu Sans','Liberation Sans',sans-serif" fill="#000" >2</text>
<text x="430.70" y="836.40" font-size="13.7" text-anchor="middle" style="font-family:'DejaVu Sans','Liberation Sans',sans-serif" fill="#000" >4</text>
<text x="397.50" y="855.30" font-size="13.7" text-anchor="middle" style="font-family:'DejaVu Sans','Liberation Sans',sans-serif" fill="#000" >3</text>
<text x="450.00" y="918.00" font-size="13.7" text-anchor="middle" style="font-family:'DejaVu Sans','Liberation Sans',sans-serif" fill="#000" >5</text>
<rect x="277.50" y="736.40" width="189.00" height="195.30" fill="none" stroke="#000" stroke-opacity="0.7" stroke-width="0.9"/>
<line x1="293.20" y1="931.70" x2="293.20" y2="934.10" stroke="#000" stroke-opacity="0.6" stroke-width="0.8"/>
<text x="293.20" y="942.20" font-size="7.35" text-anchor="middle" style="font-family:'DejaVu Sans','Liberation Sans',sans-serif" fill="#1a1a1a" >2</text>
<line x1="320.90" y1="931.70" x2="320.90" y2="934.10" stroke="#000" stroke-opacity="0.6" stroke-width="0.8"/>
<text x="320.90" y="942.20" font-size="7.35" text-anchor="middle" style="font-family:'DejaVu Sans','Liberation Sans',sans-serif" fill="#1a1a1a" >4</text>
<line x1="348.60" y1="931.70" x2="348.60" y2="934.10" stroke="#000" stroke-opacity="0.6" stroke-width="0.8"/>
<text x="348.60" y="942.20" font-size="7.35" text-anchor="middle" style="font-family:'DejaVu Sans','Liberation Sans',sans-serif" fill="#1a1a1a" >6</text>
<line x1="376.30" y1="931.70" x2="376.30" y2="934.10" stroke="#000" stroke-opacity="0.6" stroke-width="0.8"/>
<text x="376.30" y="942.20" font-size="7.35" text-anchor="middle" style="font-family:'DejaVu Sans','Liberation Sans',sans-serif" fill="#1a1a1a" >8</text>
<line x1="404.00" y1="931.70" x2="404.00" y2="934.10" stroke="#000" stroke-opacity="0.6" stroke-width="0.8"/>
<text x="404.00" y="942.20" font-size="7.35" text-anchor="middle" style="font-family:'DejaVu Sans','Liberation Sans',sans-serif" fill="#1a1a1a" >10</text>
<line x1="431.70" y1="931.70" x2="431.70" y2="934.10" stroke="#000" stroke-opacity="0.6" stroke-width="0.8"/>
<text x="431.70" y="942.20" font-size="7.35" text-anchor="middle" style="font-family:'DejaVu Sans','Liberation Sans',sans-serif" fill="#1a1a1a" >12</text>
<line x1="459.40" y1="931.70" x2="459.40" y2="934.10" stroke="#000" stroke-opacity="0.6" stroke-width="0.8"/>
<text x="459.40" y="942.20" font-size="7.35" text-anchor="middle" style="font-family:'DejaVu Sans','Liberation Sans',sans-serif" fill="#1a1a1a" >14</text>
<line x1="275.10" y1="750.30" x2="277.50" y2="750.30" stroke="#000" stroke-opacity="0.6" stroke-width="0.8"/>
<text x="272.20" y="752.39" font-size="7.35" text-anchor="end" style="font-family:'DejaVu Sans','Liberation Sans',sans-serif" fill="#1a1a1a" >350</text>
<line x1="275.10" y1="772.00" x2="277.50" y2="772.00" stroke="#000" stroke-opacity="0.6" stroke-width="0.8"/>
<text x="272.20" y="774.09" font-size="7.35" text-anchor="end" style="font-family:'DejaVu Sans','Liberation Sans',sans-serif" fill="#1a1a1a" >300</text>
<line x1="275.10" y1="793.70" x2="277.50" y2="793.70" stroke="#000" stroke-opacity="0.6" stroke-width="0.8"/>
<text x="272.20" y="795.79" font-size="7.35" text-anchor="end" style="font-family:'DejaVu Sans','Liberation Sans',sans-serif" fill="#1a1a1a" >250</text>
<line x1="275.10" y1="815.40" x2="277.50" y2="815.40" stroke="#000" stroke-opacity="0.6" stroke-width="0.8"/>
<text x="272.20" y="817.49" font-size="7.35" text-anchor="end" style="font-family:'DejaVu Sans','Liberation Sans',sans-serif" fill="#1a1a1a" >200</text>
<line x1="275.10" y1="837.10" x2="277.50" y2="837.10" stroke="#000" stroke-opacity="0.6" stroke-width="0.8"/>
<text x="272.20" y="839.19" font-size="7.35" text-anchor="end" style="font-family:'DejaVu Sans','Liberation Sans',sans-serif" fill="#1a1a1a" >150</text>
<line x1="275.10" y1="858.80" x2="277.50" y2="858.80" stroke="#000" stroke-opacity="0.6" stroke-width="0.8"/>
<text x="272.20" y="860.89" font-size="7.35" text-anchor="end" style="font-family:'DejaVu Sans','Liberation Sans',sans-serif" fill="#1a1a1a" >100</text>
<line x1="275.10" y1="880.50" x2="277.50" y2="880.50" stroke="#000" stroke-opacity="0.6" stroke-width="0.8"/>
<text x="272.20" y="882.59" font-size="7.35" text-anchor="end" style="font-family:'DejaVu Sans','Liberation Sans',sans-serif" fill="#1a1a1a" >50</text>
<line x1="275.10" y1="902.20" x2="277.50" y2="902.20" stroke="#000" stroke-opacity="0.6" stroke-width="0.8"/>
<text x="272.20" y="904.29" font-size="7.35" text-anchor="end" style="font-family:'DejaVu Sans','Liberation Sans',sans-serif" fill="#1a1a1a" >0</text>
<line x1="275.10" y1="923.90" x2="277.50" y2="923.90" stroke="#000" stroke-opacity="0.6" stroke-width="0.8"/>
<text x="272.20" y="925.99" font-size="7.35" text-anchor="end" style="font-family:'DejaVu Sans','Liberation Sans',sans-serif" fill="#1a1a1a" >−50</text>
<text x="372.00" y="732.50" font-size="11.9" text-anchor="middle" style="font-family:'DejaVu Sans','Liberation Sans',sans-serif" fill="#1a1a1a" >Clusters' network</text>
<text x="372.00" y="953.60" font-size="9.8" text-anchor="middle" style="font-family:'DejaVu Sans','Liberation Sans',sans-serif" fill="#1a1a1a" >Distance to centerline (pixel)</text>
<text x="0" y="0" font-size="9.8" text-anchor="middle" style="font-family:'DejaVu Sans','Liberation Sans',sans-serif" fill="#1a1a1a" transform="translate(250.90 834.05) rotate(-90)">Mean bright value (HU)</text>
<text x="354.20" y="972.00" font-size="18.3" text-anchor="middle" style="font-family:'Liberation Sans',sans-serif" fill="#111" >(e)</text>
<text x="251.00" y="917.50" font-size="18.3" text-anchor="middle" style="font-family:'Liberation Sans',sans-serif" fill="#111" >(e)</text>
<rect x="514.40" y="736.40" width="188.40" height="195.30" fill="#fff"/>
<line x1="546.90" y1="778.00" x2="596.60" y2="753.00" stroke="#000" stroke-width="2.1"/>
<line x1="546.90" y1="778.00" x2="530.30" y2="807.50" stroke="#000" stroke-width="2.1"/>
<line x1="546.90" y1="778.00" x2="668.00" y2="823.40" stroke="#000" stroke-width="2.1"/>
<line x1="546.90" y1="778.00" x2="663.70" y2="832.90" stroke="#000" stroke-width="2.1"/>
<line x1="530.30" y1="807.50" x2="623.40" y2="851.80" stroke="#000" stroke-width="2.1"/>
<line x1="663.70" y1="832.90" x2="687.00" y2="914.70" stroke="#000" stroke-width="2.1"/>
<g transform="translate(571.75 765.50) rotate(-26.70)">
<rect x="-9.75" y="-3.95" width="19.50" height="7.90" fill="#fff"/>
</g>
<g transform="translate(538.60 792.75) rotate(-60.63)">
<rect x="-9.75" y="-3.95" width="19.50" height="7.90" fill="#fff"/>
</g>
<g transform="translate(607.45 800.70) rotate(20.55)">
<rect x="-11.40" y="-3.95" width="22.80" height="7.90" fill="#fff"/>
</g>
<g transform="translate(605.30 805.45) rotate(25.18)">
<rect x="-11.40" y="-3.95" width="22.80" height="7.90" fill="#fff"/>
</g>
<g transform="translate(576.85 829.65) rotate(25.45)">
<rect x="-11.40" y="-3.95" width="22.80" height="7.90" fill="#fff"/>
</g>
<g transform="translate(675.35 873.80) rotate(74.10)">
<rect x="-11.40" y="-3.95" width="22.80" height="7.90" fill="#fff"/>
</g>
<g transform="translate(571.75 765.50) rotate(-26.70)">
<text x="0.00" y="1.98" font-size="5.5" text-anchor="middle" style="font-family:'DejaVu Sans','Liberation Sans',sans-serif" fill="#000" >57.59</text>
</g>
<g transform="translate(538.60 792.75) rotate(-60.63)">
<text x="0.00" y="1.98" font-size="5.5" text-anchor="middle" style="font-family:'DejaVu Sans','Liberation Sans',sans-serif" fill="#000" >67.24</text>
</g>
<g transform="translate(607.45 800.70) rotate(20.55)">
<text x="0.00" y="1.98" font-size="5.5" text-anchor="middle" style="font-family:'DejaVu Sans','Liberation Sans',sans-serif" fill="#000" >104.53</text>
</g>
<g transform="translate(605.30 805.45) rotate(25.18)">
<text x="0.00" y="1.98" font-size="5.5" text-anchor="middle" style="font-family:'DejaVu Sans','Liberation Sans',sans-serif" fill="#000" >127.09</text>
</g>
<g transform="translate(576.85 829.65) rotate(25.45)">
<text x="0.00" y="1.98" font-size="5.5" text-anchor="middle" style="font-family:'DejaVu Sans','Liberation Sans',sans-serif" fill="#000" >103.14</text>
</g>
<g transform="translate(675.35 873.80) rotate(74.10)">
<text x="0.00" y="1.98" font-size="5.5" text-anchor="middle" style="font-family:'DejaVu Sans','Liberation Sans',sans-serif" fill="#000" >186.41</text>
</g>
<circle cx="596.60" cy="753.00" r="9.0" fill="#1f77b4"/>
<circle cx="546.90" cy="778.00" r="9.0" fill="#1f77b4"/>
<circle cx="530.30" cy="807.50" r="9.0" fill="#1f77b4"/>
<circle cx="668.00" cy="823.40" r="9.0" fill="#1f77b4"/>
<circle cx="663.70" cy="832.90" r="9.0" fill="#1f77b4"/>
<circle cx="623.40" cy="851.80" r="9.0" fill="#1f77b4"/>
<circle cx="687.00" cy="914.70" r="9.0" fill="#1f77b4"/>
<text x="596.60" y="756.50" font-size="13.7" text-anchor="middle" style="font-family:'DejaVu Sans','Liberation Sans',sans-serif" fill="#000" >1</text>
<text x="546.90" y="781.50" font-size="13.7" text-anchor="middle" style="font-family:'DejaVu Sans','Liberation Sans',sans-serif" fill="#000" >0</text>
<text x="530.30" y="811.00" font-size="13.7" text-anchor="middle" style="font-family:'DejaVu Sans','Liberation Sans',sans-serif" fill="#000" >6</text>
<text x="668.00" y="826.90" font-size="13.7" text-anchor="middle" style="font-family:'DejaVu Sans','Liberation Sans',sans-serif" fill="#000" >2</text>
<text x="663.70" y="836.40" font-size="13.7" text-anchor="middle" style="font-family:'DejaVu Sans','Liberation Sans',sans-serif" fill="#000" >4</text>
<text x="623.40" y="855.30" font-size="13.7" text-anchor="middle" style="font-family:'DejaVu Sans','Liberation Sans',sans-serif" fill="#000" >3</text>
<text x="687.00" y="918.20" font-size="13.7" text-anchor="middle" style="font-family:'DejaVu Sans','Liberation Sans',sans-serif" fill="#000" >5</text>
<rect x="514.40" y="736.40" width="188.40" height="195.30" fill="none" stroke="#000" stroke-opacity="0.7" stroke-width="0.9"/>
<line x1="531.30" y1="931.70" x2="531.30" y2="934.10" stroke="#000" stroke-opacity="0.6" stroke-width="0.8"/>
<text x="531.30" y="942.20" font-size="7.35" text-anchor="middle" style="font-family:'DejaVu Sans','Liberation Sans',sans-serif" fill="#1a1a1a" >4</text>
<line x1="564.68" y1="931.70" x2="564.68" y2="934.10" stroke="#000" stroke-opacity="0.6" stroke-width="0.8"/>
<text x="564.68" y="942.20" font-size="7.35" text-anchor="middle" style="font-family:'DejaVu Sans','Liberation Sans',sans-serif" fill="#1a1a1a" >6</text>
<line x1="598.06" y1="931.70" x2="598.06" y2="934.10" stroke="#000" stroke-opacity="0.6" stroke-width="0.8"/>
<text x="598.06" y="942.20" font-size="7.35" text-anchor="middle" style="font-family:'DejaVu Sans','Liberation Sans',sans-serif" fill="#1a1a1a" >8</text>
<line x1="631.44" y1="931.70" x2="631.44" y2="934.10" stroke="#000" stroke-opacity="0.6" stroke-width="0.8"/>
<text x="631.44" y="942.20" font-size="7.35" text-anchor="middle" style="font-family:'DejaVu Sans','Liberation Sans',sans-serif" fill="#1a1a1a" >10</text>
<line x1="664.82" y1="931.70" x2="664.82" y2="934.10" stroke="#000" stroke-opacity="0.6" stroke-width="0.8"/>
<text x="664.82" y="942.20" font-size="7.35" text-anchor="middle" style="font-family:'DejaVu Sans','Liberation Sans',sans-serif" fill="#1a1a1a" >12</text>
<line x1="698.20" y1="931.70" x2="698.20" y2="934.10" stroke="#000" stroke-opacity="0.6" stroke-width="0.8"/>
<text x="698.20" y="942.20" font-size="7.35" text-anchor="middle" style="font-family:'DejaVu Sans','Liberation Sans',sans-serif" fill="#1a1a1a" >14</text>
<line x1="512.00" y1="750.30" x2="514.40" y2="750.30" stroke="#000" stroke-opacity="0.6" stroke-width="0.8"/>
<text x="509.10" y="752.39" font-size="7.35" text-anchor="end" style="font-family:'DejaVu Sans','Liberation Sans',sans-serif" fill="#1a1a1a" >350</text>
<line x1="512.00" y1="772.00" x2="514.40" y2="772.00" stroke="#000" stroke-opacity="0.6" stroke-width="0.8"/>
<text x="509.10" y="774.09" font-size="7.35" text-anchor="end" style="font-family:'DejaVu Sans','Liberation Sans',sans-serif" fill="#1a1a1a" >300</text>
<line x1="512.00" y1="793.70" x2="514.40" y2="793.70" stroke="#000" stroke-opacity="0.6" stroke-width="0.8"/>
<text x="509.10" y="795.79" font-size="7.35" text-anchor="end" style="font-family:'DejaVu Sans','Liberation Sans',sans-serif" fill="#1a1a1a" >250</text>
<line x1="512.00" y1="815.40" x2="514.40" y2="815.40" stroke="#000" stroke-opacity="0.6" stroke-width="0.8"/>
<text x="509.10" y="817.49" font-size="7.35" text-anchor="end" style="font-family:'DejaVu Sans','Liberation Sans',sans-serif" fill="#1a1a1a" >200</text>
<line x1="512.00" y1="837.10" x2="514.40" y2="837.10" stroke="#000" stroke-opacity="0.6" stroke-width="0.8"/>
<text x="509.10" y="839.19" font-size="7.35" text-anchor="end" style="font-family:'DejaVu Sans','Liberation Sans',sans-serif" fill="#1a1a1a" >150</text>
<line x1="512.00" y1="858.80" x2="514.40" y2="858.80" stroke="#000" stroke-opacity="0.6" stroke-width="0.8"/>
<text x="509.10" y="860.89" font-size="7.35" text-anchor="end" style="font-family:'DejaVu Sans','Liberation Sans',sans-serif" fill="#1a1a1a" >100</text>
<line x1="512.00" y1="880.50" x2="514.40" y2="880.50" stroke="#000" stroke-opacity="0.6" stroke-width="0.8"/>
<text x="509.10" y="882.59" font-size="7.35" text-anchor="end" style="font-family:'DejaVu Sans','Liberation Sans',sans-serif" fill="#1a1a1a" >50</text>
<line x1="512.00" y1="902.20" x2="514.40" y2="902.20" stroke="#000" stroke-opacity="0.6" stroke-width="0.8"/>
<text x="509.10" y="904.29" font-size="7.35" text-anchor="end" style="font-family:'DejaVu Sans','Liberation Sans',sans-serif" fill="#1a1a1a" >0</text>
<line x1="512.00" y1="923.90" x2="514.40" y2="923.90" stroke="#000" stroke-opacity="0.6" stroke-width="0.8"/>
<text x="509.10" y="925.99" font-size="7.35" text-anchor="end" style="font-family:'DejaVu Sans','Liberation Sans',sans-serif" fill="#1a1a1a" >−50</text>
<text x="608.60" y="732.50" font-size="11.9" text-anchor="middle" style="font-family:'DejaVu Sans','Liberation Sans',sans-serif" fill="#1a1a1a" >Clusters' network</text>
<text x="608.60" y="953.60" font-size="9.8" text-anchor="middle" style="font-family:'DejaVu Sans','Liberation Sans',sans-serif" fill="#1a1a1a" >Distance to centerline (pixel)</text>
<text x="0" y="0" font-size="9.8" text-anchor="middle" style="font-family:'DejaVu Sans','Liberation Sans',sans-serif" fill="#1a1a1a" transform="translate(487.90 834.05) rotate(-90)">Mean bright value (HU)</text>
<text x="589.20" y="972.00" font-size="18.3" text-anchor="middle" style="font-family:'Liberation Sans',sans-serif" fill="#111" >(f)</text>
<text x="537.70" y="917.50" font-size="18.3" text-anchor="middle" style="font-family:'Liberation Sans',sans-serif" fill="#111" >(f)</text>
</svg></body></html>
